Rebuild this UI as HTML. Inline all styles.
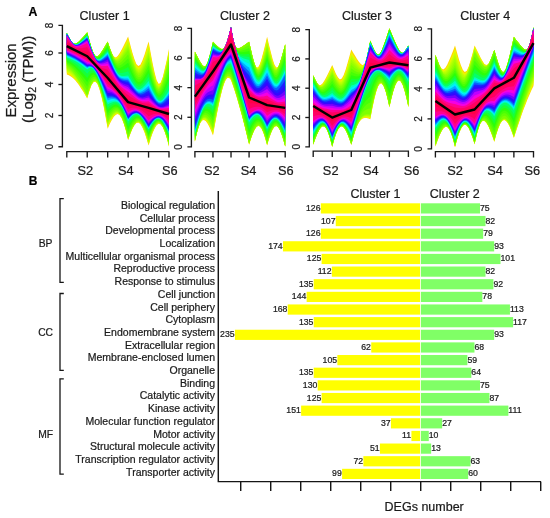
<!DOCTYPE html>
<html><head><meta charset="utf-8"><style>
html,body{margin:0;padding:0;background:#fff;width:550px;height:518px;overflow:hidden}
svg{display:block;will-change:transform}
text{stroke:#1a1a1a;stroke-width:0.22px;paint-order:stroke}
</style></head><body>
<svg width="550" height="518" viewBox="0 0 550 518" font-family="'Liberation Sans', sans-serif">
<rect width="550" height="518" fill="#fff"/>
<path d="M66.8,33.0L68.8,37.1L70.9,40.7L72.9,43.1L75.0,43.8L77.0,43.0L79.1,41.3L81.1,39.2L83.2,36.9L85.2,34.6L87.2,32.2L89.3,39.9L91.3,47.1L93.4,52.8L95.4,56.0L97.5,56.3L99.5,54.6L101.5,51.8L103.6,48.5L105.6,45.0L107.7,41.4L109.7,47.5L111.8,52.9L113.8,56.5L115.9,57.4L117.9,55.8L119.9,52.8L122.0,49.0L124.0,45.0L126.1,40.8L128.1,36.6L130.2,44.4L132.2,52.0L134.3,58.8L136.3,63.9L138.3,66.1L140.4,64.7L142.4,60.5L144.5,54.7L146.5,48.2L148.6,41.4L150.6,52.5L152.6,63.3L154.7,73.1L156.7,80.6L158.8,84.1L160.8,82.5L162.9,76.7L164.9,68.3L167.0,58.9L169.0,49.1L169.0,146.7L167.0,138.9L164.9,132.3L162.9,127.4L160.8,124.5L158.8,123.8L156.7,125.1L154.7,128.3L152.6,133.0L150.6,138.8L148.6,145.5L146.5,138.4L144.5,132.3L142.4,127.4L140.4,124.1L138.3,122.6L136.3,123.1L134.3,125.4L132.2,129.2L130.2,134.2L128.1,140.2L126.1,131.5L124.0,124.3L122.0,118.9L119.9,115.5L117.9,114.1L115.9,114.7L113.8,116.7L111.8,119.9L109.7,124.0L107.7,128.7L105.6,116.9L103.6,106.1L101.5,96.7L99.5,89.2L97.5,84.1L95.4,81.8L93.4,82.3L91.3,85.6L89.3,91.2L87.2,98.5L85.2,95.0L83.2,91.6L81.1,88.4L79.1,85.3L77.0,82.5L75.0,80.1L72.9,78.0L70.9,76.5L68.8,75.3L66.8,74.4Z" fill="#ffd700"/>
<path d="M66.8,33.0L68.8,37.1L70.9,40.7L72.9,43.1L75.0,43.8L77.0,43.0L79.1,41.3L81.1,39.2L83.2,37.0L85.2,34.6L87.2,32.2L89.3,39.9L91.3,47.1L93.4,52.8L95.4,56.0L97.5,56.4L99.5,54.7L101.5,51.9L103.6,48.6L105.6,45.1L107.7,41.5L109.7,47.6L111.8,53.1L113.8,56.9L115.9,58.1L117.9,56.8L119.9,54.1L122.0,50.6L124.0,46.8L126.1,42.8L128.1,38.8L130.2,46.4L132.2,53.7L134.3,60.3L136.3,65.3L138.3,67.6L140.4,66.3L142.4,62.4L144.5,56.8L146.5,50.6L148.6,44.1L150.6,54.9L152.6,65.3L154.7,74.7L156.7,81.8L158.8,85.0L160.8,83.3L162.9,77.6L164.9,69.5L167.0,60.4L169.0,50.9L169.0,146.2L167.0,138.6L164.9,132.1L162.9,127.3L160.8,124.3L158.8,123.5L156.7,124.8L154.7,127.9L152.6,132.4L150.6,138.1L148.6,144.7L146.5,137.7L144.5,131.7L142.4,126.9L140.4,123.7L138.3,122.3L136.3,122.9L134.3,125.1L132.2,128.9L130.2,133.9L128.1,139.8L126.1,131.2L124.0,124.0L122.0,118.5L119.9,115.1L117.9,113.7L115.9,114.1L113.8,116.0L111.8,119.0L109.7,122.9L107.7,127.5L105.6,115.8L103.6,105.2L101.5,96.1L99.5,88.7L97.5,83.7L95.4,81.5L93.4,82.1L91.3,85.3L89.3,90.7L87.2,97.9L85.2,94.4L83.2,90.9L81.1,87.6L79.1,84.5L77.0,81.7L75.0,79.1L72.9,77.0L70.9,75.3L68.8,74.0L66.8,73.0Z" fill="#ecf700"/>
<path d="M66.8,33.0L68.8,37.1L70.9,40.7L72.9,43.1L75.0,43.8L77.0,43.0L79.1,41.4L81.1,39.3L83.2,37.0L85.2,34.7L87.2,32.3L89.3,40.0L91.3,47.1L93.4,52.9L95.4,56.1L97.5,56.4L99.5,54.7L101.5,51.9L103.6,48.6L105.6,45.1L107.7,41.6L109.7,47.7L111.8,53.2L113.8,57.2L115.9,58.8L117.9,57.8L119.9,55.4L122.0,52.1L124.0,48.5L126.1,44.8L128.1,41.1L130.2,48.4L132.2,55.5L134.3,61.9L136.3,66.8L138.3,69.0L140.4,68.0L142.4,64.2L144.5,59.0L146.5,53.0L148.6,46.9L150.6,57.2L152.6,67.2L154.7,76.3L156.7,83.1L158.8,86.0L160.8,84.1L162.9,78.5L164.9,70.7L167.0,61.9L169.0,52.7L169.0,145.8L167.0,138.2L164.9,131.9L162.9,127.1L160.8,124.1L158.8,123.3L156.7,124.4L154.7,127.4L152.6,131.8L150.6,137.4L148.6,143.8L146.5,137.0L144.5,131.1L142.4,126.4L140.4,123.3L138.3,122.0L136.3,122.6L134.3,124.9L132.2,128.7L130.2,133.5L128.1,139.3L126.1,130.8L124.0,123.7L122.0,118.2L119.9,114.7L117.9,113.2L115.9,113.4L113.8,115.2L111.8,118.1L109.7,121.9L107.7,126.3L105.6,114.8L103.6,104.4L101.5,95.4L99.5,88.2L97.5,83.4L95.4,81.2L93.4,81.8L91.3,85.0L89.3,90.3L87.2,97.3L85.2,93.7L83.2,90.3L81.1,86.9L79.1,83.8L77.0,80.8L75.0,78.2L72.9,75.9L70.9,74.1L68.8,72.7L66.8,71.6Z" fill="#cbff00"/>
<path d="M66.8,33.0L68.8,37.1L70.9,40.7L72.9,43.1L75.0,43.8L77.0,43.1L79.1,41.4L81.1,39.3L83.2,37.0L85.2,34.7L87.2,32.4L89.3,40.0L91.3,47.2L93.4,52.9L95.4,56.1L97.5,56.4L99.5,54.8L101.5,52.0L103.6,48.7L105.6,45.2L107.7,41.7L109.7,47.8L111.8,53.4L113.8,57.6L115.9,59.4L117.9,58.8L119.9,56.7L122.0,53.7L124.0,50.3L126.1,46.8L128.1,43.3L130.2,50.4L132.2,57.2L134.3,63.4L136.3,68.2L138.3,70.5L140.4,69.6L142.4,66.1L144.5,61.1L146.5,55.5L148.6,49.6L150.6,59.6L152.6,69.2L154.7,77.8L156.7,84.3L158.8,86.9L160.8,85.0L162.9,79.4L164.9,71.8L167.0,63.3L169.0,54.5L169.0,145.3L167.0,137.9L164.9,131.7L162.9,126.9L160.8,123.9L158.8,123.0L156.7,124.1L154.7,127.0L152.6,131.3L150.6,136.7L148.6,142.9L146.5,136.2L144.5,130.5L142.4,125.9L140.4,123.0L138.3,121.7L136.3,122.4L134.3,124.7L132.2,128.4L130.2,133.2L128.1,138.8L126.1,130.5L124.0,123.4L122.0,117.9L119.9,114.3L117.9,112.7L115.9,112.8L113.8,114.4L111.8,117.2L109.7,120.8L107.7,125.0L105.6,113.8L103.6,103.6L101.5,94.7L99.5,87.7L97.5,83.0L95.4,80.9L93.4,81.6L91.3,84.7L89.3,89.9L87.2,96.7L85.2,93.1L83.2,89.6L81.1,86.2L79.1,83.0L77.0,80.0L75.0,77.2L72.9,74.9L70.9,72.9L68.8,71.4L66.8,70.2Z" fill="#b8ff00"/>
<path d="M66.8,33.0L68.8,37.1L70.9,40.7L72.9,43.1L75.0,43.9L77.0,43.1L79.1,41.4L81.1,39.3L83.2,37.1L85.2,34.7L87.2,32.4L89.3,40.0L91.3,47.2L93.4,52.9L95.4,56.1L97.5,56.5L99.5,54.8L101.5,52.0L103.6,48.8L105.6,45.3L107.7,41.8L109.7,47.9L111.8,53.5L113.8,57.9L115.9,60.0L117.9,59.8L119.9,57.9L122.0,55.2L124.0,52.1L126.1,48.8L128.1,45.5L130.2,52.3L132.2,59.0L134.3,65.0L136.3,69.7L138.3,71.9L140.4,71.2L142.4,68.0L144.5,63.3L146.5,57.9L148.6,52.3L150.6,61.9L152.6,71.2L154.7,79.4L156.7,85.5L158.8,87.8L160.8,85.8L162.9,80.3L164.9,73.0L167.0,64.8L169.0,56.4L169.0,144.9L167.0,137.6L164.9,131.4L162.9,126.7L160.8,123.7L158.8,122.8L156.7,123.7L154.7,126.5L152.6,130.7L150.6,136.0L148.6,142.1L146.5,135.5L144.5,129.9L142.4,125.5L140.4,122.6L138.3,121.5L136.3,122.1L134.3,124.4L132.2,128.1L130.2,132.9L128.1,138.4L126.1,130.1L124.0,123.1L122.0,117.6L119.9,113.9L117.9,112.2L115.9,112.2L113.8,113.7L111.8,116.3L109.7,119.7L107.7,123.8L105.6,112.8L103.6,102.7L101.5,94.1L99.5,87.2L97.5,82.7L95.4,80.7L93.4,81.3L91.3,84.4L89.3,89.5L87.2,96.1L85.2,92.5L83.2,89.0L81.1,85.5L79.1,82.2L77.0,79.1L75.0,76.3L72.9,73.8L70.9,71.7L68.8,70.1L66.8,68.8Z" fill="#a4ff00"/>
<path d="M66.8,33.0L68.8,37.1L70.9,40.7L72.9,43.1L75.0,43.9L77.0,43.1L79.1,41.4L81.1,39.4L83.2,37.1L85.2,34.8L87.2,32.5L89.3,40.1L91.3,47.2L93.4,52.9L95.4,56.1L97.5,56.5L99.5,54.8L101.5,52.1L103.6,48.8L105.6,45.4L107.7,41.9L109.7,48.0L111.8,53.6L113.8,58.2L115.9,60.6L117.9,60.8L119.9,59.2L122.0,56.8L124.0,53.9L126.1,50.9L128.1,47.8L130.2,54.3L132.2,60.7L134.3,66.5L136.3,71.1L138.3,73.4L140.4,72.8L142.4,69.8L144.5,65.4L146.5,60.3L148.6,55.1L150.6,64.3L152.6,73.1L154.7,81.0L156.7,86.7L158.8,88.7L160.8,86.6L162.9,81.2L164.9,74.1L167.0,66.3L169.0,58.2L169.0,144.4L167.0,137.3L164.9,131.2L162.9,126.5L160.8,123.5L158.8,122.5L156.7,123.4L154.7,126.0L152.6,130.1L150.6,135.3L148.6,141.2L146.5,134.8L144.5,129.3L142.4,125.0L140.4,122.2L138.3,121.2L136.3,121.9L134.3,124.2L132.2,127.8L130.2,132.5L128.1,137.9L126.1,129.8L124.0,122.8L122.0,117.3L119.9,113.6L117.9,111.7L115.9,111.6L113.8,112.9L111.8,115.4L109.7,118.7L107.7,122.6L105.6,111.7L103.6,101.9L101.5,93.4L99.5,86.7L97.5,82.3L95.4,80.4L93.4,81.1L91.3,84.1L89.3,89.1L87.2,95.5L85.2,91.9L83.2,88.3L81.1,84.8L79.1,81.5L77.0,78.3L75.0,75.3L72.9,72.8L70.9,70.6L68.8,68.8L66.8,67.4Z" fill="#91ff00"/>
<path d="M66.8,33.0L68.8,37.1L70.9,40.7L72.9,43.1L75.0,43.9L77.0,43.1L79.1,41.5L81.1,39.4L83.2,37.2L85.2,34.8L87.2,32.5L89.3,40.1L91.3,47.2L93.4,52.9L95.4,56.1L97.5,56.5L99.5,54.9L101.5,52.1L103.6,48.9L105.6,45.5L107.7,42.0L109.7,48.1L111.8,53.8L113.8,58.4L115.9,61.2L117.9,61.7L119.9,60.5L122.0,58.3L124.0,55.7L126.1,52.9L128.1,50.0L130.2,56.3L132.2,62.4L134.3,68.1L136.3,72.5L138.3,74.9L140.4,74.4L142.4,71.7L144.5,67.5L146.5,62.8L148.6,57.8L150.6,66.6L152.6,75.1L154.7,82.6L156.7,87.9L158.8,89.6L160.8,87.3L162.9,82.1L164.9,75.3L167.0,67.8L169.0,60.0L169.0,144.0L167.0,137.0L164.9,131.0L162.9,126.3L160.8,123.3L158.8,122.3L156.7,123.1L154.7,125.6L152.6,129.5L150.6,134.6L148.6,140.4L146.5,134.1L144.5,128.7L142.4,124.5L140.4,121.8L138.3,120.9L136.3,121.6L134.3,124.0L132.2,127.6L130.2,132.2L128.1,137.5L126.1,129.4L124.0,122.5L122.0,117.0L119.9,113.2L117.9,111.2L115.9,110.9L113.8,112.1L111.8,114.4L109.7,117.6L107.7,121.4L105.6,110.7L103.6,101.1L101.5,92.8L99.5,86.3L97.5,82.0L95.4,80.1L93.4,80.8L91.3,83.8L89.3,88.6L87.2,94.9L85.2,91.2L83.2,87.6L81.1,84.1L79.1,80.7L77.0,77.4L75.0,74.4L72.9,71.7L70.9,69.4L68.8,67.5L66.8,66.0Z" fill="#7dff00"/>
<path d="M66.8,33.0L68.8,37.1L70.9,40.7L72.9,43.2L75.0,44.0L77.0,43.3L79.1,41.8L81.1,39.8L83.2,37.6L85.2,35.3L87.2,33.0L89.3,40.5L91.3,47.5L93.4,53.1L95.4,56.4L97.5,57.0L99.5,55.6L101.5,53.1L103.6,50.1L105.6,46.9L107.7,43.6L109.7,49.5L111.8,55.1L113.8,59.8L115.9,62.8L117.9,63.8L119.9,63.0L122.0,61.3L124.0,59.1L126.1,56.7L128.1,54.2L130.2,60.1L132.2,65.8L134.3,71.0L136.3,75.1L138.3,77.2L140.4,76.9L142.4,74.4L144.5,70.6L146.5,66.2L148.6,61.7L150.6,69.8L152.6,77.6L154.7,84.6L156.7,89.6L158.8,91.5L160.8,89.6L162.9,85.0L164.9,78.8L167.0,72.0L169.0,65.0L169.0,142.3L167.0,135.7L164.9,130.0L162.9,125.5L160.8,122.7L158.8,121.6L156.7,122.4L154.7,124.7L152.6,128.4L150.6,133.1L148.6,138.6L146.5,132.6L144.5,127.5L142.4,123.5L140.4,120.8L138.3,119.8L136.3,120.3L134.3,122.4L132.2,125.6L130.2,129.9L128.1,134.8L126.1,127.1L124.0,120.5L122.0,115.3L119.9,111.7L117.9,109.8L115.9,109.4L113.8,110.4L111.8,112.4L109.7,115.2L107.7,118.6L105.6,108.6L103.6,99.5L101.5,91.6L99.5,85.2L97.5,80.8L95.4,78.6L93.4,78.7L91.3,81.1L89.3,85.2L87.2,90.7L85.2,87.4L83.2,84.1L81.1,80.9L79.1,77.8L77.0,74.9L75.0,72.2L72.9,69.7L70.9,67.7L68.8,66.0L66.8,64.6Z" fill="#62ff03"/>
<path d="M66.8,33.1L68.8,37.1L70.9,40.7L72.9,43.2L75.0,44.1L77.0,43.6L79.1,42.1L81.1,40.1L83.2,38.0L85.2,35.8L87.2,33.6L89.3,40.8L91.3,47.7L93.4,53.3L95.4,56.7L97.5,57.5L99.5,56.4L101.5,54.1L103.6,51.3L105.6,48.2L107.7,45.2L109.7,50.9L111.8,56.4L113.8,61.1L115.9,64.4L117.9,65.8L119.9,65.5L122.0,64.2L124.0,62.5L126.1,60.5L128.1,58.5L130.2,63.9L132.2,69.1L134.3,73.9L136.3,77.7L138.3,79.6L140.4,79.3L142.4,77.0L144.5,73.6L146.5,69.6L148.6,65.5L150.6,73.0L152.6,80.2L154.7,86.6L156.7,91.4L158.8,93.3L160.8,91.8L162.9,87.8L164.9,82.4L167.0,76.3L169.0,70.0L169.0,140.7L167.0,134.3L164.9,128.9L162.9,124.7L160.8,122.0L158.8,121.0L156.7,121.6L154.7,123.8L152.6,127.2L150.6,131.6L148.6,136.8L146.5,131.2L144.5,126.3L142.4,122.5L140.4,119.9L138.3,118.7L136.3,119.1L134.3,120.8L132.2,123.7L130.2,127.5L128.1,132.1L126.1,124.8L124.0,118.6L122.0,113.6L119.9,110.2L117.9,108.3L115.9,107.9L113.8,108.7L111.8,110.4L109.7,112.8L107.7,115.8L105.6,106.6L103.6,98.0L101.5,90.5L99.5,84.2L97.5,79.7L95.4,77.1L93.4,76.7L91.3,78.3L89.3,81.7L87.2,86.5L85.2,83.5L83.2,80.5L81.1,77.7L79.1,74.9L77.0,72.3L75.0,69.9L72.9,67.8L70.9,65.9L68.8,64.4L66.8,63.2Z" fill="#47ff06"/>
<path d="M66.8,33.1L68.8,37.1L70.9,40.7L72.9,43.2L75.0,44.2L77.0,43.8L79.1,42.4L81.1,40.5L83.2,38.5L85.2,36.3L87.2,34.1L89.3,41.2L91.3,47.9L93.4,53.5L95.4,57.0L97.5,58.0L99.5,57.1L101.5,55.0L103.6,52.4L105.6,49.6L107.7,46.8L109.7,52.3L111.8,57.7L113.8,62.5L115.9,66.0L117.9,67.8L119.9,68.0L122.0,67.1L124.0,65.8L126.1,64.3L128.1,62.8L130.2,67.7L132.2,72.4L134.3,76.8L136.3,80.2L138.3,82.0L140.4,81.7L142.4,79.7L144.5,76.6L146.5,73.1L148.6,69.4L150.6,76.2L152.6,82.7L154.7,88.6L156.7,93.1L158.8,95.1L160.8,94.1L162.9,90.7L164.9,85.9L167.0,80.6L169.0,75.0L169.0,139.0L167.0,133.0L164.9,127.9L162.9,124.0L160.8,121.4L158.8,120.4L156.7,120.9L154.7,122.9L152.6,126.1L150.6,130.2L148.6,134.9L146.5,129.7L144.5,125.1L142.4,121.5L140.4,118.9L138.3,117.7L136.3,117.8L134.3,119.2L132.2,121.8L130.2,125.2L128.1,129.3L126.1,122.5L124.0,116.6L122.0,112.0L119.9,108.7L117.9,106.9L115.9,106.4L113.8,106.9L111.8,108.4L109.7,110.5L107.7,113.0L105.6,104.5L103.6,96.5L101.5,89.4L99.5,83.3L97.5,78.6L95.4,75.6L93.4,74.6L91.3,75.6L89.3,78.2L87.2,82.2L85.2,79.6L83.2,77.0L81.1,74.5L79.1,72.0L77.0,69.7L75.0,67.6L72.9,65.8L70.9,64.2L68.8,62.9L66.8,61.8Z" fill="#2bff0a"/>
<path d="M66.8,33.1L68.8,37.1L70.9,40.7L72.9,43.2L75.0,44.3L77.0,44.0L79.1,42.7L81.1,40.9L83.2,38.9L85.2,36.8L87.2,34.7L89.3,41.6L91.3,48.1L93.4,53.6L95.4,57.3L97.5,58.5L99.5,57.8L101.5,56.0L103.6,53.6L105.6,51.0L107.7,48.3L109.7,53.8L111.8,59.0L113.8,63.8L115.9,67.5L117.9,69.7L119.9,70.4L122.0,70.1L124.0,69.2L126.1,68.2L128.1,67.0L130.2,71.4L132.2,75.8L134.3,79.7L136.3,82.8L138.3,84.4L140.4,84.2L142.4,82.4L144.5,79.6L146.5,76.5L148.6,73.3L150.6,79.4L152.6,85.3L154.7,90.7L156.7,94.9L158.8,96.9L160.8,96.3L162.9,93.5L164.9,89.5L167.0,84.8L169.0,80.0L169.0,137.3L167.0,131.7L164.9,126.9L162.9,123.2L160.8,120.7L158.8,119.7L156.7,120.2L154.7,122.0L152.6,125.0L150.6,128.7L148.6,133.1L146.5,128.3L144.5,124.0L142.4,120.5L140.4,117.9L138.3,116.6L136.3,116.5L134.3,117.7L132.2,119.9L130.2,122.9L128.1,126.6L126.1,120.2L124.0,114.7L122.0,110.3L119.9,107.2L117.9,105.4L115.9,104.8L113.8,105.2L111.8,106.4L109.7,108.1L107.7,110.2L105.6,102.4L103.6,95.0L101.5,88.3L99.5,82.4L97.5,77.6L95.4,74.3L93.4,72.7L91.3,72.9L89.3,74.8L87.2,78.0L85.2,75.7L83.2,73.4L81.1,71.3L79.1,69.2L77.0,67.2L75.0,65.4L72.9,63.8L70.9,62.5L68.8,61.3L66.8,60.3Z" fill="#18ff37"/>
<path d="M66.8,33.2L68.8,37.1L70.9,40.7L72.9,43.2L75.0,44.4L77.0,44.2L79.1,43.0L81.1,41.3L83.2,39.3L85.2,37.3L87.2,35.2L89.3,41.9L91.3,48.3L93.4,53.8L95.4,57.5L97.5,59.0L99.5,58.5L101.5,56.9L103.6,54.8L105.6,52.4L107.7,49.9L109.7,55.2L111.8,60.3L113.8,65.1L115.9,69.0L117.9,71.7L119.9,72.9L122.0,73.0L124.0,72.6L126.1,72.0L128.1,71.2L130.2,75.2L132.2,79.1L134.3,82.6L136.3,85.4L138.3,86.8L140.4,86.6L142.4,85.0L144.5,82.7L146.5,80.0L148.6,77.1L150.6,82.5L152.6,87.8L154.7,92.7L156.7,96.6L158.8,98.7L160.8,98.5L162.9,96.4L164.9,93.0L167.0,89.1L169.0,85.0L169.0,135.7L167.0,130.4L164.9,125.9L162.9,122.4L160.8,120.1L158.8,119.1L156.7,119.5L154.7,121.1L152.6,123.8L150.6,127.3L148.6,131.3L146.5,126.8L144.5,122.8L142.4,119.5L140.4,117.0L138.3,115.6L136.3,115.3L134.3,116.1L132.2,118.0L130.2,120.6L128.1,123.9L126.1,117.9L124.0,112.7L122.0,108.6L119.9,105.7L117.9,104.0L115.9,103.3L113.8,103.5L111.8,104.4L109.7,105.7L107.7,107.4L105.6,100.3L103.6,93.6L101.5,87.3L99.5,81.6L97.5,76.7L95.4,73.0L93.4,70.8L91.3,70.2L89.3,71.3L87.2,73.8L85.2,71.8L83.2,69.9L81.1,68.0L79.1,66.3L77.0,64.6L75.0,63.2L72.9,61.9L70.9,60.7L68.8,59.8L66.8,58.9Z" fill="#05ff6a"/>
<path d="M66.8,33.2L68.8,37.1L70.9,40.7L72.9,43.2L75.0,44.5L77.0,44.4L79.1,43.3L81.1,41.6L83.2,39.8L85.2,37.8L87.2,35.8L89.3,42.3L91.3,48.5L93.4,53.9L95.4,57.8L97.5,59.5L99.5,59.3L101.5,57.9L103.6,55.9L105.6,53.8L107.7,51.5L109.7,56.6L111.8,61.6L113.8,66.4L115.9,70.5L117.9,73.5L119.9,75.3L122.0,75.9L124.0,76.0L126.1,75.8L128.1,75.5L130.2,79.0L132.2,82.4L134.3,85.5L136.3,88.0L138.3,89.2L140.4,89.0L142.4,87.7L144.5,85.7L146.5,83.4L148.6,81.0L150.6,85.7L152.6,90.4L154.7,94.7L156.7,98.3L158.8,100.5L160.8,100.7L162.9,99.2L164.9,96.6L167.0,93.4L169.0,90.0L169.0,134.0L167.0,129.1L164.9,124.9L162.9,121.6L160.8,119.4L158.8,118.5L156.7,118.8L154.7,120.3L152.6,122.7L150.6,125.8L148.6,129.5L146.5,125.4L144.5,121.6L142.4,118.5L140.4,116.1L138.3,114.5L136.3,114.0L134.3,114.6L132.2,116.1L130.2,118.3L128.1,121.2L126.1,115.6L124.0,110.8L122.0,107.0L119.9,104.2L117.9,102.5L115.9,101.8L113.8,101.8L111.8,102.4L109.7,103.3L107.7,104.6L105.6,98.3L103.6,92.1L101.5,86.3L99.5,80.8L97.5,76.0L95.4,71.9L93.4,69.1L91.3,67.7L89.3,67.9L87.2,69.6L85.2,68.0L83.2,66.4L81.1,64.8L79.1,63.4L77.0,62.1L75.0,60.9L72.9,59.9L70.9,59.0L68.8,58.2L66.8,57.5Z" fill="#00ffbc"/>
<path d="M66.8,33.3L68.8,37.1L70.9,40.7L72.9,43.3L75.0,44.7L77.0,44.6L79.1,43.6L81.1,42.0L83.2,40.2L85.2,38.3L87.2,36.4L89.3,42.7L91.3,48.8L93.4,54.1L95.4,58.0L97.5,59.8L99.5,59.8L101.5,58.6L103.6,56.8L105.6,54.8L107.7,52.8L109.7,57.7L111.8,62.6L113.8,67.3L115.9,71.3L117.9,74.4L119.9,76.2L122.0,77.0L124.0,77.2L126.1,77.2L128.1,77.1L130.2,80.4L132.2,83.6L134.3,86.6L136.3,89.0L138.3,90.4L140.4,90.4L142.4,89.3L144.5,87.6L146.5,85.6L148.6,83.4L150.6,87.8L152.6,92.1L154.7,96.1L156.7,99.4L158.8,101.3L160.8,101.5L162.9,100.1L164.9,97.7L167.0,94.8L169.0,91.7L169.0,133.1L167.0,128.4L164.9,124.3L162.9,121.2L160.8,119.1L158.8,118.2L156.7,118.5L154.7,119.9L152.6,122.3L150.6,125.3L148.6,128.8L146.5,124.8L144.5,121.2L142.4,118.1L140.4,115.7L138.3,114.2L136.3,113.7L134.3,114.2L132.2,115.6L130.2,117.8L128.1,120.5L126.1,115.1L124.0,110.3L122.0,106.5L119.9,103.6L117.9,101.7L115.9,100.7L113.8,100.4L111.8,100.7L109.7,101.5L107.7,102.5L105.6,96.5L103.6,90.6L101.5,85.1L99.5,79.9L97.5,75.2L95.4,71.4L93.4,68.7L91.3,67.3L89.3,67.4L87.2,68.8L85.2,67.2L83.2,65.6L81.1,64.1L79.1,62.7L77.0,61.4L75.0,60.2L72.9,59.2L70.9,58.2L68.8,57.4L66.8,56.7Z" fill="#00eeff"/>
<path d="M66.8,33.5L68.8,37.2L70.9,40.7L72.9,43.3L75.0,44.8L77.0,44.8L79.1,43.9L81.1,42.4L83.2,40.7L85.2,38.8L87.2,37.0L89.3,43.1L91.3,49.1L93.4,54.3L95.4,58.2L97.5,60.2L99.5,60.3L101.5,59.3L103.6,57.7L105.6,55.9L107.7,54.0L109.7,58.8L111.8,63.6L113.8,68.2L115.9,72.2L117.9,75.3L119.9,77.2L122.0,78.1L124.0,78.5L126.1,78.6L128.1,78.6L130.2,81.8L132.2,84.9L134.3,87.7L136.3,90.1L138.3,91.6L140.4,91.8L142.4,91.0L144.5,89.5L146.5,87.7L148.6,85.9L150.6,89.9L152.6,93.8L154.7,97.5L156.7,100.5L158.8,102.2L160.8,102.3L162.9,101.0L164.9,98.8L167.0,96.2L169.0,93.5L169.0,132.3L167.0,127.7L164.9,123.8L162.9,120.7L160.8,118.7L158.8,117.9L156.7,118.3L154.7,119.6L152.6,121.9L150.6,124.7L148.6,128.1L146.5,124.2L144.5,120.7L142.4,117.7L140.4,115.4L138.3,113.9L136.3,113.3L134.3,113.8L132.2,115.1L130.2,117.2L128.1,119.8L126.1,114.5L124.0,109.9L122.0,106.0L119.9,102.9L117.9,100.8L115.9,99.6L113.8,99.1L111.8,99.1L109.7,99.6L107.7,100.4L105.6,94.6L103.6,89.1L101.5,83.8L99.5,78.9L97.5,74.5L95.4,70.9L93.4,68.2L91.3,66.9L89.3,66.8L87.2,67.9L85.2,66.4L83.2,64.8L81.1,63.3L79.1,61.9L77.0,60.6L75.0,59.5L72.9,58.4L70.9,57.5L68.8,56.6L66.8,55.8Z" fill="#00afff"/>
<path d="M66.8,33.6L68.8,37.3L70.9,40.7L72.9,43.4L75.0,44.9L77.0,45.0L79.1,44.2L81.1,42.8L83.2,41.1L85.2,39.4L87.2,37.6L89.3,43.6L91.3,49.4L93.4,54.5L95.4,58.5L97.5,60.5L99.5,60.9L101.5,60.0L103.6,58.6L105.6,57.0L107.7,55.3L109.7,60.0L111.8,64.6L113.8,69.1L115.9,73.0L117.9,76.2L119.9,78.2L122.0,79.2L124.0,79.7L126.1,80.0L128.1,80.2L130.2,83.2L132.2,86.1L134.3,88.8L136.3,91.1L138.3,92.7L140.4,93.2L142.4,92.6L144.5,91.4L146.5,89.9L148.6,88.3L150.6,92.0L152.6,95.6L154.7,98.9L156.7,101.6L158.8,103.1L160.8,103.2L162.9,102.0L164.9,100.0L167.0,97.7L169.0,95.3L169.0,131.3L167.0,126.9L164.9,123.2L162.9,120.3L160.8,118.4L158.8,117.6L156.7,118.0L154.7,119.3L152.6,121.4L150.6,124.2L148.6,127.4L146.5,123.6L144.5,120.2L142.4,117.3L140.4,115.0L138.3,113.5L136.3,113.0L134.3,113.4L132.2,114.6L130.2,116.6L128.1,119.1L126.1,114.0L124.0,109.4L122.0,105.5L119.9,102.3L117.9,100.0L115.9,98.6L113.8,97.8L111.8,97.6L109.7,97.8L107.7,98.3L105.6,92.9L103.6,87.6L101.5,82.6L99.5,78.0L97.5,73.8L95.4,70.4L93.4,67.8L91.3,66.4L89.3,66.2L87.2,67.1L85.2,65.6L83.2,64.1L81.1,62.6L79.1,61.2L77.0,59.9L75.0,58.7L72.9,57.7L70.9,56.7L68.8,55.8L66.8,55.0Z" fill="#0a5fff"/>
<path d="M66.8,34.0L68.8,37.6L70.9,40.9L72.9,43.6L75.0,45.1L77.0,45.2L79.1,44.4L81.1,43.1L83.2,41.5L85.2,39.9L87.2,38.2L89.3,44.0L91.3,49.6L93.4,54.7L95.4,58.7L97.5,60.9L99.5,61.5L101.5,60.9L103.6,59.7L105.6,58.3L107.7,56.7L109.7,61.3L111.8,65.8L113.8,70.1L115.9,74.0L117.9,77.1L119.9,79.2L122.0,80.4L124.0,81.1L126.1,81.5L128.1,81.8L130.2,84.6L132.2,87.3L134.3,89.9L136.3,92.2L138.3,93.8L140.4,94.5L142.4,94.2L144.5,93.3L146.5,92.0L148.6,90.7L150.6,93.9L152.6,97.1L154.7,100.1L156.7,102.6L158.8,104.2L160.8,104.4L162.9,103.6L164.9,102.0L167.0,100.1L169.0,98.2L169.0,130.0L167.0,125.9L164.9,122.3L162.9,119.6L160.8,117.9L158.8,117.2L156.7,117.6L154.7,118.8L152.6,120.8L150.6,123.4L148.6,126.3L146.5,122.7L144.5,119.5L142.4,116.7L140.4,114.5L138.3,113.1L136.3,112.5L134.3,112.9L132.2,114.0L130.2,115.9L128.1,118.2L126.1,113.3L124.0,108.8L122.0,104.9L119.9,101.7L117.9,99.3L115.9,97.6L113.8,96.7L111.8,96.2L109.7,96.2L107.7,96.5L105.6,91.3L103.6,86.4L101.5,81.6L99.5,77.2L97.5,73.2L95.4,69.9L93.4,67.5L91.3,66.1L89.3,65.8L87.2,66.4L85.2,64.9L83.2,63.4L81.1,62.0L79.1,60.6L77.0,59.3L75.0,58.1L72.9,57.0L70.9,56.0L68.8,55.1L66.8,54.3Z" fill="#1e1eff"/>
<path d="M66.8,34.4L68.8,37.8L70.9,41.1L72.9,43.7L75.0,45.2L77.0,45.4L79.1,44.7L81.1,43.4L83.2,42.0L85.2,40.4L87.2,38.8L89.3,44.4L91.3,49.9L93.4,54.9L95.4,58.9L97.5,61.3L99.5,62.1L101.5,61.7L103.6,60.8L105.6,59.5L107.7,58.2L109.7,62.6L111.8,67.0L113.8,71.2L115.9,75.0L117.9,78.1L119.9,80.2L122.0,81.5L124.0,82.4L126.1,83.0L128.1,83.5L130.2,86.1L132.2,88.6L134.3,91.1L136.3,93.3L138.3,95.0L140.4,95.8L142.4,95.8L144.5,95.1L146.5,94.1L148.6,93.0L150.6,95.9L152.6,98.7L154.7,101.4L156.7,103.6L158.8,105.2L160.8,105.7L162.9,105.2L164.9,104.0L167.0,102.5L169.0,101.0L169.0,128.7L167.0,124.8L164.9,121.5L162.9,119.0L160.8,117.4L158.8,116.8L156.7,117.2L154.7,118.4L152.6,120.2L150.6,122.6L148.6,125.3L146.5,121.9L144.5,118.8L142.4,116.1L140.4,114.0L138.3,112.6L136.3,112.1L134.3,112.4L132.2,113.4L130.2,115.1L128.1,117.3L126.1,112.5L124.0,108.2L122.0,104.3L119.9,101.1L117.9,98.6L115.9,96.7L113.8,95.6L111.8,94.9L109.7,94.7L107.7,94.7L105.6,89.8L103.6,85.1L101.5,80.6L99.5,76.4L97.5,72.6L95.4,69.5L93.4,67.1L91.3,65.7L89.3,65.3L87.2,65.7L85.2,64.2L83.2,62.7L81.1,61.3L79.1,59.9L77.0,58.7L75.0,57.5L72.9,56.4L70.9,55.4L68.8,54.4L66.8,53.6Z" fill="#3507ff"/>
<path d="M66.8,34.7L68.8,38.1L70.9,41.3L72.9,43.9L75.0,45.4L77.0,45.6L79.1,45.0L81.1,43.8L83.2,42.4L85.2,40.9L87.2,39.4L89.3,44.8L91.3,50.1L93.4,55.0L95.4,59.1L97.5,61.7L99.5,62.7L101.5,62.6L103.6,61.8L105.6,60.8L107.7,59.6L109.7,63.9L111.8,68.1L113.8,72.2L115.9,75.9L117.9,79.0L119.9,81.3L122.0,82.7L124.0,83.7L126.1,84.4L128.1,85.1L130.2,87.5L132.2,89.9L134.3,92.2L136.3,94.3L138.3,96.1L140.4,97.1L142.4,97.4L144.5,97.0L146.5,96.3L148.6,95.4L150.6,97.9L152.6,100.3L154.7,102.6L156.7,104.7L158.8,106.2L160.8,106.9L162.9,106.7L164.9,106.0L167.0,104.9L169.0,103.8L169.0,127.3L167.0,123.7L164.9,120.6L162.9,118.3L160.8,116.9L158.8,116.4L156.7,116.8L154.7,117.9L152.6,119.6L150.6,121.8L148.6,124.2L146.5,121.0L144.5,118.0L142.4,115.5L140.4,113.5L138.3,112.2L136.3,111.6L134.3,111.9L132.2,112.8L130.2,114.4L128.1,116.4L126.1,111.8L124.0,107.6L122.0,103.7L119.9,100.5L117.9,97.8L115.9,95.8L113.8,94.5L111.8,93.6L109.7,93.1L107.7,92.9L105.6,88.3L103.6,83.8L101.5,79.5L99.5,75.6L97.5,72.0L95.4,69.0L93.4,66.8L91.3,65.4L89.3,64.8L87.2,65.0L85.2,63.5L83.2,62.1L81.1,60.7L79.1,59.3L77.0,58.0L75.0,56.8L72.9,55.7L70.9,54.7L68.8,53.8L66.8,52.9Z" fill="#7200ff"/>
<path d="M66.8,35.3L68.8,38.5L70.9,41.6L72.9,44.1L75.0,45.7L77.0,46.0L79.1,45.4L81.1,44.4L83.2,43.1L85.2,41.8L87.2,40.4L89.3,45.6L91.3,50.7L93.4,55.4L95.4,59.4L97.5,62.2L99.5,63.5L101.5,63.6L103.6,63.2L105.6,62.4L107.7,61.6L109.7,65.7L111.8,69.7L113.8,73.6L115.9,77.2L117.9,80.3L119.9,82.6L122.0,84.2L124.0,85.4L126.1,86.3L128.1,87.2L130.2,89.4L132.2,91.5L134.3,93.6L136.3,95.6L138.3,97.2L140.4,98.3L142.4,98.8L144.5,98.6L146.5,98.1L148.6,97.5L150.6,99.6L152.6,101.8L154.7,103.8L156.7,105.6L158.8,107.0L160.8,107.6L162.9,107.6L164.9,107.0L167.0,106.3L169.0,105.4L169.0,125.9L167.0,122.6L164.9,119.8L162.9,117.7L160.8,116.4L158.8,115.9L156.7,116.3L154.7,117.3L152.6,118.8L150.6,120.8L148.6,122.9L146.5,119.9L144.5,117.1L142.4,114.8L140.4,112.9L138.3,111.6L136.3,111.0L134.3,111.1L132.2,111.9L130.2,113.3L128.1,115.1L126.1,110.7L124.0,106.6L122.0,102.9L119.9,99.6L117.9,96.9L115.9,94.8L113.8,93.2L111.8,92.1L109.7,91.4L107.7,90.9L105.6,86.6L103.6,82.4L101.5,78.4L99.5,74.7L97.5,71.4L95.4,68.5L93.4,66.3L91.3,64.8L89.3,64.0L87.2,63.9L85.2,62.4L83.2,61.1L81.1,59.7L79.1,58.4L77.0,57.2L75.0,56.0L72.9,54.9L70.9,53.9L68.8,53.0L66.8,52.1Z" fill="#bd00ff"/>
<path d="M66.8,35.9L68.8,39.0L70.9,42.0L72.9,44.4L75.0,46.0L77.0,46.4L79.1,46.0L81.1,45.1L83.2,44.0L85.2,42.8L87.2,41.6L89.3,46.5L91.3,51.3L93.4,55.8L95.4,59.8L97.5,62.7L99.5,64.3L101.5,64.8L103.6,64.6L105.6,64.2L107.7,63.7L109.7,67.5L111.8,71.4L113.8,75.1L115.9,78.6L117.9,81.6L119.9,84.0L122.0,85.8L124.0,87.2L126.1,88.3L128.1,89.5L130.2,91.4L132.2,93.3L134.3,95.2L136.3,96.9L138.3,98.5L140.4,99.6L142.4,100.1L144.5,100.1L146.5,99.8L148.6,99.4L150.6,101.3L152.6,103.1L154.7,104.9L156.7,106.5L158.8,107.6L160.8,108.2L162.9,108.2L164.9,107.8L167.0,107.3L169.0,106.6L169.0,124.6L167.0,121.5L164.9,118.9L162.9,117.0L160.8,115.8L158.8,115.5L156.7,115.8L154.7,116.7L152.6,118.0L150.6,119.7L148.6,121.6L146.5,118.8L144.5,116.2L142.4,114.0L140.4,112.2L138.3,110.9L136.3,110.3L134.3,110.3L132.2,110.9L130.2,112.1L128.1,113.6L126.1,109.5L124.0,105.6L122.0,102.0L119.9,98.8L117.9,96.0L115.9,93.7L113.8,91.9L111.8,90.6L109.7,89.6L107.7,88.8L105.6,84.9L103.6,81.0L101.5,77.3L99.5,73.9L97.5,70.7L95.4,67.9L93.4,65.7L91.3,64.1L89.3,63.1L87.2,62.6L85.2,61.3L83.2,60.0L81.1,58.7L79.1,57.4L77.0,56.3L75.0,55.1L72.9,54.1L70.9,53.1L68.8,52.1L66.8,51.2Z" fill="#f400e3"/>
<path d="M66.8,36.5L68.8,39.5L70.9,42.3L72.9,44.7L75.0,46.2L77.0,46.8L79.1,46.5L81.1,45.8L83.2,44.9L85.2,43.9L87.2,42.9L89.3,47.4L91.3,51.9L93.4,56.3L95.4,60.1L97.5,63.2L99.5,65.0L101.5,65.9L103.6,66.1L105.6,66.0L107.7,65.8L109.7,69.4L111.8,73.0L113.8,76.6L115.9,79.9L117.9,83.0L119.9,85.4L122.0,87.4L124.0,89.0L126.1,90.4L128.1,91.7L130.2,93.4L132.2,95.1L134.3,96.7L136.3,98.3L138.3,99.7L140.4,100.8L142.4,101.4L144.5,101.5L146.5,101.5L148.6,101.3L150.6,102.9L152.6,104.5L154.7,106.0L156.7,107.4L158.8,108.3L160.8,108.8L162.9,108.8L164.9,108.6L167.0,108.2L169.0,107.9L169.0,123.2L167.0,120.4L164.9,118.1L162.9,116.3L160.8,115.3L158.8,115.0L156.7,115.2L154.7,116.0L152.6,117.1L150.6,118.6L148.6,120.2L146.5,117.6L144.5,115.3L142.4,113.2L140.4,111.5L138.3,110.3L136.3,109.6L134.3,109.5L132.2,109.9L130.2,110.9L128.1,112.2L126.1,108.3L124.0,104.6L122.0,101.1L119.9,97.9L117.9,95.1L115.9,92.7L113.8,90.7L111.8,89.1L109.7,87.8L107.7,86.8L105.6,83.1L103.6,79.6L101.5,76.2L99.5,73.0L97.5,70.0L95.4,67.3L93.4,65.1L91.3,63.4L89.3,62.2L87.2,61.4L85.2,60.1L83.2,58.9L81.1,57.6L79.1,56.5L77.0,55.3L75.0,54.3L72.9,53.2L70.9,52.2L68.8,51.3L66.8,50.4Z" fill="#ff0090"/>
<path d="M66.8,39.5L68.8,41.9L70.9,44.1L72.9,46.1L75.0,47.5L77.0,48.2L79.1,48.3L81.1,48.2L83.2,47.8L85.2,47.5L87.2,47.1L89.3,50.9L91.3,54.6L93.4,58.3L95.4,61.6L97.5,64.4L99.5,66.4L101.5,67.7L103.6,68.5L105.6,69.1L107.7,69.7L109.7,72.9L111.8,76.2L113.8,79.3L115.9,82.4L117.9,85.2L119.9,87.7L122.0,89.8L124.0,91.7L126.1,93.4L128.1,95.1L130.2,96.4L132.2,97.7L134.3,99.0L136.3,100.3L138.3,101.4L140.4,102.3L142.4,102.9L144.5,103.2L146.5,103.4L148.6,103.4L150.6,104.7L152.6,106.0L154.7,107.2L156.7,108.3L158.8,109.2L160.8,109.7L162.9,109.9L164.9,109.9L167.0,109.9L169.0,109.8L169.0,120.2L167.0,118.1L164.9,116.4L162.9,115.0L160.8,114.1L158.8,113.7L156.7,113.7L154.7,114.0L152.6,114.6L150.6,115.4L148.6,116.3L146.5,114.3L144.5,112.6L142.4,111.0L140.4,109.6L138.3,108.6L136.3,107.9L134.3,107.7L132.2,107.8L130.2,108.3L128.1,109.0L126.1,105.6L124.0,102.3L122.0,99.1L119.9,96.2L117.9,93.5L115.9,91.0L113.8,88.9L111.8,87.0L109.7,85.4L107.7,83.9L105.6,80.8L103.6,77.7L101.5,74.7L99.5,71.8L97.5,69.1L95.4,66.6L93.4,64.4L91.3,62.5L89.3,61.0L87.2,59.7L85.2,58.5L83.2,57.4L81.1,56.2L79.1,55.1L77.0,54.0L75.0,52.9L72.9,51.9L70.9,50.9L68.8,50.0L66.8,49.0Z" fill="#ff0060"/>
<path d="M66.8,42.8L68.8,44.5L70.9,46.1L72.9,47.6L75.0,48.8L77.0,49.7L79.1,50.3L81.1,50.7L83.2,51.0L85.2,51.4L87.2,51.7L89.3,54.7L91.3,57.6L93.4,60.6L95.4,63.3L97.5,65.8L99.5,67.9L101.5,69.6L103.6,71.1L105.6,72.5L107.7,73.8L109.7,76.7L111.8,79.5L113.8,82.3L115.9,85.0L117.9,87.6L119.9,90.1L122.0,92.3L124.0,94.5L126.1,96.5L128.1,98.6L130.2,99.5L132.2,100.5L134.3,101.4L136.3,102.3L138.3,103.2L140.4,103.9L142.4,104.5L144.5,104.9L146.5,105.3L148.6,105.6L150.6,106.6L152.6,107.5L154.7,108.4L156.7,109.3L158.8,110.0L160.8,110.6L162.9,111.0L164.9,111.3L167.0,111.6L169.0,111.9L169.0,117.1L167.0,115.8L164.9,114.6L162.9,113.6L160.8,112.8L158.8,112.3L156.7,112.0L154.7,111.8L152.6,111.8L150.6,111.9L148.6,112.0L146.5,110.8L144.5,109.6L142.4,108.5L140.4,107.6L138.3,106.8L136.3,106.2L134.3,105.7L132.2,105.5L130.2,105.5L128.1,105.5L126.1,102.6L124.0,99.8L122.0,97.0L119.9,94.3L117.9,91.8L115.9,89.3L113.8,87.1L111.8,84.9L109.7,82.9L107.7,81.0L105.6,78.3L103.6,75.7L101.5,73.1L99.5,70.6L97.5,68.1L95.4,65.8L93.4,63.6L91.3,61.6L89.3,59.7L87.2,58.0L85.2,56.9L83.2,55.8L81.1,54.7L79.1,53.7L77.0,52.6L75.0,51.6L72.9,50.5L70.9,49.5L68.8,48.5L66.8,47.6Z" fill="#ff0048"/>
<path d="M66.8,46.1L87.2,56.3L107.7,78.0L128.1,102.1L148.6,107.8L169.0,114.0" fill="none" stroke="#000" stroke-width="2.4" stroke-linejoin="round"/>
<path d="M194.9,51.5L196.7,55.1L198.5,58.6L200.3,61.9L202.1,64.7L203.9,66.4L205.7,65.9L207.5,62.6L209.3,56.7L211.2,49.4L213.0,41.6L214.8,43.5L216.6,45.3L218.4,47.0L220.2,48.4L222.0,49.1L223.8,48.4L225.6,45.6L227.4,40.5L229.2,34.0L231.0,26.9L232.8,36.9L234.6,44.4L236.4,47.8L238.2,48.4L240.0,47.8L241.9,46.7L243.7,45.5L245.5,44.2L247.3,42.9L249.1,41.6L250.9,49.6L252.7,57.2L254.5,63.5L256.3,67.3L258.1,67.4L259.9,64.0L261.7,58.3L263.5,51.5L265.3,44.2L267.1,36.7L268.9,44.5L270.8,52.1L272.6,59.1L274.4,64.6L276.2,67.5L278.0,66.9L279.8,63.1L281.6,57.4L283.4,50.9L285.2,44.1L285.2,146.8L283.4,140.1L281.6,134.4L279.8,129.9L278.0,127.0L276.2,126.0L274.4,127.0L272.6,129.6L270.8,133.8L268.9,139.2L267.1,145.4L265.3,138.7L263.5,133.1L261.7,129.0L259.9,126.5L258.1,126.0L256.3,127.2L254.5,130.0L252.7,134.0L250.9,139.0L249.1,144.7L247.3,137.2L245.5,129.8L243.7,122.6L241.9,115.6L240.0,108.8L238.2,102.4L236.4,96.3L234.6,90.6L232.8,85.2L231.0,80.0L229.2,78.1L227.4,78.0L225.6,80.2L223.8,84.5L222.0,90.6L220.2,98.1L218.4,106.6L216.6,115.8L214.8,125.5L213.0,135.5L211.2,130.9L209.3,126.8L207.5,123.4L205.7,121.0L203.9,120.0L202.1,120.6L200.3,123.1L198.5,127.6L196.7,133.9L194.9,141.7Z" fill="#ffd700"/>
<path d="M194.9,51.6L196.7,55.1L198.5,58.6L200.3,61.9L202.1,64.7L203.9,66.4L205.7,66.0L207.5,62.7L209.3,56.8L211.2,49.5L213.0,41.7L214.8,43.5L216.6,45.3L218.4,47.0L220.2,48.4L222.0,49.1L223.8,48.4L225.6,45.6L227.4,40.5L229.2,34.0L231.0,26.9L232.8,36.9L234.6,44.4L236.4,47.8L238.2,48.4L240.0,47.8L241.9,46.8L243.7,45.6L245.5,44.3L247.3,43.0L249.1,41.7L250.9,49.6L252.7,57.2L254.5,63.6L256.3,67.6L258.1,68.1L259.9,65.0L261.7,59.6L263.5,53.0L265.3,45.9L267.1,38.7L268.9,46.2L270.8,53.6L272.6,60.4L274.4,65.6L276.2,68.1L278.0,67.2L279.8,63.2L281.6,57.5L283.4,51.0L285.2,44.2L285.2,146.7L283.4,140.0L281.6,134.3L279.8,129.8L278.0,127.0L276.2,125.9L274.4,126.8L272.6,129.4L270.8,133.6L268.9,138.9L267.1,145.1L265.3,138.4L263.5,132.9L261.7,128.8L259.9,126.4L258.1,125.8L256.3,127.0L254.5,129.8L252.7,133.8L250.9,138.8L249.1,144.4L247.3,136.9L245.5,129.5L243.7,122.3L241.9,115.2L240.0,108.4L238.2,102.0L236.4,95.9L234.6,90.1L232.8,84.7L231.0,79.5L229.2,77.6L227.4,77.6L225.6,79.7L223.8,84.0L222.0,90.0L220.2,97.4L218.4,105.7L216.6,114.8L214.8,124.3L213.0,134.2L211.2,129.7L209.3,125.7L207.5,122.5L205.7,120.3L203.9,119.4L202.1,120.2L200.3,122.8L198.5,127.4L196.7,133.8L194.9,141.5Z" fill="#ecf700"/>
<path d="M194.9,51.7L196.7,55.2L198.5,58.7L200.3,62.0L202.1,64.8L203.9,66.4L205.7,66.0L207.5,62.7L209.3,56.8L211.2,49.5L213.0,41.7L214.8,43.6L216.6,45.4L218.4,47.1L220.2,48.4L222.0,49.1L223.8,48.5L225.6,45.6L227.4,40.5L229.2,34.0L231.0,26.9L232.8,36.9L234.6,44.4L236.4,47.8L238.2,48.4L240.0,47.8L241.9,46.8L243.7,45.6L245.5,44.4L247.3,43.0L249.1,41.7L250.9,49.6L252.7,57.2L254.5,63.7L256.3,67.9L258.1,68.7L259.9,66.0L261.7,60.9L263.5,54.6L265.3,47.7L267.1,40.6L268.9,48.0L270.8,55.2L272.6,61.7L274.4,66.6L276.2,68.7L278.0,67.4L279.8,63.3L281.6,57.5L283.4,51.0L285.2,44.2L285.2,146.5L283.4,139.9L281.6,134.2L279.8,129.7L278.0,126.9L276.2,125.8L274.4,126.6L272.6,129.2L270.8,133.3L268.9,138.6L267.1,144.7L265.3,138.1L263.5,132.6L261.7,128.5L259.9,126.2L258.1,125.6L256.3,126.9L254.5,129.6L252.7,133.6L250.9,138.5L249.1,144.1L247.3,136.6L245.5,129.2L243.7,122.0L241.9,114.9L240.0,108.1L238.2,101.6L236.4,95.4L234.6,89.7L232.8,84.2L231.0,79.0L229.2,77.2L227.4,77.2L225.6,79.3L223.8,83.4L222.0,89.4L220.2,96.6L218.4,104.8L216.6,113.7L214.8,123.1L213.0,132.8L211.2,128.5L209.3,124.7L207.5,121.6L205.7,119.6L203.9,118.8L202.1,119.8L200.3,122.6L198.5,127.2L196.7,133.6L194.9,141.3Z" fill="#cbff00"/>
<path d="M194.9,51.8L196.7,55.3L198.5,58.8L200.3,62.0L202.1,64.8L203.9,66.5L205.7,66.0L207.5,62.7L209.3,56.9L211.2,49.6L213.0,41.8L214.8,43.6L216.6,45.4L218.4,47.1L220.2,48.5L222.0,49.2L223.8,48.5L225.6,45.6L227.4,40.5L229.2,34.0L231.0,26.9L232.8,36.9L234.6,44.4L236.4,47.8L238.2,48.4L240.0,47.9L241.9,46.9L243.7,45.7L245.5,44.4L247.3,43.1L249.1,41.8L250.9,49.7L252.7,57.2L254.5,63.7L256.3,68.2L258.1,69.4L259.9,67.0L261.7,62.2L263.5,56.1L265.3,49.4L267.1,42.5L268.9,49.8L270.8,56.7L272.6,62.9L274.4,67.5L276.2,69.3L278.0,67.7L279.8,63.4L281.6,57.6L283.4,51.0L285.2,44.3L285.2,146.4L283.4,139.8L281.6,134.1L279.8,129.7L278.0,126.8L276.2,125.7L274.4,126.5L272.6,129.0L270.8,133.0L268.9,138.3L267.1,144.4L265.3,137.8L263.5,132.4L261.7,128.3L259.9,126.0L258.1,125.5L256.3,126.7L254.5,129.4L252.7,133.4L250.9,138.3L249.1,143.8L247.3,136.3L245.5,128.9L243.7,121.6L241.9,114.6L240.0,107.7L238.2,101.2L236.4,95.0L234.6,89.2L232.8,83.7L231.0,78.5L229.2,76.7L227.4,76.8L225.6,78.8L223.8,82.9L222.0,88.7L220.2,95.8L218.4,103.9L216.6,112.7L214.8,121.9L213.0,131.5L211.2,127.3L209.3,123.6L207.5,120.7L205.7,118.8L203.9,118.3L202.1,119.4L200.3,122.3L198.5,127.0L196.7,133.4L194.9,141.1Z" fill="#b8ff00"/>
<path d="M194.9,51.8L196.7,55.4L198.5,58.8L200.3,62.1L202.1,64.8L203.9,66.5L205.7,66.1L207.5,62.8L209.3,56.9L211.2,49.6L213.0,41.9L214.8,43.7L216.6,45.5L218.4,47.1L220.2,48.5L222.0,49.2L223.8,48.5L225.6,45.6L227.4,40.5L229.2,34.0L231.0,26.9L232.8,36.9L234.6,44.4L236.4,47.8L238.2,48.5L240.0,47.9L241.9,46.9L243.7,45.7L245.5,44.5L247.3,43.2L249.1,41.9L250.9,49.7L252.7,57.2L254.5,63.8L256.3,68.5L258.1,70.0L259.9,68.0L261.7,63.5L263.5,57.6L265.3,51.2L267.1,44.5L268.9,51.5L270.8,58.3L272.6,64.2L274.4,68.5L276.2,69.9L278.0,68.0L279.8,63.5L281.6,57.6L283.4,51.1L285.2,44.4L285.2,146.3L283.4,139.7L281.6,134.0L279.8,129.6L278.0,126.7L276.2,125.6L274.4,126.3L272.6,128.8L270.8,132.8L268.9,138.0L267.1,144.0L265.3,137.5L263.5,132.1L261.7,128.1L259.9,125.8L258.1,125.3L256.3,126.5L254.5,129.3L252.7,133.2L250.9,138.0L249.1,143.6L247.3,136.0L245.5,128.6L243.7,121.3L241.9,114.2L240.0,107.4L238.2,100.8L236.4,94.6L234.6,88.8L232.8,83.2L231.0,77.9L229.2,76.3L227.4,76.3L225.6,78.4L223.8,82.4L222.0,88.1L220.2,95.1L218.4,103.0L216.6,111.6L214.8,120.7L213.0,130.2L211.2,126.1L209.3,122.6L207.5,119.8L205.7,118.1L203.9,117.7L202.1,119.0L200.3,122.0L198.5,126.8L196.7,133.2L194.9,140.9Z" fill="#a4ff00"/>
<path d="M194.9,51.9L196.7,55.4L198.5,58.9L200.3,62.1L202.1,64.9L203.9,66.5L205.7,66.1L207.5,62.8L209.3,57.0L211.2,49.7L213.0,41.9L214.8,43.8L216.6,45.5L218.4,47.2L220.2,48.5L222.0,49.2L223.8,48.5L225.6,45.6L227.4,40.5L229.2,34.0L231.0,26.9L232.8,36.9L234.6,44.4L236.4,47.8L238.2,48.5L240.0,47.9L241.9,46.9L243.7,45.8L245.5,44.5L247.3,43.2L249.1,41.9L250.9,49.7L252.7,57.2L254.5,63.8L256.3,68.7L258.1,70.6L259.9,69.0L261.7,64.8L263.5,59.2L265.3,52.9L267.1,46.5L268.9,53.3L270.8,59.8L272.6,65.5L274.4,69.4L276.2,70.5L278.0,68.2L279.8,63.6L281.6,57.6L283.4,51.1L285.2,44.4L285.2,146.1L283.4,139.6L281.6,134.0L279.8,129.5L278.0,126.6L276.2,125.4L274.4,126.1L272.6,128.6L270.8,132.5L268.9,137.6L267.1,143.7L265.3,137.2L263.5,131.8L261.7,127.9L259.9,125.6L258.1,125.1L256.3,126.3L254.5,129.1L252.7,133.0L250.9,137.8L249.1,143.3L247.3,135.7L245.5,128.3L243.7,121.0L241.9,113.9L240.0,107.0L238.2,100.4L236.4,94.2L234.6,88.3L232.8,82.7L231.0,77.4L229.2,75.8L227.4,75.9L225.6,77.9L223.8,81.8L222.0,87.4L220.2,94.3L218.4,102.1L216.6,110.6L214.8,119.5L213.0,128.8L211.2,124.9L209.3,121.6L207.5,119.0L205.7,117.4L203.9,117.2L202.1,118.6L200.3,121.7L198.5,126.7L196.7,133.1L194.9,140.7Z" fill="#91ff00"/>
<path d="M194.9,52.0L196.7,55.5L198.5,58.9L200.3,62.2L202.1,64.9L203.9,66.6L205.7,66.1L207.5,62.8L209.3,57.0L211.2,49.8L213.0,42.0L214.8,43.8L216.6,45.6L218.4,47.2L220.2,48.6L222.0,49.2L223.8,48.5L225.6,45.6L227.4,40.5L229.2,34.0L231.0,26.9L232.8,36.9L234.6,44.4L236.4,47.8L238.2,48.5L240.0,48.0L241.9,47.0L243.7,45.8L245.5,44.6L247.3,43.3L249.1,42.0L250.9,49.7L252.7,57.2L254.5,63.9L256.3,68.9L258.1,71.1L259.9,70.0L261.7,66.1L263.5,60.7L265.3,54.7L267.1,48.4L268.9,55.0L270.8,61.3L272.6,66.8L274.4,70.4L276.2,71.0L278.0,68.4L279.8,63.6L281.6,57.7L283.4,51.2L285.2,44.5L285.2,146.0L283.4,139.5L281.6,133.9L279.8,129.4L278.0,126.5L276.2,125.3L274.4,126.0L272.6,128.4L270.8,132.3L268.9,137.3L267.1,143.3L265.3,136.9L263.5,131.6L261.7,127.7L259.9,125.4L258.1,124.9L256.3,126.2L254.5,128.9L252.7,132.8L250.9,137.6L249.1,143.0L247.3,135.5L245.5,128.0L243.7,120.7L241.9,113.5L240.0,106.6L238.2,100.0L236.4,93.8L234.6,87.9L232.8,82.3L231.0,76.9L229.2,75.4L227.4,75.5L225.6,77.4L223.8,81.3L222.0,86.8L220.2,93.5L218.4,101.2L216.6,109.6L214.8,118.4L213.0,127.5L211.2,123.7L209.3,120.5L207.5,118.1L205.7,116.7L203.9,116.6L202.1,118.2L200.3,121.5L198.5,126.5L196.7,132.9L194.9,140.5Z" fill="#7dff00"/>
<path d="M194.9,53.9L196.7,57.2L198.5,60.4L200.3,63.4L202.1,65.9L203.9,67.3L205.7,66.6L207.5,63.2L209.3,57.4L211.2,50.3L213.0,42.7L214.8,44.4L216.6,46.1L218.4,47.7L220.2,48.9L222.0,49.5L223.8,48.6L225.6,45.6L227.4,40.5L229.2,34.0L231.0,26.9L232.8,36.9L234.6,44.5L236.4,48.4L238.2,49.6L240.0,49.4L241.9,48.8L243.7,47.9L245.5,47.0L247.3,46.0L249.1,45.0L250.9,52.3L252.7,59.4L254.5,65.8L256.3,70.6L258.1,72.8L259.9,71.7L261.7,68.1L263.5,63.0L265.3,57.3L267.1,51.4L268.9,57.7L270.8,63.7L272.6,68.9L274.4,72.4L276.2,73.1L278.0,70.9L279.8,66.5L281.6,60.9L283.4,54.9L285.2,48.7L285.2,143.9L283.4,137.8L281.6,132.4L279.8,128.2L278.0,125.4L276.2,124.2L274.4,124.8L272.6,127.0L270.8,130.6L268.9,135.4L267.1,141.0L265.3,134.9L263.5,129.9L261.7,126.1L259.9,123.9L258.1,123.3L256.3,124.3L254.5,126.7L252.7,130.2L250.9,134.6L249.1,139.6L247.3,132.2L245.5,125.0L243.7,117.8L241.9,110.8L240.0,104.1L238.2,97.6L236.4,91.4L234.6,85.6L232.8,80.0L231.0,74.7L229.2,73.4L227.4,73.7L225.6,75.8L223.8,79.6L222.0,85.0L220.2,91.5L218.4,98.9L216.6,106.9L214.8,115.3L213.0,124.0L211.2,120.6L209.3,117.8L207.5,115.7L205.7,114.7L203.9,115.0L202.1,116.9L200.3,120.4L198.5,125.5L196.7,131.9L194.9,139.4Z" fill="#62ff03"/>
<path d="M194.9,55.8L196.7,58.8L198.5,61.8L200.3,64.6L202.1,66.9L203.9,68.0L205.7,67.1L207.5,63.6L209.3,57.8L211.2,50.8L213.0,43.3L214.8,45.0L216.6,46.6L218.4,48.1L220.2,49.3L222.0,49.7L223.8,48.7L225.6,45.6L227.4,40.5L229.2,34.0L231.0,26.9L232.8,36.9L234.6,44.5L236.4,49.0L238.2,50.6L240.0,50.9L241.9,50.5L243.7,50.0L245.5,49.4L247.3,48.7L249.1,48.0L250.9,54.9L252.7,61.7L254.5,67.7L256.3,72.3L258.1,74.4L259.9,73.4L261.7,70.0L263.5,65.3L265.3,60.0L267.1,54.4L268.9,60.4L270.8,66.0L272.6,71.0L274.4,74.4L276.2,75.3L278.0,73.3L279.8,69.3L281.6,64.2L283.4,58.6L285.2,52.8L285.2,141.9L283.4,136.1L281.6,131.0L279.8,127.0L278.0,124.3L276.2,123.2L274.4,123.6L272.6,125.7L270.8,129.0L268.9,133.4L267.1,138.7L265.3,133.0L263.5,128.2L261.7,124.6L259.9,122.3L258.1,121.6L256.3,122.4L254.5,124.5L252.7,127.7L250.9,131.6L249.1,136.2L247.3,129.0L245.5,121.9L243.7,114.9L241.9,108.1L240.0,101.5L238.2,95.1L236.4,89.1L234.6,83.3L232.8,77.8L231.0,72.5L229.2,71.5L227.4,72.0L225.6,74.1L223.8,77.9L222.0,83.1L220.2,89.4L218.4,96.5L216.6,104.1L214.8,112.2L213.0,120.5L211.2,117.5L209.3,115.0L207.5,113.4L205.7,112.8L203.9,113.4L202.1,115.6L200.3,119.4L198.5,124.5L196.7,130.9L194.9,138.2Z" fill="#47ff06"/>
<path d="M194.9,57.6L196.7,60.5L198.5,63.2L200.3,65.8L202.1,67.8L203.9,68.7L205.7,67.6L207.5,63.9L209.3,58.2L211.2,51.3L213.0,44.0L214.8,45.6L216.6,47.2L218.4,48.6L220.2,49.7L222.0,50.0L223.8,48.8L225.6,45.6L227.4,40.5L229.2,34.0L231.0,26.9L232.8,36.9L234.6,44.5L236.4,49.5L238.2,51.6L240.0,52.3L241.9,52.3L243.7,52.1L245.5,51.8L247.3,51.4L249.1,51.0L250.9,57.6L252.7,63.9L254.5,69.7L256.3,74.0L258.1,76.0L259.9,75.1L261.7,72.0L263.5,67.6L265.3,62.6L267.1,57.5L268.9,63.0L270.8,68.4L272.6,73.1L274.4,76.4L276.2,77.4L278.0,75.8L279.8,72.1L281.6,67.4L283.4,62.3L285.2,57.0L285.2,139.8L283.4,134.3L281.6,129.6L279.8,125.8L278.0,123.2L276.2,122.1L274.4,122.5L272.6,124.3L270.8,127.4L268.9,131.5L267.1,136.4L265.3,131.0L263.5,126.5L261.7,123.0L259.9,120.8L258.1,120.0L256.3,120.6L254.5,122.3L252.7,125.1L250.9,128.7L249.1,132.8L247.3,125.8L245.5,118.8L243.7,112.0L241.9,105.4L240.0,98.9L238.2,92.7L236.4,86.7L234.6,81.0L232.8,75.5L231.0,70.2L229.2,69.6L227.4,70.3L225.6,72.5L223.8,76.2L222.0,81.3L220.2,87.4L218.4,94.1L216.6,101.4L214.8,109.1L213.0,117.0L211.2,114.4L209.3,112.3L207.5,111.0L205.7,110.8L203.9,111.9L202.1,114.4L200.3,118.3L198.5,123.6L196.7,129.9L194.9,137.1Z" fill="#2bff0a"/>
<path d="M194.9,59.5L196.7,62.1L198.5,64.7L200.3,67.0L202.1,68.8L203.9,69.4L205.7,68.1L207.5,64.3L209.3,58.5L211.2,51.8L213.0,44.7L214.8,46.2L216.6,47.7L218.4,49.1L220.2,50.0L222.0,50.2L223.8,48.9L225.6,45.6L227.4,40.5L229.2,34.0L231.0,26.9L232.8,36.9L234.6,44.5L236.4,49.9L238.2,52.6L240.0,53.7L241.9,54.1L243.7,54.2L245.5,54.2L247.3,54.1L249.1,54.0L250.9,60.2L252.7,66.2L254.5,71.6L256.3,75.7L258.1,77.6L259.9,76.8L261.7,73.9L263.5,69.8L265.3,65.2L267.1,60.5L268.9,65.7L270.8,70.7L272.6,75.2L274.4,78.4L276.2,79.5L278.0,78.2L279.8,75.0L281.6,70.7L283.4,66.0L285.2,61.1L285.2,137.7L283.4,132.6L281.6,128.2L279.8,124.6L278.0,122.1L276.2,121.0L274.4,121.3L272.6,122.9L270.8,125.8L268.9,129.5L267.1,134.0L265.3,129.1L263.5,124.8L261.7,121.5L259.9,119.3L258.1,118.4L256.3,118.7L254.5,120.2L252.7,122.6L250.9,125.7L249.1,129.3L247.3,122.5L245.5,115.8L243.7,109.2L241.9,102.6L240.0,96.3L238.2,90.2L236.4,84.3L234.6,78.7L232.8,73.3L231.0,68.0L229.2,67.7L227.4,68.5L225.6,70.8L223.8,74.6L222.0,79.5L220.2,85.3L218.4,91.8L216.6,98.7L214.8,106.0L213.0,113.5L211.2,111.2L209.3,109.6L207.5,108.7L205.7,108.9L203.9,110.3L202.1,113.1L200.3,117.3L198.5,122.6L196.7,128.9L194.9,136.0Z" fill="#18ff37"/>
<path d="M194.9,61.4L196.7,63.8L198.5,66.1L200.3,68.2L202.1,69.7L203.9,70.1L205.7,68.5L207.5,64.6L209.3,58.9L211.2,52.3L213.0,45.3L214.8,46.8L216.6,48.2L218.4,49.5L220.2,50.4L222.0,50.5L223.8,49.0L225.6,45.6L227.4,40.5L229.2,34.0L231.0,26.9L232.8,36.9L234.6,44.5L236.4,50.3L238.2,53.5L240.0,55.1L241.9,55.8L243.7,56.3L245.5,56.6L247.3,56.8L249.1,57.0L250.9,62.8L252.7,68.5L254.5,73.6L256.3,77.4L258.1,79.2L259.9,78.5L261.7,75.9L263.5,72.1L265.3,67.9L267.1,63.5L268.9,68.4L270.8,73.1L272.6,77.3L274.4,80.4L276.2,81.7L278.0,80.6L279.8,77.8L281.6,74.0L283.4,69.7L285.2,65.2L285.2,135.7L283.4,130.9L281.6,126.8L279.8,123.4L278.0,121.1L276.2,119.9L274.4,120.1L272.6,121.6L270.8,124.1L268.9,127.6L267.1,131.7L265.3,127.1L263.5,123.1L261.7,120.0L259.9,117.8L258.1,116.7L256.3,116.8L254.5,118.0L252.7,120.0L250.9,122.7L249.1,125.9L247.3,119.3L245.5,112.7L243.7,106.3L241.9,99.9L240.0,93.7L238.2,87.7L236.4,82.0L234.6,76.4L232.8,71.0L231.0,65.8L229.2,65.7L227.4,66.8L225.6,69.2L223.8,72.9L222.0,77.6L220.2,83.2L218.4,89.4L216.6,96.0L214.8,102.9L213.0,110.0L211.2,108.1L209.3,106.8L207.5,106.4L205.7,107.0L203.9,108.8L202.1,111.9L200.3,116.3L198.5,121.7L196.7,128.0L194.9,134.8Z" fill="#05ff6a"/>
<path d="M194.9,63.3L196.7,65.5L198.5,67.5L200.3,69.4L202.1,70.7L203.9,70.8L205.7,69.0L207.5,65.0L209.3,59.3L211.2,52.8L213.0,46.0L214.8,47.4L216.6,48.8L218.4,50.0L220.2,50.8L222.0,50.7L223.8,49.1L225.6,45.6L227.4,40.5L229.2,34.0L231.0,26.9L232.8,36.9L234.6,44.5L236.4,50.6L238.2,54.4L240.0,56.4L241.9,57.6L243.7,58.4L245.5,59.0L247.3,59.5L249.1,60.0L250.9,65.5L252.7,70.7L254.5,75.5L256.3,79.1L258.1,80.8L259.9,80.2L261.7,77.8L263.5,74.4L265.3,70.5L267.1,66.5L268.9,71.0L270.8,75.5L272.6,79.4L274.4,82.4L276.2,83.8L278.0,83.0L279.8,80.6L281.6,77.2L283.4,73.4L285.2,69.4L285.2,133.6L283.4,129.2L281.6,125.3L279.8,122.2L278.0,120.0L276.2,118.8L274.4,118.9L272.6,120.2L270.8,122.5L268.9,125.6L267.1,129.4L265.3,125.2L263.5,121.5L261.7,118.5L259.9,116.3L258.1,115.1L256.3,115.0L254.5,115.8L252.7,117.5L250.9,119.7L249.1,122.5L247.3,116.1L245.5,109.7L243.7,103.4L241.9,97.2L240.0,91.2L238.2,85.3L236.4,79.6L234.6,74.1L232.8,68.8L231.0,63.6L229.2,63.8L227.4,65.1L225.6,67.5L223.8,71.2L222.0,75.8L220.2,81.2L218.4,87.0L216.6,93.3L214.8,99.8L213.0,106.5L211.2,105.0L209.3,104.1L207.5,104.1L205.7,105.1L203.9,107.3L202.1,110.8L200.3,115.3L198.5,120.8L196.7,127.0L194.9,133.7Z" fill="#00ffbc"/>
<path d="M194.9,65.5L196.7,67.4L198.5,69.2L200.3,70.8L202.1,71.8L203.9,71.6L205.7,69.5L207.5,65.4L209.3,59.8L211.2,53.5L213.0,46.9L214.8,48.2L216.6,49.5L218.4,50.5L220.2,51.2L222.0,51.0L223.8,49.1L225.6,45.6L227.4,40.5L229.2,34.0L231.0,26.9L232.8,36.9L234.6,44.5L236.4,51.0L238.2,55.5L240.0,58.1L241.9,59.8L243.7,61.0L245.5,62.0L247.3,62.9L249.1,63.8L250.9,68.8L252.7,73.7L254.5,78.0L256.3,81.2L258.1,82.6L259.9,82.0L261.7,79.7L263.5,76.6L265.3,73.1L267.1,69.5L268.9,73.7L270.8,77.8L272.6,81.4L274.4,84.1L276.2,85.1L278.0,84.2L279.8,81.8L281.6,78.5L283.4,74.9L285.2,71.1L285.2,132.6L283.4,128.4L281.6,124.7L279.8,121.6L278.0,119.5L276.2,118.4L274.4,118.4L272.6,119.6L270.8,121.8L268.9,124.8L267.1,128.4L265.3,124.3L263.5,120.8L261.7,117.8L259.9,115.7L258.1,114.6L256.3,114.4L254.5,115.2L252.7,116.7L250.9,118.9L249.1,121.5L247.3,115.1L245.5,108.7L243.7,102.3L241.9,96.1L240.0,90.0L238.2,84.0L236.4,78.2L234.6,72.7L232.8,67.2L231.0,61.9L229.2,62.3L227.4,63.8L225.6,66.5L223.8,70.3L222.0,75.0L220.2,80.3L218.4,86.2L216.6,92.3L214.8,98.7L213.0,105.2L211.2,103.8L209.3,103.1L207.5,103.2L205.7,104.3L203.9,106.5L202.1,109.9L200.3,114.4L198.5,119.8L196.7,125.8L194.9,132.4Z" fill="#00eeff"/>
<path d="M194.9,67.6L196.7,69.2L198.5,70.8L200.3,72.1L202.1,72.8L203.9,72.4L205.7,70.1L207.5,65.8L209.3,60.3L211.2,54.1L213.0,47.7L214.8,49.0L216.6,50.1L218.4,51.1L220.2,51.7L222.0,51.2L223.8,49.2L225.6,45.6L227.4,40.5L229.2,34.0L231.0,26.9L232.8,36.9L234.6,44.5L236.4,51.1L238.2,56.4L240.0,59.7L241.9,62.0L243.7,63.6L245.5,65.0L247.3,66.4L249.1,67.6L250.9,72.2L252.7,76.6L254.5,80.5L256.3,83.3L258.1,84.4L259.9,83.7L261.7,81.6L263.5,78.8L265.3,75.6L267.1,72.4L268.9,76.3L270.8,80.1L272.6,83.4L274.4,85.8L276.2,86.5L278.0,85.4L279.8,83.0L281.6,79.9L283.4,76.4L285.2,72.8L285.2,131.7L283.4,127.6L281.6,124.0L279.8,121.0L278.0,119.0L276.2,117.9L274.4,117.9L272.6,119.1L270.8,121.1L268.9,124.0L267.1,127.5L265.3,123.5L263.5,120.0L261.7,117.2L259.9,115.2L258.1,114.0L256.3,113.9L254.5,114.6L252.7,116.0L250.9,118.1L249.1,120.6L247.3,114.1L245.5,107.6L243.7,101.3L241.9,95.0L240.0,88.8L238.2,82.7L236.4,76.9L234.6,71.2L232.8,65.7L231.0,60.3L229.2,60.9L227.4,62.6L225.6,65.5L223.8,69.4L222.0,74.2L220.2,79.5L218.4,85.3L216.6,91.3L214.8,97.5L213.0,103.9L211.2,102.7L209.3,102.1L207.5,102.2L205.7,103.4L203.9,105.7L202.1,109.1L200.3,113.5L198.5,118.8L196.7,124.7L194.9,131.1Z" fill="#00afff"/>
<path d="M194.9,69.8L196.7,71.2L198.5,72.5L200.3,73.5L202.1,73.9L203.9,73.1L205.7,70.6L207.5,66.3L209.3,60.9L211.2,54.9L213.0,48.7L214.8,49.8L216.6,50.9L218.4,51.8L220.2,52.1L222.0,51.5L223.8,49.3L225.6,45.6L227.4,40.5L229.2,34.0L231.0,26.9L232.8,36.9L234.6,44.5L236.4,51.1L238.2,57.1L240.0,61.2L241.9,64.1L243.7,66.3L245.5,68.1L247.3,69.8L249.1,71.5L250.9,75.6L252.7,79.5L254.5,82.9L256.3,85.4L258.1,86.2L259.9,85.5L261.7,83.5L263.5,81.0L265.3,78.3L267.1,75.4L268.9,79.0L270.8,82.4L272.6,85.4L274.4,87.5L276.2,88.0L278.0,86.8L279.8,84.5L281.6,81.5L283.4,78.3L285.2,74.9L285.2,130.6L283.4,126.6L281.6,123.2L279.8,120.4L278.0,118.4L276.2,117.4L274.4,117.4L272.6,118.5L270.8,120.5L268.9,123.2L267.1,126.5L265.3,122.6L263.5,119.3L261.7,116.6L259.9,114.6L258.1,113.5L256.3,113.3L254.5,114.0L252.7,115.3L250.9,117.3L249.1,119.6L247.3,113.1L245.5,106.6L243.7,100.2L241.9,93.9L240.0,87.6L238.2,81.5L236.4,75.6L234.6,69.8L232.8,64.2L231.0,58.7L229.2,59.5L227.4,61.4L225.6,64.5L223.8,68.5L222.0,73.3L220.2,78.6L218.4,84.3L216.6,90.2L214.8,96.2L213.0,102.4L211.2,101.4L209.3,100.9L207.5,101.2L205.7,102.4L203.9,104.7L202.1,108.1L200.3,112.4L198.5,117.6L196.7,123.4L194.9,129.6Z" fill="#0a5fff"/>
<path d="M194.9,72.4L196.7,73.4L198.5,74.4L200.3,75.0L202.1,75.1L203.9,74.1L205.7,71.4L207.5,67.1L209.3,61.8L211.2,56.0L213.0,50.1L214.8,51.1L216.6,52.0L218.4,52.7L220.2,52.9L222.0,51.9L223.8,49.3L225.6,45.6L227.4,40.5L229.2,34.0L231.0,26.9L232.8,36.9L234.6,44.5L236.4,51.1L238.2,57.6L240.0,62.6L241.9,66.2L243.7,68.9L245.5,71.2L247.3,73.3L249.1,75.3L250.9,78.9L252.7,82.4L254.5,85.4L256.3,87.5L258.1,88.1L259.9,87.4L261.7,85.7L263.5,83.5L265.3,81.2L267.1,78.8L268.9,82.0L270.8,85.1L272.6,87.8L274.4,89.8L276.2,90.6L278.0,89.9L279.8,88.0L281.6,85.6L283.4,82.9L285.2,80.2L285.2,128.5L283.4,124.9L281.6,121.7L279.8,119.2L278.0,117.4L276.2,116.5L274.4,116.7L272.6,117.8L270.8,119.7L268.9,122.2L267.1,125.2L265.3,121.6L263.5,118.4L261.7,115.8L259.9,113.9L258.1,112.9L256.3,112.8L254.5,113.4L252.7,114.8L250.9,116.6L249.1,118.8L247.3,112.3L245.5,105.8L243.7,99.4L241.9,93.1L240.0,86.8L238.2,80.6L236.4,74.6L234.6,68.8L232.8,63.1L231.0,57.6L229.2,58.6L227.4,60.5L225.6,63.5L223.8,67.5L222.0,72.1L220.2,77.1L218.4,82.5L216.6,88.2L214.8,93.9L213.0,99.8L211.2,99.1L209.3,98.8L207.5,99.3L205.7,100.6L203.9,102.9L202.1,106.2L200.3,110.3L198.5,115.2L196.7,120.7L194.9,126.7Z" fill="#1e1eff"/>
<path d="M194.9,74.9L196.7,75.6L198.5,76.2L200.3,76.6L202.1,76.4L203.9,75.0L205.7,72.1L207.5,67.8L209.3,62.7L211.2,57.2L213.0,51.6L214.8,52.4L216.6,53.2L218.4,53.7L220.2,53.6L222.0,52.3L223.8,49.3L225.6,45.6L227.4,40.5L229.2,34.0L231.0,26.9L232.8,36.9L234.6,44.5L236.4,51.1L238.2,57.8L240.0,63.6L241.9,68.1L243.7,71.4L245.5,74.2L247.3,76.8L249.1,79.2L250.9,82.3L252.7,85.3L254.5,87.9L256.3,89.6L258.1,90.0L259.9,89.3L261.7,87.9L263.5,86.1L265.3,84.1L267.1,82.1L268.9,84.9L270.8,87.7L272.6,90.2L274.4,92.1L276.2,93.1L278.0,92.9L279.8,91.6L281.6,89.7L283.4,87.6L285.2,85.4L285.2,126.4L283.4,123.1L281.6,120.2L279.8,118.0L278.0,116.4L276.2,115.7L274.4,116.0L272.6,117.1L270.8,118.9L268.9,121.2L267.1,124.0L265.3,120.5L263.5,117.5L261.7,115.0L259.9,113.3L258.1,112.4L256.3,112.3L254.5,112.9L252.7,114.2L250.9,115.9L249.1,118.0L247.3,111.5L245.5,105.0L243.7,98.6L241.9,92.2L240.0,85.9L238.2,79.8L236.4,73.7L234.6,67.8L232.8,62.1L231.0,56.5L229.2,57.6L227.4,59.7L225.6,62.6L223.8,66.4L222.0,70.8L220.2,75.6L218.4,80.8L216.6,86.1L214.8,91.6L213.0,97.2L211.2,96.8L209.3,96.8L207.5,97.4L205.7,98.8L203.9,101.1L202.1,104.3L200.3,108.2L198.5,112.9L196.7,118.1L194.9,123.7Z" fill="#3507ff"/>
<path d="M194.9,77.5L196.7,77.9L198.5,78.1L200.3,78.2L202.1,77.6L203.9,75.9L205.7,72.8L207.5,68.6L209.3,63.7L211.2,58.4L213.0,53.0L214.8,53.7L216.6,54.3L218.4,54.6L220.2,54.2L222.0,52.6L223.8,49.3L225.6,45.6L227.4,40.5L229.2,34.0L231.0,26.9L232.8,36.9L234.6,44.5L236.4,51.1L238.2,57.8L240.0,64.3L241.9,69.7L243.7,73.9L245.5,77.3L247.3,80.2L249.1,83.1L250.9,85.7L252.7,88.3L254.5,90.4L256.3,91.6L258.1,91.9L259.9,91.2L261.7,90.0L263.5,88.6L265.3,87.1L267.1,85.5L268.9,87.9L270.8,90.3L272.6,92.5L274.4,94.4L276.2,95.6L278.0,95.8L279.8,95.1L281.6,93.8L283.4,92.3L285.2,90.6L285.2,124.4L283.4,121.4L281.6,118.8L279.8,116.7L278.0,115.4L276.2,114.9L274.4,115.3L272.6,116.4L270.8,118.1L268.9,120.2L267.1,122.8L265.3,119.5L263.5,116.6L261.7,114.3L259.9,112.6L258.1,111.8L256.3,111.8L254.5,112.4L252.7,113.6L250.9,115.2L249.1,117.2L247.3,110.7L245.5,104.2L243.7,97.8L241.9,91.4L240.0,85.1L238.2,78.9L236.4,72.8L234.6,66.9L232.8,61.1L231.0,55.5L229.2,56.7L227.4,58.8L225.6,61.7L223.8,65.3L222.0,69.5L220.2,74.1L218.4,79.0L216.6,84.1L214.8,89.3L213.0,94.6L211.2,94.5L209.3,94.8L207.5,95.6L205.7,97.0L203.9,99.3L202.1,102.4L200.3,106.2L198.5,110.6L196.7,115.5L194.9,120.7Z" fill="#7200ff"/>
<path d="M194.9,78.7L196.7,78.9L198.5,79.0L200.3,78.9L202.1,78.2L203.9,76.5L205.7,73.5L207.5,69.4L209.3,64.6L211.2,59.5L213.0,54.4L214.8,54.9L216.6,55.4L218.4,55.5L220.2,54.8L222.0,52.8L223.8,49.3L225.6,45.6L227.4,40.5L229.2,34.0L231.0,26.9L232.8,36.9L234.6,44.5L236.4,51.1L238.2,57.8L240.0,64.4L241.9,70.4L243.7,75.3L245.5,79.1L247.3,82.4L249.1,85.5L250.9,87.8L252.7,90.0L254.5,91.9L256.3,93.1L258.1,93.5L259.9,93.0L261.7,92.2L263.5,91.2L265.3,90.0L267.1,88.9L268.9,90.9L270.8,92.9L272.6,94.8L274.4,96.5L276.2,97.7L278.0,98.1L279.8,97.7L281.6,96.8L283.4,95.7L285.2,94.5L285.2,122.1L283.4,119.4L281.6,117.1L279.8,115.4L278.0,114.3L276.2,113.9L274.4,114.2L272.6,115.1L270.8,116.6L268.9,118.5L267.1,120.7L265.3,117.6L263.5,115.0L261.7,112.9L259.9,111.6L258.1,111.0L256.3,111.1L254.5,111.8L252.7,112.9L250.9,114.4L249.1,116.2L247.3,109.7L245.5,103.3L243.7,96.8L241.9,90.5L240.0,84.1L238.2,77.9L236.4,71.8L234.6,65.8L232.8,59.9L231.0,54.3L229.2,55.7L227.4,57.7L225.6,60.4L223.8,63.7L222.0,67.5L220.2,71.7L218.4,76.1L216.6,80.7L214.8,85.5L213.0,90.3L211.2,90.7L209.3,91.4L207.5,92.6L205.7,94.3L203.9,96.8L202.1,99.8L200.3,103.5L198.5,107.7L196.7,112.3L194.9,117.1Z" fill="#bd00ff"/>
<path d="M194.9,79.6L196.7,79.6L198.5,79.5L200.3,79.3L202.1,78.5L203.9,76.9L205.7,74.0L207.5,70.1L209.3,65.5L211.2,60.6L213.0,55.7L214.8,56.1L216.6,56.4L218.4,56.3L220.2,55.3L222.0,52.9L223.8,49.3L225.6,45.6L227.4,40.5L229.2,34.0L231.0,27.0L232.8,36.9L234.6,44.5L236.4,51.1L238.2,57.8L240.0,64.4L241.9,70.8L243.7,76.2L245.5,80.5L247.3,84.1L249.1,87.4L250.9,89.4L252.7,91.4L254.5,93.2L256.3,94.4L258.1,95.0L259.9,94.9L261.7,94.4L263.5,93.8L265.3,93.0L267.1,92.2L268.9,93.9L270.8,95.6L272.6,97.1L274.4,98.6L276.2,99.6L278.0,100.1L279.8,100.0L281.6,99.5L283.4,98.7L285.2,97.8L285.2,119.7L283.4,117.4L281.6,115.5L279.8,114.0L278.0,113.0L276.2,112.7L274.4,112.9L272.6,113.7L270.8,114.9L268.9,116.4L267.1,118.2L265.3,115.5L263.5,113.2L261.7,111.5L259.9,110.5L258.1,110.1L256.3,110.4L254.5,111.1L252.7,112.2L250.9,113.6L249.1,115.2L247.3,108.7L245.5,102.3L243.7,95.8L241.9,89.4L240.0,83.1L238.2,76.8L236.4,70.7L234.6,64.6L232.8,58.7L231.0,53.0L229.2,54.6L227.4,56.6L225.6,59.0L223.8,61.9L222.0,65.2L220.2,68.9L218.4,72.8L216.6,76.9L214.8,81.1L213.0,85.4L211.2,86.3L209.3,87.6L207.5,89.2L205.7,91.3L203.9,94.0L202.1,97.1L200.3,100.7L198.5,104.7L196.7,108.9L194.9,113.3Z" fill="#f400e3"/>
<path d="M194.9,80.4L196.7,80.3L198.5,80.1L200.3,79.7L202.1,78.9L203.9,77.3L205.7,74.6L207.5,70.9L209.3,66.5L211.2,61.8L213.0,56.9L214.8,57.2L216.6,57.4L218.4,57.0L220.2,55.7L222.0,53.0L223.8,49.3L225.6,45.6L227.4,40.5L229.2,34.0L231.0,27.0L232.8,36.9L234.6,44.5L236.4,51.1L238.2,57.8L240.0,64.4L241.9,71.0L243.7,77.0L245.5,81.9L247.3,85.8L249.1,89.3L250.9,91.1L252.7,92.8L254.5,94.5L256.3,95.7L258.1,96.5L259.9,96.7L261.7,96.6L263.5,96.4L265.3,96.0L267.1,95.6L268.9,96.9L270.8,98.2L272.6,99.4L274.4,100.6L276.2,101.6L278.0,102.2L279.8,102.3L281.6,102.1L283.4,101.7L285.2,101.2L285.2,117.3L283.4,115.4L281.6,113.8L279.8,112.6L278.0,111.8L276.2,111.5L274.4,111.7L272.6,112.3L270.8,113.2L268.9,114.4L267.1,115.8L265.3,113.3L263.5,111.4L261.7,110.1L259.9,109.4L258.1,109.3L256.3,109.7L254.5,110.5L252.7,111.5L250.9,112.7L249.1,114.1L247.3,107.7L245.5,101.2L243.7,94.8L241.9,88.4L240.0,82.1L238.2,75.8L236.4,69.6L234.6,63.5L232.8,57.6L231.0,51.8L229.2,53.5L227.4,55.5L225.6,57.7L223.8,60.3L222.0,63.1L220.2,66.2L218.4,69.6L216.6,73.1L214.8,76.8L213.0,80.6L211.2,82.0L209.3,83.8L207.5,85.9L205.7,88.4L203.9,91.3L202.1,94.5L200.3,98.0L198.5,101.7L196.7,105.5L194.9,109.5Z" fill="#ff0090"/>
<path d="M194.9,85.4L196.7,84.6L198.5,83.6L200.3,82.6L202.1,81.3L203.9,79.4L205.7,76.8L207.5,73.4L209.3,69.6L211.2,65.6L213.0,61.5L214.8,60.9L216.6,60.1L218.4,59.0L220.2,57.3L222.0,54.5L223.8,50.8L225.6,46.5L227.4,41.9L229.2,37.1L231.0,32.3L232.8,39.2L234.6,46.0L236.4,52.8L238.2,59.6L240.0,66.3L241.9,72.7L243.7,78.5L245.5,83.5L247.3,87.9L249.1,91.9L250.9,93.4L252.7,94.8L254.5,96.2L256.3,97.3L258.1,98.1L259.9,98.5L261.7,98.7L263.5,98.8L265.3,98.8L267.1,98.8L268.9,99.7L270.8,100.7L272.6,101.6L274.4,102.5L276.2,103.2L278.0,103.7L279.8,104.0L281.6,103.9L283.4,103.7L285.2,103.5L285.2,114.2L283.4,112.9L281.6,111.7L279.8,110.8L278.0,110.1L276.2,109.9L274.4,109.9L272.6,110.2L270.8,110.8L268.9,111.5L267.1,112.3L265.3,110.4L263.5,108.9L261.7,107.7L259.9,107.1L258.1,106.8L256.3,106.8L254.5,107.1L252.7,107.6L250.9,108.2L249.1,109.0L247.3,102.9L245.5,96.8L243.7,90.7L241.9,84.6L240.0,78.6L238.2,72.6L236.4,66.7L234.6,60.8L232.8,55.1L231.0,49.4L229.2,51.5L227.4,53.7L225.6,56.1L223.8,58.6L222.0,61.4L220.2,64.3L218.4,67.4L216.6,70.7L214.8,74.0L213.0,77.4L211.2,79.2L209.3,81.2L207.5,83.5L205.7,86.1L203.9,88.8L202.1,91.9L200.3,95.0L198.5,98.3L196.7,101.7L194.9,105.2Z" fill="#ff0060"/>
<path d="M194.9,91.0L196.7,89.3L198.5,87.6L200.3,85.8L202.1,83.9L203.9,81.7L205.7,79.2L207.5,76.2L209.3,73.1L211.2,69.8L213.0,66.5L214.8,64.8L216.6,63.1L218.4,61.2L220.2,59.0L222.0,56.3L223.8,53.1L225.6,49.6L227.4,45.9L229.2,42.2L231.0,38.4L232.8,44.5L234.6,50.6L236.4,56.6L238.2,62.7L240.0,68.6L241.9,74.5L243.7,80.0L245.5,85.2L247.3,90.0L249.1,94.7L250.9,95.8L252.7,96.9L254.5,98.0L256.3,98.9L258.1,99.7L259.9,100.3L261.7,100.8L263.5,101.2L265.3,101.6L267.1,101.9L268.9,102.6L270.8,103.2L272.6,103.8L274.4,104.4L276.2,104.9L278.0,105.3L279.8,105.5L281.6,105.6L283.4,105.7L285.2,105.7L285.2,111.1L283.4,110.2L281.6,109.5L279.8,108.9L278.0,108.5L276.2,108.2L274.4,108.1L272.6,108.1L270.8,108.2L268.9,108.4L267.1,108.7L265.3,107.4L263.5,106.2L261.7,105.3L259.9,104.6L258.1,104.0L256.3,103.7L254.5,103.5L252.7,103.3L250.9,103.3L249.1,103.2L247.3,97.5L245.5,91.8L243.7,86.1L241.9,80.5L240.0,74.8L238.2,69.2L236.4,63.5L234.6,58.0L232.8,52.4L231.0,47.0L229.2,49.4L227.4,51.8L225.6,54.3L223.8,57.0L222.0,59.7L220.2,62.5L218.4,65.4L216.6,68.4L214.8,71.4L213.0,74.5L211.2,76.6L209.3,78.9L207.5,81.3L205.7,83.8L203.9,86.4L202.1,89.2L200.3,92.1L198.5,95.0L196.7,97.9L194.9,100.9Z" fill="#ff0048"/>
<path d="M194.9,96.6L213.0,71.5L231.0,44.5L249.1,97.5L267.1,105.1L285.2,107.9" fill="none" stroke="#000" stroke-width="2.4" stroke-linejoin="round"/>
<path d="M313.2,75.2L315.1,79.2L317.0,82.7L318.9,84.9L320.8,85.1L322.7,83.3L324.6,80.3L326.5,76.7L328.4,72.9L330.3,69.0L332.2,65.0L334.1,69.6L336.0,74.0L338.0,77.6L339.9,79.4L341.8,78.6L343.7,75.1L345.6,69.7L347.5,63.3L349.4,56.5L351.3,49.5L353.2,52.7L355.1,55.8L357.0,58.9L358.9,61.7L360.8,64.1L362.7,65.2L364.6,63.8L366.5,58.7L368.4,50.3L370.3,40.5L372.2,45.2L374.1,49.6L376.0,53.1L377.9,54.7L379.8,53.7L381.7,50.4L383.6,45.5L385.6,40.0L387.5,34.2L389.4,28.2L391.3,32.8L393.2,37.4L395.1,41.8L397.0,46.1L398.9,49.7L400.8,52.2L402.7,52.9L404.6,51.4L406.5,48.7L408.4,45.5L408.4,107.6L406.5,98.6L404.6,90.9L402.7,85.0L400.8,81.4L398.9,80.3L397.0,81.9L395.1,85.8L393.2,91.6L391.3,99.0L389.4,107.6L387.5,98.6L385.6,91.2L383.6,86.0L381.7,83.4L379.8,83.7L377.9,86.8L376.0,92.4L374.1,100.0L372.2,109.1L370.3,119.3L368.4,118.5L366.5,118.0L364.6,118.0L362.7,118.6L360.8,120.0L358.9,122.5L357.0,126.3L355.1,131.4L353.2,137.7L351.3,145.0L349.4,139.3L347.5,134.3L345.6,130.2L343.7,127.5L341.8,126.3L339.9,127.0L338.0,129.6L336.0,134.1L334.1,140.0L332.2,147.1L330.3,139.6L328.4,133.5L326.5,129.1L324.6,126.7L322.7,126.3L320.8,127.7L318.9,130.6L317.0,134.6L315.1,139.5L313.2,145.0Z" fill="#ffd700"/>
<path d="M313.2,75.2L315.1,79.2L317.0,82.8L318.9,85.1L320.8,85.5L322.7,84.0L324.6,81.2L326.5,77.9L328.4,74.2L330.3,70.4L332.2,66.6L334.1,71.1L336.0,75.3L338.0,78.8L339.9,80.6L341.8,80.0L343.7,76.6L345.6,71.5L347.5,65.3L349.4,58.8L351.3,52.1L353.2,55.0L355.1,57.9L357.0,60.7L358.9,63.2L360.8,65.2L362.7,66.0L364.6,64.1L366.5,58.7L368.4,50.3L370.3,40.5L372.2,45.2L374.1,49.6L376.0,53.1L377.9,54.7L379.8,53.7L381.7,50.4L383.6,45.6L385.6,40.0L387.5,34.2L389.4,28.2L391.3,32.8L393.2,37.4L395.1,41.9L397.0,46.1L398.9,49.8L400.8,52.3L402.7,52.9L404.6,51.5L406.5,48.7L408.4,45.5L408.4,107.3L406.5,98.3L404.6,90.7L402.7,84.9L400.8,81.3L398.9,80.2L397.0,81.7L395.1,85.6L393.2,91.4L391.3,98.8L389.4,107.3L387.5,98.4L385.6,91.1L383.6,85.9L381.7,83.3L379.8,83.5L377.9,86.5L376.0,92.0L374.1,99.4L372.2,108.4L370.3,118.5L368.4,117.8L366.5,117.4L364.6,117.4L362.7,118.1L360.8,119.6L358.9,122.2L357.0,126.1L355.1,131.2L353.2,137.5L351.3,144.8L349.4,139.1L347.5,134.2L345.6,130.1L343.7,127.4L341.8,126.2L339.9,126.9L338.0,129.5L336.0,133.9L334.1,139.9L332.2,146.9L330.3,139.5L328.4,133.4L326.5,129.0L324.6,126.6L322.7,126.2L320.8,127.6L318.9,130.5L317.0,134.5L315.1,139.4L313.2,144.8Z" fill="#ecf700"/>
<path d="M313.2,75.3L315.1,79.3L317.0,82.9L318.9,85.4L320.8,86.0L322.7,84.7L324.6,82.2L326.5,79.0L328.4,75.5L330.3,71.9L332.2,68.2L334.1,72.5L336.0,76.6L338.0,80.0L339.9,81.8L341.8,81.3L343.7,78.2L345.6,73.3L347.5,67.4L349.4,61.1L351.3,54.7L353.2,57.3L355.1,59.9L357.0,62.5L358.9,64.7L360.8,66.4L362.7,66.7L364.6,64.4L366.5,58.7L368.4,50.3L370.3,40.6L372.2,45.3L374.1,49.7L376.0,53.1L377.9,54.7L379.8,53.7L381.7,50.4L383.6,45.6L385.6,40.1L387.5,34.2L389.4,28.3L391.3,32.9L393.2,37.4L395.1,41.9L397.0,46.1L398.9,49.8L400.8,52.3L402.7,52.9L404.6,51.5L406.5,48.7L408.4,45.5L408.4,107.0L406.5,98.1L404.6,90.5L402.7,84.7L400.8,81.2L398.9,80.1L397.0,81.6L395.1,85.4L393.2,91.2L391.3,98.5L389.4,107.0L387.5,98.1L385.6,90.9L383.6,85.8L381.7,83.1L379.8,83.3L377.9,86.2L376.0,91.5L374.1,98.8L372.2,107.7L370.3,117.7L368.4,117.0L366.5,116.7L364.6,116.9L362.7,117.7L360.8,119.3L358.9,121.9L357.0,125.8L355.1,131.0L353.2,137.4L351.3,144.7L349.4,139.0L347.5,134.1L345.6,130.1L343.7,127.3L341.8,126.2L339.9,126.9L338.0,129.5L336.0,133.8L334.1,139.7L332.2,146.8L330.3,139.3L328.4,133.2L326.5,128.9L324.6,126.5L322.7,126.1L320.8,127.5L318.9,130.4L317.0,134.4L315.1,139.2L313.2,144.7Z" fill="#cbff00"/>
<path d="M313.2,75.3L315.1,79.3L317.0,83.0L318.9,85.6L320.8,86.4L322.7,85.4L324.6,83.1L326.5,80.1L328.4,76.7L330.3,73.3L332.2,69.8L334.1,74.0L336.0,77.9L338.0,81.2L339.9,83.0L341.8,82.6L343.7,79.7L345.6,75.1L347.5,69.4L349.4,63.4L351.3,57.2L353.2,59.6L355.1,62.0L357.0,64.2L358.9,66.2L360.8,67.5L362.7,67.4L364.6,64.7L366.5,58.7L368.4,50.3L370.3,40.6L372.2,45.3L374.1,49.7L376.0,53.1L377.9,54.7L379.8,53.8L381.7,50.4L383.6,45.6L385.6,40.1L387.5,34.3L389.4,28.4L391.3,32.9L393.2,37.5L395.1,41.9L397.0,46.2L398.9,49.8L400.8,52.3L402.7,52.9L404.6,51.5L406.5,48.8L408.4,45.5L408.4,106.7L406.5,97.8L404.6,90.3L402.7,84.6L400.8,81.0L398.9,80.0L397.0,81.5L395.1,85.3L393.2,91.0L391.3,98.3L389.4,106.7L387.5,97.9L385.6,90.8L383.6,85.6L381.7,83.0L379.8,83.0L377.9,85.8L376.0,91.0L374.1,98.2L372.2,107.0L370.3,116.8L368.4,116.3L366.5,116.1L364.6,116.3L362.7,117.2L360.8,118.9L358.9,121.6L357.0,125.6L355.1,130.8L353.2,137.2L351.3,144.5L349.4,138.9L347.5,134.0L345.6,130.0L343.7,127.3L341.8,126.1L339.9,126.8L338.0,129.4L336.0,133.7L334.1,139.6L332.2,146.6L330.3,139.2L328.4,133.1L326.5,128.8L324.6,126.4L322.7,126.1L320.8,127.5L318.9,130.3L317.0,134.3L315.1,139.1L313.2,144.5Z" fill="#b8ff00"/>
<path d="M313.2,75.4L315.1,79.4L317.0,83.1L318.9,85.8L320.8,86.9L322.7,86.1L324.6,84.0L326.5,81.2L328.4,78.0L330.3,74.7L332.2,71.4L334.1,75.4L336.0,79.2L338.0,82.3L339.9,84.2L341.8,83.9L343.7,81.3L345.6,76.9L347.5,71.5L349.4,65.7L351.3,59.8L353.2,62.0L355.1,64.1L357.0,66.0L358.9,67.7L360.8,68.7L362.7,68.1L364.6,64.9L366.5,58.7L368.4,50.3L370.3,40.7L372.2,45.4L374.1,49.7L376.0,53.2L377.9,54.8L379.8,53.8L381.7,50.4L383.6,45.6L385.6,40.1L387.5,34.3L389.4,28.4L391.3,33.0L393.2,37.5L395.1,42.0L397.0,46.2L398.9,49.8L400.8,52.3L402.7,52.9L404.6,51.5L406.5,48.8L408.4,45.6L408.4,106.3L406.5,97.5L404.6,90.1L402.7,84.4L400.8,80.9L398.9,79.9L397.0,81.3L395.1,85.1L393.2,90.8L391.3,98.0L389.4,106.3L387.5,97.7L385.6,90.6L383.6,85.5L381.7,82.8L379.8,82.8L377.9,85.5L376.0,90.6L374.1,97.7L372.2,106.3L370.3,116.0L368.4,115.6L366.5,115.4L364.6,115.8L362.7,116.7L360.8,118.5L358.9,121.3L357.0,125.4L355.1,130.7L353.2,137.0L351.3,144.3L349.4,138.7L347.5,133.8L345.6,129.9L343.7,127.2L341.8,126.0L339.9,126.7L338.0,129.3L336.0,133.6L334.1,139.5L332.2,146.4L330.3,139.0L328.4,133.0L326.5,128.7L324.6,126.4L322.7,126.0L320.8,127.4L318.9,130.2L317.0,134.2L315.1,139.0L313.2,144.3Z" fill="#a4ff00"/>
<path d="M313.2,75.5L315.1,79.4L317.0,83.1L318.9,86.0L320.8,87.3L322.7,86.8L324.6,84.9L326.5,82.3L328.4,79.3L330.3,76.2L332.2,73.0L334.1,76.8L336.0,80.5L338.0,83.5L339.9,85.4L341.8,85.2L343.7,82.8L345.6,78.6L347.5,73.6L349.4,68.1L351.3,62.4L353.2,64.3L355.1,66.1L357.0,67.8L358.9,69.2L360.8,69.8L362.7,68.7L364.6,65.1L366.5,58.7L368.4,50.3L370.3,40.8L372.2,45.4L374.1,49.7L376.0,53.2L377.9,54.8L379.8,53.8L381.7,50.5L383.6,45.7L385.6,40.2L387.5,34.4L389.4,28.4L391.3,33.0L393.2,37.6L395.1,42.0L397.0,46.2L398.9,49.8L400.8,52.3L402.7,52.9L404.6,51.5L406.5,48.8L408.4,45.6L408.4,106.0L406.5,97.3L404.6,89.9L402.7,84.3L400.8,80.8L398.9,79.7L397.0,81.2L395.1,85.0L393.2,90.6L391.3,97.8L389.4,106.0L387.5,97.5L385.6,90.5L383.6,85.4L381.7,82.6L379.8,82.6L377.9,85.1L376.0,90.1L374.1,97.1L372.2,105.6L370.3,115.2L368.4,114.8L366.5,114.8L364.6,115.2L362.7,116.2L360.8,118.1L358.9,121.0L357.0,125.2L355.1,130.5L353.2,136.9L351.3,144.2L349.4,138.6L347.5,133.7L345.6,129.8L343.7,127.1L341.8,126.0L339.9,126.7L338.0,129.2L336.0,133.5L334.1,139.3L332.2,146.3L330.3,138.9L328.4,132.9L326.5,128.6L324.6,126.3L322.7,125.9L320.8,127.3L318.9,130.2L317.0,134.1L315.1,138.8L313.2,144.2Z" fill="#91ff00"/>
<path d="M313.2,75.5L315.1,79.5L317.0,83.2L318.9,86.2L320.8,87.7L322.7,87.5L324.6,85.8L326.5,83.4L328.4,80.6L330.3,77.6L332.2,74.6L334.1,78.3L336.0,81.7L338.0,84.7L339.9,86.6L341.8,86.6L343.7,84.3L345.6,80.4L347.5,75.6L349.4,70.4L351.3,65.0L353.2,66.6L355.1,68.2L357.0,69.6L358.9,70.6L360.8,70.8L362.7,69.3L364.6,65.2L366.5,58.7L368.4,50.3L370.3,40.8L372.2,45.4L374.1,49.8L376.0,53.2L377.9,54.8L379.8,53.8L381.7,50.5L383.6,45.7L385.6,40.2L387.5,34.4L389.4,28.5L391.3,33.1L393.2,37.6L395.1,42.0L397.0,46.2L398.9,49.9L400.8,52.3L402.7,52.9L404.6,51.5L406.5,48.8L408.4,45.6L408.4,105.7L406.5,97.0L404.6,89.7L402.7,84.1L400.8,80.6L398.9,79.6L397.0,81.1L395.1,84.8L393.2,90.4L391.3,97.5L389.4,105.7L387.5,97.3L385.6,90.3L383.6,85.3L381.7,82.5L379.8,82.3L377.9,84.8L376.0,89.7L374.1,96.5L372.2,104.9L370.3,114.4L368.4,114.1L366.5,114.1L364.6,114.6L362.7,115.8L360.8,117.7L358.9,120.7L357.0,124.9L355.1,130.3L353.2,136.7L351.3,144.0L349.4,138.5L347.5,133.6L345.6,129.7L343.7,127.1L341.8,125.9L339.9,126.6L338.0,129.1L336.0,133.4L334.1,139.2L332.2,146.1L330.3,138.8L328.4,132.8L326.5,128.6L324.6,126.2L322.7,125.9L320.8,127.2L318.9,130.1L317.0,134.0L315.1,138.7L313.2,144.0Z" fill="#7dff00"/>
<path d="M313.2,76.8L315.1,80.7L317.0,84.3L318.9,87.3L320.8,89.0L322.7,89.0L324.6,87.7L326.5,85.6L328.4,83.1L330.3,80.4L332.2,77.7L334.1,81.0L336.0,84.2L338.0,86.9L339.9,88.6L341.8,88.6L343.7,86.5L345.6,82.9L347.5,78.3L349.4,73.4L351.3,68.4L353.2,69.7L355.1,70.9L357.0,71.9L358.9,72.5L360.8,72.2L362.7,70.1L364.6,65.4L366.5,58.7L368.4,50.3L370.3,41.1L372.2,45.7L374.1,49.9L376.0,53.3L377.9,54.9L379.8,54.0L381.7,50.7L383.6,46.0L385.6,40.6L387.5,34.9L389.4,29.1L391.3,33.6L393.2,38.1L395.1,42.4L397.0,46.6L398.9,50.1L400.8,52.5L402.7,53.0L404.6,51.5L406.5,48.8L408.4,45.6L408.4,101.8L406.5,93.9L404.6,87.3L402.7,82.2L400.8,79.1L398.9,78.1L397.0,79.4L395.1,82.8L393.2,87.8L391.3,94.2L389.4,101.6L387.5,94.2L385.6,88.0L383.6,83.4L381.7,80.7L379.8,80.4L377.9,82.3L376.0,86.5L374.1,92.5L372.2,99.9L370.3,108.4L368.4,108.7L366.5,109.4L364.6,110.5L362.7,112.3L360.8,114.9L358.9,118.5L357.0,123.2L355.1,128.9L353.2,135.4L351.3,142.6L349.4,137.3L347.5,132.7L345.6,129.0L343.7,126.5L341.8,125.4L339.9,126.1L338.0,128.6L336.0,132.8L334.1,138.4L332.2,145.0L330.3,138.0L328.4,132.2L326.5,128.0L324.6,125.7L322.7,125.3L320.8,126.6L318.9,129.2L317.0,132.9L315.1,137.4L313.2,142.4Z" fill="#62ff03"/>
<path d="M313.2,78.1L315.1,81.8L317.0,85.4L318.9,88.4L320.8,90.3L322.7,90.6L324.6,89.5L326.5,87.7L328.4,85.5L330.3,83.2L332.2,80.8L334.1,83.8L336.0,86.7L338.0,89.1L339.9,90.7L341.8,90.6L343.7,88.7L345.6,85.3L347.5,81.1L349.4,76.5L351.3,71.8L353.2,72.7L355.1,73.6L357.0,74.2L358.9,74.4L360.8,73.5L362.7,70.8L364.6,65.6L366.5,58.7L368.4,50.3L370.3,41.4L372.2,45.9L374.1,50.1L376.0,53.4L377.9,55.0L379.8,54.2L381.7,51.0L383.6,46.4L385.6,41.0L387.5,35.4L389.4,29.7L391.3,34.1L393.2,38.5L395.1,42.8L397.0,46.9L398.9,50.3L400.8,52.6L402.7,53.0L404.6,51.5L406.5,48.8L408.4,45.7L408.4,97.9L406.5,90.8L404.6,84.8L402.7,80.3L400.8,77.5L398.9,76.6L397.0,77.8L395.1,80.7L393.2,85.2L391.3,90.9L389.4,97.5L387.5,91.0L385.6,85.6L383.6,81.5L381.7,79.0L379.8,78.4L377.9,79.9L376.0,83.4L374.1,88.5L372.2,95.0L370.3,102.4L368.4,103.3L366.5,104.6L364.6,106.4L362.7,108.9L360.8,112.2L358.9,116.4L357.0,121.5L355.1,127.5L353.2,134.1L351.3,141.2L349.4,136.2L347.5,131.8L345.6,128.3L343.7,125.9L341.8,125.0L339.9,125.7L338.0,128.1L336.0,132.2L334.1,137.6L332.2,144.0L330.3,137.2L328.4,131.6L326.5,127.5L324.6,125.2L322.7,124.7L320.8,125.9L318.9,128.3L317.0,131.8L315.1,136.1L313.2,140.9Z" fill="#47ff06"/>
<path d="M313.2,79.3L315.1,83.0L317.0,86.5L318.9,89.5L320.8,91.5L322.7,92.1L324.6,91.4L326.5,89.9L328.4,88.0L330.3,86.0L332.2,83.8L334.1,86.6L336.0,89.1L338.0,91.3L339.9,92.7L341.8,92.6L343.7,90.8L345.6,87.7L347.5,83.8L349.4,79.6L351.3,75.2L353.2,75.8L355.1,76.3L357.0,76.5L358.9,76.2L360.8,74.7L362.7,71.4L364.6,65.8L366.5,58.7L368.4,50.3L370.3,41.6L372.2,46.1L374.1,50.2L376.0,53.6L377.9,55.2L379.8,54.4L381.7,51.3L383.6,46.7L385.6,41.5L387.5,35.9L389.4,30.2L391.3,34.6L393.2,39.0L395.1,43.2L397.0,47.2L398.9,50.6L400.8,52.8L402.7,53.1L404.6,51.5L406.5,48.8L408.4,45.7L408.4,94.0L406.5,87.7L404.6,82.4L402.7,78.4L400.8,75.9L398.9,75.1L397.0,76.1L395.1,78.7L393.2,82.6L391.3,87.6L389.4,93.3L387.5,87.9L385.6,83.2L383.6,79.6L381.7,77.2L379.8,76.5L377.9,77.5L376.0,80.3L374.1,84.5L372.2,90.0L370.3,96.5L368.4,98.0L366.5,99.9L364.6,102.4L362.7,105.6L360.8,109.6L358.9,114.4L357.0,119.9L355.1,126.1L353.2,132.8L351.3,139.8L349.4,135.1L347.5,130.9L345.6,127.6L343.7,125.3L341.8,124.5L339.9,125.2L338.0,127.6L336.0,131.5L334.1,136.8L332.2,142.9L330.3,136.3L328.4,130.9L326.5,127.0L324.6,124.7L322.7,124.2L320.8,125.2L318.9,127.5L317.0,130.8L315.1,134.8L313.2,139.3Z" fill="#2bff0a"/>
<path d="M313.2,80.6L315.1,84.2L317.0,87.6L318.9,90.6L320.8,92.7L322.7,93.6L324.6,93.2L326.5,92.0L328.4,90.5L330.3,88.7L332.2,86.9L334.1,89.3L336.0,91.6L338.0,93.5L339.9,94.7L341.8,94.6L343.7,93.0L345.6,90.1L347.5,86.5L349.4,82.6L351.3,78.7L353.2,78.8L355.1,78.9L357.0,78.8L358.9,78.0L360.8,75.9L362.7,71.9L364.6,65.8L366.5,58.7L368.4,50.3L370.3,41.9L372.2,46.3L374.1,50.4L376.0,53.7L377.9,55.3L379.8,54.5L381.7,51.5L383.6,47.1L385.6,41.9L387.5,36.4L389.4,30.8L391.3,35.2L393.2,39.5L395.1,43.6L397.0,47.5L398.9,50.8L400.8,52.9L402.7,53.1L404.6,51.5L406.5,48.8L408.4,45.7L408.4,90.0L406.5,84.6L404.6,80.0L402.7,76.5L400.8,74.3L398.9,73.6L397.0,74.4L395.1,76.6L393.2,80.0L391.3,84.3L389.4,89.2L387.5,84.8L385.6,80.9L383.6,77.7L381.7,75.6L379.8,74.7L377.9,75.2L376.0,77.2L374.1,80.6L372.2,85.1L370.3,90.5L368.4,92.6L366.5,95.2L364.6,98.5L362.7,102.4L360.8,107.1L358.9,112.4L357.0,118.4L355.1,124.8L353.2,131.5L351.3,138.5L349.4,133.9L347.5,130.0L345.6,126.8L343.7,124.8L341.8,124.0L339.9,124.8L338.0,127.1L336.0,130.9L334.1,135.9L332.2,141.9L330.3,135.5L328.4,130.3L326.5,126.4L324.6,124.2L322.7,123.6L320.8,124.5L318.9,126.6L317.0,129.7L315.1,133.4L313.2,137.7Z" fill="#18ff37"/>
<path d="M313.2,81.9L315.1,85.4L317.0,88.7L318.9,91.7L320.8,93.9L322.7,95.1L324.6,95.0L326.5,94.2L328.4,92.9L330.3,91.5L332.2,90.0L334.1,92.1L336.0,94.1L338.0,95.7L339.9,96.8L341.8,96.6L343.7,95.1L345.6,92.5L347.5,89.2L349.4,85.7L351.3,82.1L353.2,81.9L355.1,81.6L357.0,81.0L358.9,79.7L360.8,76.9L362.7,72.3L364.6,65.8L366.5,58.7L368.4,50.4L370.3,42.2L372.2,46.5L374.1,50.5L376.0,53.8L377.9,55.4L379.8,54.7L381.7,51.8L383.6,47.4L385.6,42.3L387.5,36.9L389.4,31.4L391.3,35.7L393.2,39.9L395.1,44.0L397.0,47.9L398.9,51.1L400.8,53.0L402.7,53.1L404.6,51.5L406.5,48.8L408.4,45.8L408.4,86.1L406.5,81.5L404.6,77.6L402.7,74.6L400.8,72.7L398.9,72.1L397.0,72.7L395.1,74.6L393.2,77.4L391.3,81.0L389.4,85.1L387.5,81.7L385.6,78.6L383.6,76.0L381.7,74.0L379.8,72.9L377.9,73.0L376.0,74.2L374.1,76.6L372.2,80.1L370.3,84.5L368.4,87.3L366.5,90.6L364.6,94.7L362.7,99.4L360.8,104.8L358.9,110.7L357.0,116.9L355.1,123.5L353.2,130.2L351.3,137.1L349.4,132.8L347.5,129.1L345.6,126.1L343.7,124.2L341.8,123.5L339.9,124.3L338.0,126.6L336.0,130.3L334.1,135.1L332.2,140.9L330.3,134.7L328.4,129.7L326.5,125.9L324.6,123.7L322.7,123.0L320.8,123.8L318.9,125.7L317.0,128.6L315.1,132.1L313.2,136.2Z" fill="#05ff6a"/>
<path d="M313.2,83.2L315.1,86.5L317.0,89.8L318.9,92.7L320.8,95.1L322.7,96.5L324.6,96.9L326.5,96.4L328.4,95.4L330.3,94.3L332.2,93.1L334.1,94.9L336.0,96.5L338.0,97.9L339.9,98.8L341.8,98.6L343.7,97.3L345.6,94.9L347.5,92.0L349.4,88.8L351.3,85.5L353.2,85.0L355.1,84.3L357.0,83.2L358.9,81.3L360.8,77.8L362.7,72.5L364.6,65.8L366.5,58.7L368.4,50.5L370.3,42.5L372.2,46.7L374.1,50.7L376.0,53.9L377.9,55.6L379.8,54.9L381.7,52.1L383.6,47.8L385.6,42.7L387.5,37.4L389.4,32.0L391.3,36.2L393.2,40.4L395.1,44.4L397.0,48.2L398.9,51.3L400.8,53.1L402.7,53.2L404.6,51.5L406.5,48.8L408.4,45.8L408.4,82.2L406.5,78.4L404.6,75.1L402.7,72.6L400.8,71.1L398.9,70.6L397.0,71.1L395.1,72.6L393.2,74.8L391.3,77.7L389.4,81.0L387.5,78.5L385.6,76.3L383.6,74.3L381.7,72.6L379.8,71.4L377.9,71.0L376.0,71.4L374.1,72.8L372.2,75.2L370.3,78.5L368.4,82.0L366.5,86.2L364.6,91.2L362.7,96.8L360.8,102.8L358.9,109.1L357.0,115.6L355.1,122.2L353.2,128.9L351.3,135.7L349.4,131.7L347.5,128.2L345.6,125.4L343.7,123.6L341.8,123.0L339.9,123.9L338.0,126.1L336.0,129.7L334.1,134.3L332.2,139.8L330.3,133.9L328.4,129.0L326.5,125.4L324.6,123.2L322.7,122.5L320.8,123.1L318.9,124.9L317.0,127.5L315.1,130.8L313.2,134.6Z" fill="#00ffbc"/>
<path d="M313.2,84.9L315.1,88.1L317.0,91.2L318.9,94.0L320.8,96.3L322.7,97.6L324.6,98.0L326.5,97.6L328.4,96.8L330.3,95.8L332.2,94.8L334.1,96.4L336.0,97.9L338.0,99.2L339.9,100.0L341.8,99.9L343.7,98.6L345.6,96.5L347.5,93.8L349.4,90.8L351.3,87.8L353.2,87.0L355.1,86.0L357.0,84.6L358.9,82.3L360.8,78.4L362.7,72.8L364.6,66.0L366.5,58.7L368.4,50.9L370.3,43.1L372.2,47.2L374.1,51.0L376.0,54.1L377.9,55.8L379.8,55.3L381.7,52.6L383.6,48.5L385.6,43.7L387.5,38.5L389.4,33.2L391.3,37.3L393.2,41.3L395.1,45.3L397.0,48.9L398.9,51.8L400.8,53.5L402.7,53.4L404.6,51.7L406.5,49.1L408.4,46.1L408.4,80.9L406.5,77.4L404.6,74.3L402.7,72.0L400.8,70.6L398.9,70.1L397.0,70.6L395.1,71.9L393.2,74.0L391.3,76.7L389.4,79.7L387.5,77.5L385.6,75.4L383.6,73.6L381.7,72.1L379.8,71.0L377.9,70.6L376.0,71.0L374.1,72.3L372.2,74.6L370.3,77.6L368.4,81.2L366.5,85.5L364.6,90.5L362.7,96.0L360.8,101.9L358.9,108.2L357.0,114.5L355.1,121.0L353.2,127.6L351.3,134.2L349.4,130.4L347.5,127.1L345.6,124.6L343.7,123.0L341.8,122.6L339.9,123.5L338.0,125.8L336.0,129.3L334.1,133.8L332.2,139.1L330.3,133.4L328.4,128.6L326.5,125.0L324.6,122.8L322.7,122.0L320.8,122.5L318.9,124.1L317.0,126.5L315.1,129.6L313.2,133.1Z" fill="#00eeff"/>
<path d="M313.2,86.7L315.1,89.7L317.0,92.6L318.9,95.3L320.8,97.4L322.7,98.7L324.6,99.1L326.5,98.8L328.4,98.2L330.3,97.4L332.2,96.5L334.1,97.9L336.0,99.2L338.0,100.4L339.9,101.1L341.8,101.1L343.7,100.0L345.6,98.0L347.5,95.6L349.4,92.8L351.3,90.0L353.2,89.0L355.1,87.7L357.0,86.0L358.9,83.2L360.8,78.9L362.7,73.0L364.6,66.2L366.5,58.9L368.4,51.3L370.3,43.7L372.2,47.6L374.1,51.3L376.0,54.4L377.9,56.1L379.8,55.7L381.7,53.2L383.6,49.2L385.6,44.6L387.5,39.6L389.4,34.5L391.3,38.4L393.2,42.3L395.1,46.1L397.0,49.5L398.9,52.3L400.8,53.8L402.7,53.6L404.6,51.8L406.5,49.3L408.4,46.4L408.4,79.6L406.5,76.3L404.6,73.5L402.7,71.4L400.8,70.0L398.9,69.6L397.0,70.0L395.1,71.3L393.2,73.2L391.3,75.6L389.4,78.4L387.5,76.4L385.6,74.5L383.6,72.9L381.7,71.5L379.8,70.6L377.9,70.2L376.0,70.6L374.1,71.8L372.2,73.9L370.3,76.8L368.4,80.4L366.5,84.7L364.6,89.7L362.7,95.2L360.8,101.1L358.9,107.2L357.0,113.5L355.1,119.9L353.2,126.3L351.3,132.8L349.4,129.2L347.5,126.1L345.6,123.8L343.7,122.4L341.8,122.1L339.9,123.2L338.0,125.5L336.0,128.9L334.1,133.3L332.2,138.3L330.3,132.8L328.4,128.2L326.5,124.7L324.6,122.4L322.7,121.5L320.8,121.8L318.9,123.2L317.0,125.5L315.1,128.3L313.2,131.7Z" fill="#00afff"/>
<path d="M313.2,88.4L315.1,91.3L317.0,94.0L318.9,96.5L320.8,98.6L322.7,99.9L324.6,100.3L326.5,100.1L328.4,99.6L330.3,98.9L332.2,98.2L334.1,99.4L336.0,100.6L338.0,101.6L339.9,102.3L341.8,102.3L343.7,101.3L345.6,99.6L347.5,97.3L349.4,94.8L351.3,92.2L353.2,90.9L355.1,89.4L357.0,87.3L358.9,84.1L360.8,79.3L362.7,73.3L364.6,66.4L366.5,59.2L368.4,51.8L370.3,44.4L372.2,48.1L374.1,51.7L376.0,54.6L377.9,56.3L379.8,56.1L381.7,53.7L383.6,50.0L385.6,45.5L387.5,40.7L389.4,35.8L391.3,39.6L393.2,43.3L395.1,46.9L397.0,50.2L398.9,52.8L400.8,54.1L402.7,53.8L404.6,52.1L406.5,49.6L408.4,46.8L408.4,78.3L406.5,75.3L404.6,72.7L402.7,70.7L400.8,69.5L398.9,69.1L397.0,69.5L395.1,70.7L393.2,72.4L391.3,74.6L389.4,77.1L387.5,75.3L385.6,73.7L383.6,72.2L381.7,71.0L379.8,70.1L377.9,69.8L376.0,70.1L374.1,71.3L372.2,73.3L370.3,75.9L368.4,79.6L366.5,84.0L364.6,89.0L362.7,94.5L360.8,100.3L358.9,106.3L357.0,112.5L355.1,118.7L353.2,125.0L351.3,131.3L349.4,128.0L347.5,125.1L345.6,123.0L343.7,121.8L341.8,121.7L339.9,122.8L338.0,125.1L336.0,128.5L334.1,132.7L332.2,137.6L330.3,132.3L328.4,127.8L326.5,124.3L324.6,122.0L322.7,121.0L320.8,121.2L318.9,122.4L317.0,124.4L315.1,127.1L313.2,130.2Z" fill="#0a5fff"/>
<path d="M313.2,90.3L315.1,92.9L317.0,95.5L318.9,97.9L320.8,99.8L322.7,101.0L324.6,101.5L326.5,101.4L328.4,101.1L330.3,100.6L332.2,100.1L334.1,101.1L336.0,102.1L338.0,102.9L339.9,103.4L341.8,103.3L343.7,102.3L345.6,100.6L347.5,98.5L349.4,96.1L351.3,93.7L353.2,92.1L355.1,90.4L357.0,88.1L358.9,84.7L360.8,79.9L362.7,73.9L364.6,67.2L366.5,60.1L368.4,52.9L370.3,45.7L372.2,49.2L374.1,52.5L376.0,55.3L377.9,56.9L379.8,56.7L381.7,54.5L383.6,51.0L385.6,46.8L387.5,42.3L389.4,37.7L391.3,41.2L393.2,44.7L395.1,48.1L397.0,51.2L398.9,53.6L400.8,54.8L402.7,54.4L404.6,52.8L406.5,50.5L408.4,47.9L408.4,76.9L406.5,74.1L404.6,71.8L402.7,70.0L400.8,68.9L398.9,68.6L397.0,68.9L395.1,69.9L393.2,71.5L391.3,73.4L389.4,75.7L387.5,74.1L385.6,72.6L383.6,71.4L381.7,70.3L379.8,69.6L377.9,69.4L376.0,69.8L374.1,70.9L372.2,72.7L370.3,75.2L368.4,79.0L366.5,83.4L364.6,88.4L362.7,93.8L360.8,99.6L358.9,105.5L357.0,111.6L355.1,117.7L353.2,123.9L351.3,130.1L349.4,127.0L347.5,124.4L345.6,122.4L343.7,121.3L341.8,121.2L339.9,122.3L338.0,124.5L336.0,127.7L334.1,131.7L332.2,136.3L330.3,131.3L328.4,127.0L326.5,123.6L324.6,121.4L322.7,120.4L320.8,120.5L318.9,121.6L317.0,123.4L315.1,125.8L313.2,128.7Z" fill="#1e1eff"/>
<path d="M313.2,92.1L315.1,94.6L317.0,97.0L318.9,99.2L320.8,101.0L322.7,102.2L324.6,102.7L326.5,102.8L328.4,102.6L330.3,102.3L332.2,101.9L334.1,102.8L336.0,103.6L338.0,104.2L339.9,104.6L341.8,104.3L343.7,103.4L345.6,101.7L347.5,99.7L349.4,97.4L351.3,95.2L353.2,93.4L355.1,91.5L357.0,89.0L358.9,85.4L360.8,80.5L362.7,74.5L364.6,67.9L366.5,61.0L368.4,54.0L370.3,47.0L372.2,50.2L374.1,53.3L376.0,55.9L377.9,57.4L379.8,57.3L381.7,55.3L383.6,52.0L385.6,48.1L387.5,43.9L389.4,39.5L391.3,42.8L393.2,46.1L395.1,49.2L397.0,52.1L398.9,54.3L400.8,55.4L402.7,55.1L404.6,53.6L406.5,51.4L408.4,49.0L408.4,75.4L406.5,73.0L404.6,70.9L402.7,69.3L400.8,68.3L398.9,68.0L397.0,68.3L395.1,69.2L393.2,70.6L391.3,72.3L389.4,74.2L387.5,72.9L385.6,71.6L383.6,70.5L381.7,69.7L379.8,69.1L377.9,69.0L376.0,69.4L374.1,70.5L372.2,72.2L370.3,74.5L368.4,78.3L366.5,82.8L364.6,87.8L362.7,93.2L360.8,98.9L358.9,104.7L357.0,110.7L355.1,116.7L353.2,122.7L351.3,128.8L349.4,126.0L347.5,123.6L345.6,121.8L343.7,120.8L341.8,120.8L339.9,121.8L338.0,123.9L336.0,127.0L334.1,130.7L332.2,135.1L330.3,130.3L328.4,126.2L326.5,123.0L324.6,120.9L322.7,119.8L320.8,119.8L318.9,120.7L317.0,122.4L315.1,124.5L313.2,127.1Z" fill="#3507ff"/>
<path d="M313.2,94.0L315.1,96.3L317.0,98.5L318.9,100.6L320.8,102.3L322.7,103.4L324.6,104.0L326.5,104.1L328.4,104.1L330.3,103.9L332.2,103.8L334.1,104.4L336.0,105.0L338.0,105.5L339.9,105.7L341.8,105.4L343.7,104.4L345.6,102.8L347.5,100.9L349.4,98.8L351.3,96.6L353.2,94.7L355.1,92.5L357.0,89.8L358.9,86.1L360.8,81.0L362.7,75.1L364.6,68.6L366.5,61.9L368.4,55.1L370.3,48.3L372.2,51.3L374.1,54.1L376.0,56.5L377.9,57.9L379.8,57.8L381.7,56.1L383.6,53.1L385.6,49.4L387.5,45.4L389.4,41.4L391.3,44.4L393.2,47.5L395.1,50.4L397.0,53.0L398.9,55.1L400.8,56.1L402.7,55.7L404.6,54.3L406.5,52.3L408.4,50.1L408.4,73.9L406.5,71.8L404.6,70.0L402.7,68.6L400.8,67.7L398.9,67.5L397.0,67.7L395.1,68.5L393.2,69.7L391.3,71.1L389.4,72.8L387.5,71.6L385.6,70.6L383.6,69.7L381.7,69.0L379.8,68.6L377.9,68.6L376.0,69.1L374.1,70.1L372.2,71.7L370.3,73.8L368.4,77.7L366.5,82.2L364.6,87.2L362.7,92.5L360.8,98.2L358.9,103.9L357.0,109.8L355.1,115.7L353.2,121.6L351.3,127.6L349.4,125.0L347.5,122.8L345.6,121.1L343.7,120.3L341.8,120.3L339.9,121.3L338.0,123.3L336.0,126.2L334.1,129.8L332.2,133.9L330.3,129.4L328.4,125.5L326.5,122.4L324.6,120.3L322.7,119.2L320.8,119.1L318.9,119.9L317.0,121.3L315.1,123.3L313.2,125.6Z" fill="#7200ff"/>
<path d="M313.2,96.7L315.1,98.7L317.0,100.7L318.9,102.5L320.8,104.0L322.7,104.9L324.6,105.4L326.5,105.7L328.4,105.8L330.3,105.8L332.2,105.8L334.1,106.3L336.0,106.7L338.0,107.0L339.9,107.1L341.8,106.8L343.7,106.0L345.6,104.6L347.5,102.9L349.4,101.1L351.3,99.3L353.2,97.0L355.1,94.4L357.0,91.2L358.9,87.0L360.8,81.7L362.7,75.7L364.6,69.3L366.5,62.8L368.4,56.3L370.3,49.7L372.2,52.4L374.1,54.9L376.0,57.1L377.9,58.5L379.8,58.6L381.7,57.2L383.6,54.6L385.6,51.3L387.5,47.7L389.4,44.1L391.3,46.8L393.2,49.5L395.1,52.1L397.0,54.4L398.9,56.2L400.8,57.0L402.7,56.6L404.6,55.4L406.5,53.6L408.4,51.7L408.4,72.6L406.5,70.7L404.6,69.1L402.7,67.9L400.8,67.2L398.9,67.0L397.0,67.2L395.1,67.8L393.2,68.8L391.3,70.0L389.4,71.4L387.5,70.5L385.6,69.7L383.6,69.0L381.7,68.4L379.8,68.1L377.9,68.2L376.0,68.7L374.1,69.6L372.2,71.1L370.3,72.9L368.4,76.9L366.5,81.4L364.6,86.4L362.7,91.7L360.8,97.2L358.9,102.8L357.0,108.6L355.1,114.3L353.2,120.1L351.3,125.9L349.4,123.6L347.5,121.7L345.6,120.3L343.7,119.6L341.8,119.7L339.9,120.7L338.0,122.6L336.0,125.3L334.1,128.7L332.2,132.5L330.3,128.2L328.4,124.6L326.5,121.7L324.6,119.7L322.7,118.6L320.8,118.5L318.9,119.1L317.0,120.4L315.1,122.1L313.2,124.1Z" fill="#bd00ff"/>
<path d="M313.2,99.7L315.1,101.4L317.0,103.1L318.9,104.6L320.8,105.7L322.7,106.5L324.6,106.9L326.5,107.3L328.4,107.5L330.3,107.8L332.2,108.0L334.1,108.2L336.0,108.4L338.0,108.6L339.9,108.6L341.8,108.4L343.7,107.7L345.6,106.7L347.5,105.3L349.4,103.8L351.3,102.3L353.2,99.6L355.1,96.5L357.0,92.7L358.9,87.8L360.8,82.1L362.7,76.1L364.6,70.0L366.5,63.7L368.4,57.5L370.3,51.2L372.2,53.5L374.1,55.7L376.0,57.6L377.9,59.0L379.8,59.4L381.7,58.5L383.6,56.3L385.6,53.5L387.5,50.3L389.4,47.1L391.3,49.4L393.2,51.7L395.1,53.9L397.0,55.9L398.9,57.4L400.8,58.0L402.7,57.6L404.6,56.5L406.5,55.1L408.4,53.5L408.4,71.3L406.5,69.7L404.6,68.3L402.7,67.3L400.8,66.7L398.9,66.5L397.0,66.7L395.1,67.2L393.2,68.0L391.3,69.0L389.4,70.1L387.5,69.4L385.6,68.8L383.6,68.2L381.7,67.9L379.8,67.7L377.9,67.8L376.0,68.3L374.1,69.1L372.2,70.4L370.3,72.1L368.4,76.1L366.5,80.6L364.6,85.6L362.7,90.8L360.8,96.2L358.9,101.7L357.0,107.2L355.1,112.8L353.2,118.4L351.3,124.1L349.4,122.1L347.5,120.5L345.6,119.3L343.7,118.8L341.8,119.1L339.9,120.1L338.0,121.9L336.0,124.5L334.1,127.5L332.2,131.0L330.3,127.1L328.4,123.6L326.5,120.9L324.6,119.1L322.7,118.1L320.8,117.9L318.9,118.4L317.0,119.4L315.1,120.9L313.2,122.6Z" fill="#f400e3"/>
<path d="M313.2,102.6L315.1,104.1L317.0,105.4L318.9,106.5L320.8,107.3L322.7,107.9L324.6,108.4L326.5,108.8L328.4,109.3L330.3,109.7L332.2,110.1L334.1,110.1L336.0,110.1L338.0,110.1L339.9,110.0L341.8,109.8L343.7,109.4L345.6,108.7L347.5,107.7L349.4,106.5L351.3,105.2L353.2,102.1L355.1,98.4L357.0,93.7L358.9,88.2L360.8,82.4L362.7,76.5L364.6,70.6L366.5,64.6L368.4,58.7L370.3,52.7L372.2,54.6L374.1,56.5L376.0,58.1L377.9,59.5L379.8,60.1L381.7,59.6L383.6,58.0L385.6,55.6L387.5,52.9L389.4,50.0L391.3,52.0L393.2,54.0L395.1,55.8L397.0,57.4L398.9,58.6L400.8,59.0L402.7,58.6L404.6,57.7L406.5,56.5L408.4,55.2L408.4,70.1L406.5,68.7L404.6,67.5L402.7,66.7L400.8,66.2L398.9,66.0L397.0,66.1L395.1,66.5L393.2,67.1L391.3,67.9L389.4,68.8L387.5,68.3L385.6,67.9L383.6,67.5L381.7,67.3L379.8,67.2L377.9,67.4L376.0,67.9L374.1,68.6L372.2,69.8L370.3,71.2L368.4,75.3L366.5,79.9L364.6,84.8L362.7,89.9L360.8,95.2L358.9,100.5L357.0,105.9L355.1,111.3L353.2,116.8L351.3,122.2L349.4,120.6L347.5,119.2L345.6,118.4L343.7,118.1L341.8,118.4L339.9,119.5L338.0,121.3L336.0,123.6L334.1,126.4L332.2,129.6L330.3,125.9L328.4,122.7L326.5,120.2L324.6,118.4L322.7,117.5L320.8,117.2L318.9,117.6L317.0,118.5L315.1,119.7L313.2,121.2Z" fill="#ff0090"/>
<path d="M313.2,103.9L315.1,105.3L317.0,106.5L318.9,107.6L320.8,108.4L322.7,109.2L324.6,109.9L326.5,110.6L328.4,111.3L330.3,111.9L332.2,112.6L334.1,112.3L336.0,112.1L338.0,111.8L339.9,111.5L341.8,111.2L343.7,110.7L345.6,110.0L347.5,109.0L349.4,108.0L351.3,106.9L353.2,103.5L355.1,99.5L357.0,94.8L358.9,89.7L360.8,84.4L362.7,79.0L364.6,73.6L366.5,68.2L368.4,62.8L370.3,57.4L372.2,58.5L374.1,59.6L376.0,60.6L377.9,61.4L379.8,61.7L381.7,61.2L383.6,60.0L385.6,58.2L387.5,56.2L389.4,54.1L391.3,55.5L393.2,56.9L395.1,58.2L397.0,59.4L398.9,60.3L400.8,60.6L402.7,60.5L404.6,59.9L406.5,59.2L408.4,58.4L408.4,68.5L406.5,67.5L404.6,66.6L402.7,65.9L400.8,65.5L398.9,65.3L397.0,65.3L395.1,65.5L393.2,65.8L391.3,66.2L389.4,66.7L387.5,66.6L385.6,66.5L383.6,66.4L381.7,66.4L379.8,66.6L377.9,66.8L376.0,67.3L374.1,68.0L372.2,68.9L370.3,70.1L368.4,74.2L366.5,78.7L364.6,83.4L362.7,88.2L360.8,93.2L358.9,98.2L357.0,103.2L355.1,108.2L353.2,113.3L351.3,118.3L349.4,117.4L347.5,116.8L345.6,116.4L343.7,116.5L341.8,117.0L339.9,117.9L338.0,119.4L336.0,121.2L334.1,123.4L332.2,125.8L330.3,122.9L328.4,120.4L326.5,118.3L324.6,116.7L322.7,115.7L320.8,115.2L318.9,115.1L317.0,115.3L315.1,115.8L313.2,116.4Z" fill="#ff0060"/>
<path d="M313.2,105.0L315.1,106.2L317.0,107.4L318.9,108.5L320.8,109.5L322.7,110.5L324.6,111.4L326.5,112.4L328.4,113.3L330.3,114.2L332.2,115.1L334.1,114.6L336.0,114.1L338.0,113.6L339.9,113.0L341.8,112.5L343.7,111.9L345.6,111.1L347.5,110.3L349.4,109.4L351.3,108.5L353.2,104.6L355.1,100.5L357.0,96.1L358.9,91.4L360.8,86.6L362.7,81.8L364.6,77.0L366.5,72.2L368.4,67.4L370.3,62.6L372.2,62.9L374.1,63.2L376.0,63.4L377.9,63.5L379.8,63.4L381.7,62.9L383.6,62.0L385.6,60.9L387.5,59.6L389.4,58.3L391.3,59.1L393.2,60.0L395.1,60.8L397.0,61.5L398.9,62.1L400.8,62.4L402.7,62.4L404.6,62.3L406.5,62.1L408.4,61.8L408.4,66.8L406.5,66.2L404.6,65.6L402.7,65.2L400.8,64.8L398.9,64.6L397.0,64.4L395.1,64.4L393.2,64.4L391.3,64.5L389.4,64.6L387.5,64.8L385.6,65.0L383.6,65.2L381.7,65.5L379.8,65.8L377.9,66.2L376.0,66.7L374.1,67.3L372.2,68.1L370.3,68.9L368.4,73.1L366.5,77.4L364.6,81.9L362.7,86.4L360.8,91.0L358.9,95.6L357.0,100.2L355.1,104.9L353.2,109.5L351.3,114.2L349.4,114.1L347.5,114.2L345.6,114.4L343.7,114.8L341.8,115.4L339.9,116.2L338.0,117.4L336.0,118.7L334.1,120.1L332.2,121.7L330.3,119.7L328.4,117.8L326.5,116.2L324.6,114.8L322.7,113.7L320.8,112.9L318.9,112.3L317.0,111.8L315.1,111.5L313.2,111.2Z" fill="#ff0048"/>
<path d="M313.2,106.0L332.2,117.6L351.3,110.0L370.3,67.7L389.4,62.5L408.4,65.2" fill="none" stroke="#000" stroke-width="2.4" stroke-linejoin="round"/>
<path d="M435.4,54.8L437.4,60.0L439.3,64.8L441.3,68.3L443.2,69.5L445.2,68.1L447.2,64.8L449.1,60.5L451.1,55.7L453.1,50.7L455.0,45.6L457.0,52.5L458.9,59.2L460.9,65.2L462.9,69.9L464.8,72.0L466.8,70.7L468.8,66.3L470.7,60.0L472.7,52.9L474.6,45.5L476.6,49.6L478.6,53.6L480.5,57.5L482.5,61.1L484.4,63.9L486.4,65.1L488.4,64.0L490.3,60.4L492.3,55.4L494.3,49.8L496.2,56.5L498.2,62.8L500.1,68.3L502.1,71.8L504.1,72.0L506.0,68.4L508.0,62.1L510.0,54.2L511.9,45.6L513.9,36.8L515.8,39.4L517.8,41.9L519.8,44.4L521.7,46.7L523.7,48.7L525.7,49.8L527.6,49.0L529.6,44.6L531.5,36.6L533.5,26.9L533.5,86.0L531.5,90.1L529.6,94.4L527.6,99.0L525.7,103.9L523.7,109.1L521.7,114.5L519.8,120.2L517.8,126.0L515.8,132.0L513.9,138.0L511.9,132.3L510.0,127.3L508.0,123.5L506.0,120.9L504.1,120.1L502.1,121.1L500.1,124.0L498.2,128.7L496.2,134.7L494.3,141.9L492.3,136.1L490.3,130.8L488.4,126.3L486.4,122.9L484.4,121.0L482.5,121.0L480.5,123.3L478.6,128.1L476.6,135.3L474.6,144.4L472.7,138.0L470.7,132.6L468.8,128.3L466.8,125.6L464.8,124.7L462.9,125.8L460.9,128.9L458.9,133.7L457.0,140.0L455.0,147.3L453.1,139.6L451.1,133.5L449.1,129.2L447.2,127.1L445.2,127.0L443.2,128.7L441.3,131.8L439.3,136.1L437.4,141.1L435.4,146.7Z" fill="#ffd700"/>
<path d="M435.4,54.8L437.4,60.1L439.3,65.0L441.3,68.7L443.2,70.4L445.2,69.5L447.2,66.6L449.1,62.7L451.1,58.2L453.1,53.5L455.0,48.8L457.0,55.3L458.9,61.7L460.9,67.4L462.9,71.7L464.8,73.4L466.8,71.7L468.8,67.2L470.7,60.9L472.7,53.9L474.6,46.6L476.6,50.6L478.6,54.5L480.5,58.3L482.5,61.8L484.4,64.4L486.4,65.5L488.4,64.2L490.3,60.5L492.3,55.4L494.3,49.8L496.2,56.5L498.2,62.8L500.1,68.3L502.1,71.8L504.1,72.0L506.0,68.5L508.0,62.1L510.0,54.2L511.9,45.6L513.9,36.8L515.8,39.4L517.8,41.9L519.8,44.4L521.7,46.7L523.7,48.7L525.7,49.8L527.6,49.0L529.6,44.6L531.5,36.7L533.5,26.9L533.5,84.2L531.5,88.4L529.6,92.9L527.6,97.6L525.7,102.7L523.7,108.0L521.7,113.6L519.8,119.4L517.8,125.3L515.8,131.4L513.9,137.5L511.9,131.8L510.0,126.9L508.0,123.1L506.0,120.6L504.1,119.8L502.1,120.8L500.1,123.7L498.2,128.4L496.2,134.4L494.3,141.5L492.3,135.7L490.3,130.5L488.4,126.1L486.4,122.7L484.4,120.8L482.5,120.8L480.5,123.2L478.6,128.0L476.6,135.1L474.6,144.2L472.7,137.9L470.7,132.5L468.8,128.2L466.8,125.5L464.8,124.6L462.9,125.7L460.9,128.7L458.9,133.5L457.0,139.7L455.0,147.0L453.1,139.4L451.1,133.3L449.1,129.1L447.2,126.9L445.2,126.8L443.2,128.5L441.3,131.6L439.3,135.8L437.4,140.8L435.4,146.3Z" fill="#ecf700"/>
<path d="M435.4,54.9L437.4,60.2L439.3,65.1L441.3,69.1L443.2,71.2L445.2,70.8L447.2,68.4L449.1,64.9L451.1,60.8L453.1,56.4L455.0,52.0L457.0,58.2L458.9,64.2L460.9,69.5L462.9,73.4L464.8,74.7L466.8,72.7L468.8,68.0L470.7,61.8L472.7,54.9L474.6,47.8L476.6,51.6L478.6,55.4L480.5,59.1L482.5,62.4L484.4,64.9L486.4,65.8L488.4,64.3L490.3,60.6L492.3,55.5L494.3,49.9L496.2,56.5L498.2,62.9L500.1,68.3L502.1,71.8L504.1,72.0L506.0,68.5L508.0,62.1L510.0,54.2L511.9,45.7L513.9,36.9L515.8,39.4L517.8,41.9L519.8,44.4L521.7,46.7L523.7,48.7L525.7,49.8L527.6,49.0L529.6,44.7L531.5,36.7L533.5,27.0L533.5,82.3L531.5,86.7L529.6,91.3L527.6,96.2L525.7,101.4L523.7,106.9L521.7,112.6L519.8,118.6L517.8,124.6L515.8,130.7L513.9,137.0L511.9,131.4L510.0,126.5L508.0,122.7L506.0,120.3L504.1,119.5L502.1,120.5L500.1,123.4L498.2,128.1L496.2,134.1L494.3,141.1L492.3,135.4L490.3,130.2L488.4,125.8L486.4,122.5L484.4,120.7L482.5,120.7L480.5,123.0L478.6,127.9L476.6,135.0L474.6,144.0L472.7,137.7L470.7,132.3L468.8,128.1L466.8,125.4L464.8,124.5L462.9,125.6L460.9,128.6L458.9,133.4L457.0,139.5L455.0,146.7L453.1,139.2L451.1,133.1L449.1,128.9L447.2,126.8L445.2,126.7L443.2,128.3L441.3,131.4L439.3,135.5L437.4,140.4L435.4,145.9Z" fill="#cbff00"/>
<path d="M435.4,54.9L437.4,60.2L439.3,65.3L441.3,69.5L443.2,71.9L445.2,72.1L447.2,70.2L449.1,67.1L451.1,63.3L453.1,59.3L455.0,55.2L457.0,61.0L458.9,66.7L460.9,71.7L462.9,75.1L464.8,76.0L466.8,73.7L468.8,68.9L470.7,62.7L472.7,55.9L474.6,48.9L476.6,52.7L478.6,56.4L480.5,59.9L482.5,63.1L484.4,65.4L486.4,66.1L488.4,64.5L490.3,60.6L492.3,55.5L494.3,49.9L496.2,56.5L498.2,62.9L500.1,68.3L502.1,71.8L504.1,72.0L506.0,68.5L508.0,62.1L510.0,54.2L511.9,45.7L513.9,36.9L515.8,39.4L517.8,41.9L519.8,44.4L521.7,46.7L523.7,48.7L525.7,49.8L527.6,49.0L529.6,44.7L531.5,36.8L533.5,27.0L533.5,80.5L531.5,85.0L529.6,89.8L527.6,94.8L525.7,100.2L523.7,105.8L521.7,111.7L519.8,117.7L517.8,123.9L515.8,130.1L513.9,136.4L511.9,130.9L510.0,126.1L508.0,122.4L506.0,120.0L504.1,119.2L502.1,120.2L500.1,123.2L498.2,127.7L496.2,133.7L494.3,140.8L492.3,135.1L490.3,130.0L488.4,125.6L486.4,122.3L484.4,120.5L482.5,120.6L480.5,122.9L478.6,127.7L476.6,134.8L474.6,143.8L472.7,137.6L470.7,132.2L468.8,128.0L466.8,125.3L464.8,124.4L462.9,125.5L460.9,128.5L458.9,133.2L457.0,139.3L455.0,146.4L453.1,139.0L451.1,132.9L449.1,128.8L447.2,126.6L445.2,126.5L443.2,128.1L441.3,131.2L439.3,135.3L437.4,140.1L435.4,145.6Z" fill="#b8ff00"/>
<path d="M435.4,54.9L437.4,60.3L439.3,65.4L441.3,69.8L443.2,72.7L445.2,73.4L447.2,72.0L449.1,69.2L451.1,65.8L453.1,62.1L455.0,58.3L457.0,63.9L458.9,69.2L460.9,73.8L462.9,76.9L464.8,77.3L466.8,74.6L468.8,69.7L470.7,63.6L472.7,56.9L474.6,50.0L476.6,53.7L478.6,57.3L480.5,60.7L482.5,63.7L484.4,65.9L486.4,66.4L488.4,64.6L490.3,60.7L492.3,55.5L494.3,49.9L496.2,56.6L498.2,62.9L500.1,68.3L502.1,71.8L504.1,72.0L506.0,68.5L508.0,62.1L510.0,54.3L511.9,45.7L513.9,36.9L515.8,39.5L517.8,42.0L519.8,44.4L521.7,46.7L523.7,48.7L525.7,49.8L527.6,49.0L529.6,44.7L531.5,36.8L533.5,27.1L533.5,78.7L531.5,83.3L529.6,88.3L527.6,93.5L525.7,99.0L523.7,104.7L521.7,110.7L519.8,116.9L517.8,123.2L515.8,129.5L513.9,135.9L511.9,130.4L510.0,125.7L508.0,122.0L506.0,119.6L504.1,118.9L502.1,119.9L500.1,122.9L498.2,127.4L496.2,133.4L494.3,140.4L492.3,134.7L490.3,129.7L488.4,125.4L486.4,122.1L484.4,120.3L482.5,120.4L480.5,122.8L478.6,127.6L476.6,134.7L474.6,143.6L472.7,137.4L470.7,132.1L468.8,127.9L466.8,125.2L464.8,124.3L462.9,125.3L460.9,128.3L458.9,133.0L457.0,139.0L455.0,146.2L453.1,138.7L451.1,132.8L449.1,128.6L447.2,126.5L445.2,126.3L443.2,127.9L441.3,130.9L439.3,135.0L437.4,139.8L435.4,145.2Z" fill="#a4ff00"/>
<path d="M435.4,55.0L437.4,60.4L439.3,65.6L441.3,70.1L443.2,73.4L445.2,74.6L447.2,73.7L449.1,71.4L451.1,68.4L453.1,65.0L455.0,61.5L457.0,66.8L458.9,71.7L460.9,76.0L462.9,78.5L464.8,78.5L466.8,75.6L468.8,70.6L470.7,64.5L472.7,57.9L474.6,51.2L476.6,54.7L478.6,58.2L480.5,61.5L482.5,64.4L484.4,66.4L486.4,66.8L488.4,64.8L490.3,60.8L492.3,55.6L494.3,50.0L496.2,56.6L498.2,62.9L500.1,68.4L502.1,71.8L504.1,72.0L506.0,68.5L508.0,62.2L510.0,54.3L511.9,45.7L513.9,37.0L515.8,39.5L517.8,42.0L519.8,44.4L521.7,46.7L523.7,48.7L525.7,49.8L527.6,49.0L529.6,44.7L531.5,36.8L533.5,27.1L533.5,76.8L531.5,81.6L529.6,86.7L527.6,92.1L525.7,97.7L523.7,103.7L521.7,109.8L519.8,116.1L517.8,122.4L515.8,128.9L513.9,135.4L511.9,130.0L510.0,125.3L508.0,121.7L506.0,119.3L504.1,118.6L502.1,119.7L500.1,122.6L498.2,127.1L496.2,133.0L494.3,140.0L492.3,134.4L490.3,129.4L488.4,125.1L486.4,121.9L484.4,120.2L482.5,120.3L480.5,122.7L478.6,127.5L476.6,134.5L474.6,143.4L472.7,137.3L470.7,132.0L468.8,127.8L466.8,125.2L464.8,124.2L462.9,125.2L460.9,128.2L458.9,132.8L457.0,138.8L455.0,145.9L453.1,138.5L451.1,132.6L449.1,128.4L447.2,126.3L445.2,126.2L443.2,127.7L441.3,130.7L439.3,134.7L437.4,139.5L435.4,144.8Z" fill="#91ff00"/>
<path d="M435.4,55.0L437.4,60.4L439.3,65.7L441.3,70.4L443.2,74.0L445.2,75.8L447.2,75.4L449.1,73.6L451.1,70.9L453.1,67.9L455.0,64.7L457.0,69.6L458.9,74.2L460.9,78.1L462.9,80.2L464.8,79.7L466.8,76.5L468.8,71.4L470.7,65.4L472.7,58.9L474.6,52.3L476.6,55.7L478.6,59.1L480.5,62.3L482.5,65.0L484.4,66.9L486.4,67.1L488.4,64.9L490.3,60.8L492.3,55.6L494.3,50.0L496.2,56.6L498.2,62.9L500.1,68.4L502.1,71.8L504.1,72.0L506.0,68.5L508.0,62.2L510.0,54.3L511.9,45.8L513.9,37.0L515.8,39.5L517.8,42.0L519.8,44.4L521.7,46.7L523.7,48.7L525.7,49.8L527.6,49.0L529.6,44.8L531.5,36.9L533.5,27.2L533.5,75.0L531.5,80.0L529.6,85.2L527.6,90.7L525.7,96.5L523.7,102.6L521.7,108.8L519.8,115.2L517.8,121.7L515.8,128.3L513.9,134.9L511.9,129.5L510.0,124.9L508.0,121.3L506.0,119.0L504.1,118.3L502.1,119.4L500.1,122.3L498.2,126.8L496.2,132.7L494.3,139.6L492.3,134.1L490.3,129.1L488.4,124.9L486.4,121.8L484.4,120.0L482.5,120.2L480.5,122.6L478.6,127.3L476.6,134.3L474.6,143.2L472.7,137.1L470.7,131.9L468.8,127.8L466.8,125.1L464.8,124.1L462.9,125.1L460.9,128.0L458.9,132.6L457.0,138.6L455.0,145.6L453.1,138.3L451.1,132.4L449.1,128.3L447.2,126.2L445.2,126.0L443.2,127.6L441.3,130.5L439.3,134.4L437.4,139.1L435.4,144.4Z" fill="#7dff00"/>
<path d="M435.4,57.7L437.4,62.8L439.3,67.9L441.3,72.4L443.2,75.8L445.2,77.5L447.2,77.3L449.1,75.6L451.1,73.1L453.1,70.3L455.0,67.4L457.0,72.0L458.9,76.3L460.9,80.0L462.9,82.1L464.8,81.8L466.8,78.9L468.8,74.2L470.7,68.6L472.7,62.6L474.6,56.4L476.6,59.4L478.6,62.4L480.5,65.2L482.5,67.6L484.4,69.1L486.4,69.0L488.4,66.7L490.3,62.6L492.3,57.6L494.3,52.1L496.2,58.4L498.2,64.3L500.1,69.4L502.1,72.6L504.1,72.5L506.0,69.0L508.0,62.8L510.0,55.2L511.9,47.0L513.9,38.6L515.8,40.9L517.8,43.3L519.8,45.5L521.7,47.6L523.7,49.4L525.7,50.2L527.6,49.2L529.6,44.8L531.5,36.9L533.5,27.3L533.5,71.9L531.5,76.9L529.6,82.0L527.6,87.5L525.7,93.2L523.7,99.2L521.7,105.3L519.8,111.6L517.8,117.9L515.8,124.3L513.9,130.8L511.9,125.9L510.0,121.7L508.0,118.4L506.0,116.3L504.1,115.7L502.1,116.8L500.1,119.5L498.2,123.8L496.2,129.3L494.3,135.7L492.3,130.7L490.3,126.2L488.4,122.5L486.4,119.8L484.4,118.6L482.5,119.1L480.5,121.8L478.6,126.7L476.6,133.5L474.6,142.0L472.7,136.2L470.7,131.1L468.8,127.2L466.8,124.6L464.8,123.7L462.9,124.7L460.9,127.6L458.9,132.0L457.0,137.8L455.0,144.6L453.1,137.6L451.1,131.8L449.1,127.7L447.2,125.4L445.2,125.0L443.2,126.2L441.3,128.8L439.3,132.4L437.4,136.8L435.4,141.7Z" fill="#62ff03"/>
<path d="M435.4,60.3L437.4,65.3L439.3,70.1L441.3,74.4L443.2,77.7L445.2,79.3L447.2,79.1L449.1,77.5L451.1,75.3L453.1,72.7L455.0,70.0L457.0,74.3L458.9,78.4L460.9,81.9L462.9,84.0L464.8,83.9L466.8,81.4L468.8,77.1L470.7,71.9L472.7,66.3L474.6,60.5L476.6,63.1L478.6,65.7L480.5,68.1L482.5,70.1L484.4,71.2L486.4,70.8L488.4,68.5L490.3,64.4L492.3,59.5L494.3,54.3L496.2,60.2L498.2,65.7L500.1,70.5L502.1,73.3L504.1,73.0L506.0,69.4L508.0,63.4L510.0,56.1L511.9,48.3L513.9,40.2L515.8,42.4L517.8,44.5L519.8,46.6L521.7,48.5L523.7,50.1L525.7,50.7L527.6,49.3L529.6,44.8L531.5,36.9L533.5,27.3L533.5,68.9L531.5,73.8L529.6,78.9L527.6,84.3L525.7,90.0L523.7,95.8L521.7,101.8L519.8,108.0L517.8,114.1L515.8,120.4L513.9,126.7L511.9,122.2L510.0,118.4L508.0,115.5L506.0,113.6L504.1,113.1L502.1,114.1L500.1,116.7L498.2,120.7L496.2,125.8L494.3,131.9L492.3,127.3L490.3,123.3L488.4,120.1L486.4,117.9L484.4,117.2L482.5,118.1L480.5,121.1L478.6,126.0L476.6,132.7L474.6,140.9L472.7,135.3L470.7,130.4L468.8,126.6L466.8,124.1L464.8,123.3L462.9,124.3L460.9,127.1L458.9,131.5L457.0,137.1L455.0,143.7L453.1,136.9L451.1,131.2L449.1,127.1L447.2,124.7L445.2,124.0L443.2,124.9L441.3,127.2L439.3,130.4L437.4,134.4L435.4,139.0Z" fill="#47ff06"/>
<path d="M435.4,63.0L437.4,67.7L439.3,72.2L441.3,76.4L443.2,79.5L445.2,81.1L447.2,80.9L449.1,79.5L451.1,77.5L453.1,75.1L455.0,72.7L457.0,76.7L458.9,80.5L460.9,83.8L462.9,85.9L464.8,86.0L466.8,83.8L468.8,79.9L470.7,75.1L472.7,70.0L474.6,64.7L476.6,66.9L478.6,69.0L480.5,71.0L482.5,72.6L484.4,73.4L486.4,72.7L488.4,70.2L490.3,66.2L492.3,61.5L494.3,56.4L496.2,61.9L498.2,67.1L500.1,71.5L502.1,74.0L504.1,73.5L506.0,69.9L508.0,64.0L510.0,57.0L511.9,49.5L513.9,41.9L515.8,43.8L517.8,45.8L519.8,47.7L521.7,49.4L523.7,50.8L525.7,51.1L527.6,49.4L529.6,44.8L531.5,36.9L533.5,27.4L533.5,65.8L531.5,70.7L529.6,75.8L527.6,81.1L525.7,86.7L523.7,92.4L521.7,98.3L519.8,104.3L517.8,110.3L515.8,116.4L513.9,122.6L511.9,118.6L510.0,115.2L508.0,112.5L506.0,110.9L504.1,110.5L502.1,111.5L500.1,114.0L498.2,117.7L496.2,122.4L494.3,128.0L492.3,123.9L490.3,120.4L488.4,117.7L486.4,116.1L484.4,115.8L482.5,117.1L480.5,120.3L478.6,125.4L476.6,131.9L474.6,139.8L472.7,134.3L470.7,129.7L468.8,126.0L466.8,123.7L464.8,122.9L462.9,123.9L460.9,126.6L458.9,130.9L457.0,136.3L455.0,142.7L453.1,136.1L451.1,130.7L449.1,126.5L447.2,123.9L445.2,123.0L443.2,123.6L441.3,125.5L439.3,128.4L437.4,132.1L435.4,136.3Z" fill="#2bff0a"/>
<path d="M435.4,65.6L437.4,70.1L439.3,74.4L441.3,78.3L443.2,81.3L445.2,82.8L447.2,82.8L449.1,81.5L451.1,79.7L453.1,77.6L455.0,75.4L457.0,79.1L458.9,82.6L460.9,85.7L462.9,87.8L464.8,88.0L466.8,86.2L468.8,82.7L470.7,78.4L472.7,73.6L474.6,68.8L476.6,70.6L478.6,72.3L480.5,73.9L482.5,75.2L484.4,75.6L486.4,74.6L488.4,72.0L490.3,68.0L492.3,63.4L494.3,58.5L496.2,63.7L498.2,68.5L500.1,72.5L502.1,74.7L504.1,74.0L506.0,70.3L508.0,64.7L510.0,57.9L511.9,50.8L513.9,43.5L515.8,45.3L517.8,47.1L519.8,48.8L521.7,50.3L523.7,51.4L525.7,51.5L527.6,49.5L529.6,44.8L531.5,36.9L533.5,27.5L533.5,62.7L531.5,67.6L529.6,72.6L527.6,77.9L525.7,83.4L523.7,89.1L521.7,94.8L519.8,100.7L517.8,106.6L515.8,112.5L513.9,118.4L511.9,114.9L510.0,111.9L508.0,109.6L506.0,108.2L504.1,107.9L502.1,108.9L500.1,111.2L498.2,114.6L496.2,119.0L494.3,124.1L492.3,120.6L490.3,117.6L488.4,115.4L486.4,114.2L484.4,114.4L482.5,116.2L480.5,119.7L478.6,124.7L476.6,131.1L474.6,138.6L472.7,133.4L470.7,128.9L468.8,125.4L466.8,123.2L464.8,122.5L462.9,123.5L460.9,126.2L458.9,130.3L457.0,135.6L455.0,141.7L453.1,135.4L451.1,130.1L449.1,125.9L447.2,123.2L445.2,122.0L443.2,122.3L441.3,123.9L439.3,126.4L437.4,129.7L435.4,133.6Z" fill="#18ff37"/>
<path d="M435.4,68.2L437.4,72.5L439.3,76.6L441.3,80.3L443.2,83.1L445.2,84.6L447.2,84.6L449.1,83.5L451.1,81.9L453.1,80.0L455.0,78.0L457.0,81.5L458.9,84.7L460.9,87.6L462.9,89.6L464.8,90.1L466.8,88.6L468.8,85.5L470.7,81.6L472.7,77.3L474.6,72.9L476.6,74.3L478.6,75.6L480.5,76.8L482.5,77.7L484.4,77.7L486.4,76.5L488.4,73.7L490.3,69.8L492.3,65.3L494.3,60.7L496.2,65.5L498.2,69.9L500.1,73.6L502.1,75.4L504.1,74.4L506.0,70.8L508.0,65.3L510.0,58.9L511.9,52.0L513.9,45.1L515.8,46.7L517.8,48.4L519.8,49.9L521.7,51.2L523.7,52.1L525.7,51.9L527.6,49.5L529.6,44.8L531.5,36.9L533.5,27.5L533.5,59.7L531.5,64.5L529.6,69.5L527.6,74.7L525.7,80.2L523.7,85.7L521.7,91.3L519.8,97.0L517.8,102.8L515.8,108.5L513.9,114.3L511.9,111.3L510.0,108.7L508.0,106.7L506.0,105.5L504.1,105.3L502.1,106.3L500.1,108.4L498.2,111.5L496.2,115.6L494.3,120.3L492.3,117.2L490.3,114.7L488.4,113.0L486.4,112.4L484.4,113.1L482.5,115.3L480.5,119.0L478.6,124.1L476.6,130.3L474.6,137.5L472.7,132.5L470.7,128.2L468.8,124.9L466.8,122.8L464.8,122.1L462.9,123.1L460.9,125.7L458.9,129.7L457.0,134.8L455.0,140.8L453.1,134.7L451.1,129.5L449.1,125.4L447.2,122.5L445.2,121.1L443.2,121.1L441.3,122.3L439.3,124.4L437.4,127.4L435.4,130.9Z" fill="#05ff6a"/>
<path d="M435.4,70.9L437.4,74.9L439.3,78.8L441.3,82.3L443.2,85.0L445.2,86.4L447.2,86.4L449.1,85.5L451.1,84.1L453.1,82.4L455.0,80.7L457.0,83.8L458.9,86.8L460.9,89.5L462.9,91.5L464.8,92.1L466.8,91.0L468.8,88.4L470.7,84.9L472.7,81.0L474.6,77.0L476.6,78.0L478.6,79.0L480.5,79.8L482.5,80.2L484.4,79.9L486.4,78.3L488.4,75.5L490.3,71.6L492.3,67.3L494.3,62.8L496.2,67.2L498.2,71.3L500.1,74.6L502.1,76.0L504.1,74.9L506.0,71.2L508.0,65.9L510.0,59.8L511.9,53.3L513.9,46.7L515.8,48.2L517.8,49.6L519.8,51.0L521.7,52.1L523.7,52.8L525.7,52.2L527.6,49.5L529.6,44.8L531.5,36.9L533.5,27.6L533.5,56.6L531.5,61.4L529.6,66.4L527.6,71.6L525.7,76.9L523.7,82.3L521.7,87.8L519.8,93.4L517.8,99.0L515.8,104.6L513.9,110.2L511.9,107.6L510.0,105.4L508.0,103.8L506.0,102.8L504.1,102.8L502.1,103.7L500.1,105.6L498.2,108.5L496.2,112.1L494.3,116.4L492.3,113.8L490.3,111.8L488.4,110.7L486.4,110.6L484.4,111.8L482.5,114.4L480.5,118.4L478.6,123.5L476.6,129.5L474.6,136.3L472.7,131.5L470.7,127.4L468.8,124.3L466.8,122.3L464.8,121.7L462.9,122.7L460.9,125.3L458.9,129.1L457.0,134.1L455.0,139.8L453.1,134.0L451.1,129.0L449.1,124.9L447.2,121.9L445.2,120.2L443.2,119.8L441.3,120.6L439.3,122.5L437.4,125.0L435.4,128.2Z" fill="#00ffbc"/>
<path d="M435.4,73.0L437.4,76.8L439.3,80.5L441.3,83.9L443.2,86.5L445.2,88.0L447.2,88.1L449.1,87.4L451.1,86.2L453.1,84.8L455.0,83.3L457.0,86.1L458.9,88.9L460.9,91.3L462.9,93.0L464.8,93.4L466.8,92.2L468.8,89.6L470.7,86.2L472.7,82.5L474.6,78.7L476.6,79.6L478.6,80.4L480.5,81.0L482.5,81.3L484.4,81.0L486.4,79.5L488.4,76.7L490.3,73.0L492.3,68.8L494.3,64.5L496.2,68.6L498.2,72.4L500.1,75.3L502.1,76.6L504.1,75.3L506.0,71.8L508.0,66.7L510.0,60.8L511.9,54.7L513.9,48.4L515.8,49.7L517.8,51.0L519.8,52.2L521.7,53.1L523.7,53.4L525.7,52.6L527.6,49.5L529.6,44.8L531.5,36.9L533.5,27.7L533.5,54.9L531.5,59.7L529.6,64.8L527.6,70.0L525.7,75.3L523.7,80.8L521.7,86.3L519.8,91.8L517.8,97.4L515.8,103.0L513.9,108.6L511.9,106.2L510.0,104.2L508.0,102.7L506.0,101.8L504.1,101.8L502.1,102.7L500.1,104.6L498.2,107.4L496.2,110.9L494.3,115.0L492.3,112.7L490.3,110.9L488.4,109.9L486.4,110.0L484.4,111.2L482.5,113.8L480.5,117.7L478.6,122.7L476.6,128.5L474.6,135.1L472.7,130.5L470.7,126.7L468.8,123.7L466.8,121.8L464.8,121.3L462.9,122.3L460.9,124.7L458.9,128.4L457.0,133.1L455.0,138.6L453.1,133.0L451.1,128.1L449.1,124.2L447.2,121.3L445.2,119.6L443.2,119.2L441.3,119.9L439.3,121.6L437.4,124.0L435.4,127.0Z" fill="#00eeff"/>
<path d="M435.4,75.1L437.4,78.8L439.3,82.3L441.3,85.5L443.2,88.1L445.2,89.5L447.2,89.8L449.1,89.3L451.1,88.3L453.1,87.1L455.0,85.8L457.0,88.4L458.9,90.9L460.9,93.1L462.9,94.5L464.8,94.7L466.8,93.4L468.8,90.8L470.7,87.6L472.7,84.1L474.6,80.5L476.6,81.1L478.6,81.8L480.5,82.3L482.5,82.5L484.4,82.1L486.4,80.6L488.4,77.9L490.3,74.4L492.3,70.4L494.3,66.2L496.2,70.0L498.2,73.4L500.1,76.1L502.1,77.1L504.1,75.8L506.0,72.3L508.0,67.5L510.0,61.9L511.9,56.1L513.9,50.2L515.8,51.3L517.8,52.3L519.8,53.3L521.7,54.0L523.7,54.1L525.7,52.9L527.6,49.5L529.6,44.8L531.5,36.9L533.5,27.9L533.5,53.2L531.5,58.1L529.6,63.2L527.6,68.4L525.7,73.8L523.7,79.3L521.7,84.8L519.8,90.3L517.8,95.9L515.8,101.4L513.9,107.0L511.9,104.8L510.0,102.9L508.0,101.5L506.0,100.8L504.1,100.8L502.1,101.8L500.1,103.6L498.2,106.3L496.2,109.7L494.3,113.7L492.3,111.5L490.3,110.0L488.4,109.1L486.4,109.3L484.4,110.6L482.5,113.2L480.5,117.0L478.6,121.8L476.6,127.5L474.6,133.9L472.7,129.6L470.7,125.9L468.8,123.1L466.8,121.3L464.8,120.8L462.9,121.8L460.9,124.1L458.9,127.6L457.0,132.1L455.0,137.4L453.1,132.0L451.1,127.3L449.1,123.5L447.2,120.7L445.2,119.0L443.2,118.6L441.3,119.3L439.3,120.8L437.4,123.0L435.4,125.8Z" fill="#00afff"/>
<path d="M435.4,77.2L437.4,80.7L439.3,84.0L441.3,87.1L443.2,89.6L445.2,91.1L447.2,91.5L449.1,91.1L451.1,90.3L453.1,89.4L455.0,88.4L457.0,90.7L458.9,92.9L460.9,94.8L462.9,96.0L464.8,96.0L466.8,94.6L468.8,92.1L470.7,89.0L472.7,85.7L474.6,82.3L476.6,82.8L478.6,83.2L480.5,83.6L482.5,83.7L484.4,83.2L486.4,81.8L488.4,79.2L490.3,75.8L492.3,71.9L494.3,67.9L496.2,71.3L498.2,74.5L500.1,76.9L502.1,77.7L504.1,76.3L506.0,72.9L508.0,68.2L510.0,63.0L511.9,57.5L513.9,51.9L515.8,52.8L517.8,53.7L519.8,54.4L521.7,54.9L523.7,54.7L525.7,53.2L527.6,49.5L529.6,44.8L531.5,36.9L533.5,28.0L533.5,51.5L531.5,56.4L529.6,61.6L527.6,66.9L525.7,72.3L523.7,77.7L521.7,83.2L519.8,88.7L517.8,94.3L515.8,99.8L513.9,105.4L511.9,103.3L510.0,101.6L508.0,100.4L506.0,99.8L504.1,99.9L502.1,100.8L500.1,102.6L498.2,105.2L496.2,108.5L494.3,112.3L492.3,110.4L490.3,109.0L488.4,108.3L486.4,108.6L484.4,110.0L482.5,112.6L480.5,116.3L478.6,121.0L476.6,126.5L474.6,132.6L472.7,128.6L470.7,125.1L468.8,122.5L466.8,120.8L464.8,120.4L462.9,121.3L460.9,123.5L458.9,126.9L457.0,131.2L455.0,136.2L453.1,131.0L451.1,126.5L449.1,122.8L447.2,120.1L445.2,118.5L443.2,118.0L441.3,118.5L439.3,119.9L437.4,122.0L435.4,124.5Z" fill="#0a5fff"/>
<path d="M435.4,79.1L437.4,82.4L439.3,85.6L441.3,88.5L443.2,90.9L445.2,92.4L447.2,93.0L449.1,92.8L451.1,92.2L453.1,91.4L455.0,90.6L457.0,92.7L458.9,94.7L460.9,96.3L462.9,97.4L464.8,97.3L466.8,96.0L468.8,93.6L470.7,90.8L472.7,87.7L474.6,84.5L476.6,84.8L478.6,85.0L480.5,85.2L482.5,85.1L484.4,84.5L486.4,83.1L488.4,80.6L490.3,77.3L492.3,73.6L494.3,69.8L496.2,72.9L498.2,75.7L500.1,77.7L502.1,78.2L504.1,76.6L506.0,73.2L508.0,68.8L510.0,63.8L511.9,58.6L513.9,53.3L515.8,54.1L517.8,54.8L519.8,55.4L521.7,55.6L523.7,55.2L525.7,53.4L527.6,49.5L529.6,44.8L531.5,36.9L533.5,28.2L533.5,49.8L531.5,54.8L529.6,59.9L527.6,65.2L525.7,70.6L523.7,76.1L521.7,81.6L519.8,87.0L517.8,92.5L515.8,98.0L513.9,103.5L511.9,101.7L510.0,100.2L508.0,99.1L506.0,98.6L504.1,98.7L502.1,99.7L500.1,101.5L498.2,104.0L496.2,107.1L494.3,110.7L492.3,109.0L490.3,107.9L488.4,107.4L486.4,107.8L484.4,109.3L482.5,111.9L480.5,115.5L478.6,120.1L476.6,125.4L474.6,131.3L472.7,127.5L470.7,124.2L468.8,121.8L466.8,120.3L464.8,119.9L462.9,120.9L460.9,123.0L458.9,126.3L457.0,130.4L455.0,135.1L453.1,130.2L451.1,125.8L449.1,122.2L447.2,119.5L445.2,117.9L443.2,117.3L441.3,117.7L439.3,119.0L437.4,120.8L435.4,123.1Z" fill="#1e1eff"/>
<path d="M435.4,80.9L437.4,84.0L439.3,87.1L441.3,89.9L443.2,92.3L445.2,93.8L447.2,94.4L449.1,94.4L451.1,94.0L453.1,93.4L455.0,92.8L457.0,94.7L458.9,96.4L460.9,97.9L462.9,98.8L464.8,98.6L466.8,97.3L468.8,95.2L470.7,92.5L472.7,89.6L474.6,86.7L476.6,86.8L478.6,86.8L480.5,86.8L482.5,86.5L484.4,85.8L486.4,84.4L488.4,81.9L490.3,78.8L492.3,75.3L494.3,71.6L496.2,74.4L498.2,76.9L500.1,78.6L502.1,78.7L504.1,77.0L506.0,73.6L508.0,69.3L510.0,64.6L511.9,59.7L513.9,54.8L515.8,55.4L517.8,55.9L519.8,56.3L521.7,56.4L523.7,55.7L525.7,53.5L527.6,49.5L529.6,44.8L531.5,36.9L533.5,28.3L533.5,48.1L531.5,53.1L529.6,58.3L527.6,63.6L525.7,69.0L523.7,74.4L521.7,79.9L519.8,85.3L517.8,90.8L515.8,96.2L513.9,101.7L511.9,100.1L510.0,98.7L508.0,97.8L506.0,97.4L504.1,97.6L502.1,98.6L500.1,100.3L498.2,102.7L496.2,105.7L494.3,109.1L492.3,107.7L490.3,106.8L488.4,106.5L486.4,107.1L484.4,108.6L482.5,111.2L480.5,114.8L478.6,119.2L476.6,124.3L474.6,129.9L472.7,126.3L470.7,123.3L468.8,121.1L466.8,119.7L464.8,119.5L462.9,120.4L460.9,122.5L458.9,125.6L457.0,129.6L455.0,134.1L453.1,129.3L451.1,125.1L449.1,121.6L447.2,119.0L445.2,117.3L443.2,116.6L441.3,116.9L439.3,118.0L437.4,119.6L435.4,121.7Z" fill="#3507ff"/>
<path d="M435.4,82.8L437.4,85.7L439.3,88.6L441.3,91.3L443.2,93.6L445.2,95.2L447.2,95.9L449.1,96.0L451.1,95.8L453.1,95.5L455.0,95.1L457.0,96.7L458.9,98.2L460.9,99.4L462.9,100.2L464.8,100.0L466.8,98.7L468.8,96.7L470.7,94.2L472.7,91.6L474.6,88.9L476.6,88.7L478.6,88.6L480.5,88.4L482.5,88.0L484.4,87.2L486.4,85.7L488.4,83.3L490.3,80.3L492.3,76.9L494.3,73.5L496.2,75.9L498.2,78.1L500.1,79.4L502.1,79.3L504.1,77.3L506.0,74.0L508.0,69.9L510.0,65.5L511.9,60.9L513.9,56.2L515.8,56.7L517.8,57.0L519.8,57.3L521.7,57.1L523.7,56.1L525.7,53.7L527.6,49.5L529.6,44.8L531.5,36.9L533.5,28.5L533.5,46.4L531.5,51.5L529.6,56.7L527.6,62.1L525.7,67.4L523.7,72.8L521.7,78.2L519.8,83.6L517.8,89.0L515.8,94.4L513.9,99.8L511.9,98.4L510.0,97.3L508.0,96.5L506.0,96.2L504.1,96.5L502.1,97.4L500.1,99.1L498.2,101.4L496.2,104.2L494.3,107.5L492.3,106.3L490.3,105.7L488.4,105.6L486.4,106.3L484.4,107.9L482.5,110.5L480.5,114.0L478.6,118.3L476.6,123.2L474.6,128.5L472.7,125.2L470.7,122.4L468.8,120.4L466.8,119.2L464.8,119.0L462.9,120.0L460.9,122.0L458.9,125.0L457.0,128.8L455.0,133.1L453.1,128.5L451.1,124.4L449.1,121.0L447.2,118.4L445.2,116.7L443.2,116.0L441.3,116.1L439.3,117.0L437.4,118.4L435.4,120.3Z" fill="#7200ff"/>
<path d="M435.4,85.5L437.4,88.2L439.3,90.9L441.3,93.4L443.2,95.5L445.2,97.1L447.2,97.9L449.1,98.2L451.1,98.2L453.1,98.1L455.0,97.9L457.0,99.2L458.9,100.5L460.9,101.5L462.9,102.0L464.8,101.8L466.8,100.7L468.8,98.9L470.7,96.7L472.7,94.4L474.6,92.0L476.6,91.6L478.6,91.1L480.5,90.6L482.5,89.9L484.4,88.9L486.4,87.3L488.4,84.9L490.3,82.0L492.3,78.8L494.3,75.5L496.2,77.6L498.2,79.3L500.1,80.3L502.1,79.9L504.1,77.9L506.0,74.7L508.0,71.0L510.0,66.9L511.9,62.8L513.9,58.6L515.8,58.7L517.8,58.8L519.8,58.7L521.7,58.2L523.7,56.8L525.7,53.8L527.6,49.5L529.6,44.8L531.5,36.9L533.5,28.7L533.5,45.6L531.5,50.5L529.6,55.6L527.6,60.7L525.7,65.9L523.7,71.0L521.7,76.2L519.8,81.4L517.8,86.6L515.8,91.8L513.9,96.9L511.9,95.9L510.0,95.0L508.0,94.5L506.0,94.4L504.1,94.9L502.1,95.9L500.1,97.6L498.2,99.8L496.2,102.5L494.3,105.5L492.3,104.6L490.3,104.2L488.4,104.4L486.4,105.3L484.4,107.1L482.5,109.7L480.5,113.1L478.6,117.2L476.6,121.9L474.6,127.0L472.7,124.0L470.7,121.5L468.8,119.6L466.8,118.5L464.8,118.5L462.9,119.4L460.9,121.3L458.9,124.1L457.0,127.6L455.0,131.6L453.1,127.3L451.1,123.4L449.1,120.2L447.2,117.7L445.2,116.1L443.2,115.3L441.3,115.4L439.3,116.2L437.4,117.4L435.4,119.1Z" fill="#bd00ff"/>
<path d="M435.4,88.5L437.4,91.0L439.3,93.4L441.3,95.7L443.2,97.6L445.2,99.1L447.2,100.0L449.1,100.5L451.1,100.7L453.1,100.9L455.0,101.0L457.0,102.0L458.9,102.9L460.9,103.6L462.9,104.0L464.8,103.7L466.8,102.8L468.8,101.2L470.7,99.4L472.7,97.5L474.6,95.5L476.6,94.7L478.6,93.9L480.5,93.1L482.5,92.1L484.4,90.8L486.4,89.0L488.4,86.6L490.3,83.8L492.3,80.8L494.3,77.7L496.2,79.3L498.2,80.6L500.1,81.2L502.1,80.5L504.1,78.5L506.0,75.6L508.0,72.2L510.0,68.6L511.9,64.9L513.9,61.1L515.8,61.0L517.8,60.8L519.8,60.3L521.7,59.4L523.7,57.4L525.7,53.8L527.6,49.5L529.6,44.8L531.5,36.9L533.5,29.1L533.5,45.1L531.5,49.7L529.6,54.6L527.6,59.4L525.7,64.3L523.7,69.2L521.7,74.1L519.8,79.0L517.8,83.9L515.8,88.8L513.9,93.7L511.9,93.0L510.0,92.5L508.0,92.3L506.0,92.4L504.1,93.1L502.1,94.3L500.1,96.0L498.2,98.1L496.2,100.6L494.3,103.3L492.3,102.8L490.3,102.7L488.4,103.2L486.4,104.3L484.4,106.2L482.5,108.9L480.5,112.2L478.6,116.2L476.6,120.6L474.6,125.4L472.7,122.7L470.7,120.5L468.8,118.8L466.8,117.9L464.8,117.9L462.9,118.8L460.9,120.6L458.9,123.1L457.0,126.3L455.0,130.0L453.1,125.9L451.1,122.3L449.1,119.3L447.2,116.9L445.2,115.4L443.2,114.7L441.3,114.8L439.3,115.4L437.4,116.5L435.4,117.9Z" fill="#f400e3"/>
<path d="M435.4,91.5L437.4,93.7L439.3,95.9L441.3,97.9L443.2,99.7L445.2,101.1L447.2,102.1L449.1,102.8L451.1,103.3L453.1,103.7L455.0,104.1L457.0,104.7L458.9,105.3L460.9,105.8L462.9,106.0L464.8,105.7L466.8,104.9L468.8,103.6L470.7,102.1L472.7,100.5L474.6,98.9L476.6,97.8L478.6,96.7L480.5,95.5L482.5,94.2L484.4,92.7L486.4,90.7L488.4,88.3L490.3,85.6L492.3,82.7L494.3,79.8L496.2,80.9L498.2,81.8L500.1,82.0L502.1,81.1L504.1,79.2L506.0,76.5L508.0,73.4L510.0,70.2L511.9,67.0L513.9,63.7L515.8,63.3L517.8,62.7L519.8,61.9L521.7,60.4L523.7,57.8L525.7,53.8L527.6,49.5L529.6,44.8L531.5,36.9L533.5,29.4L533.5,44.6L531.5,49.0L529.6,53.6L527.6,58.2L525.7,62.8L523.7,67.4L521.7,72.0L519.8,76.6L517.8,81.2L515.8,85.9L513.9,90.5L511.9,90.1L510.0,89.9L508.0,90.0L506.0,90.5L504.1,91.4L502.1,92.6L500.1,94.3L498.2,96.4L496.2,98.7L494.3,101.2L492.3,101.0L490.3,101.2L488.4,102.0L486.4,103.3L484.4,105.3L482.5,108.0L480.5,111.4L478.6,115.2L476.6,119.3L474.6,123.8L472.7,121.4L470.7,119.5L468.8,118.0L466.8,117.3L464.8,117.3L462.9,118.1L460.9,119.8L458.9,122.1L457.0,125.0L455.0,128.4L453.1,124.6L451.1,121.2L449.1,118.4L447.2,116.2L445.2,114.8L443.2,114.1L441.3,114.1L439.3,114.6L437.4,115.5L435.4,116.7Z" fill="#ff0090"/>
<path d="M435.4,94.7L437.4,96.6L439.3,98.5L441.3,100.3L443.2,101.9L445.2,103.3L447.2,104.4L449.1,105.3L451.1,106.1L453.1,106.8L455.0,107.6L457.0,107.8L458.9,108.0L460.9,108.2L462.9,108.1L464.8,107.8L466.8,107.1L468.8,106.1L470.7,104.9L472.7,103.7L474.6,102.4L476.6,101.0L478.6,99.5L480.5,98.1L482.5,96.5L484.4,94.7L486.4,92.7L488.4,90.4L490.3,87.9L492.3,85.3L494.3,82.6L496.2,83.0L498.2,83.3L500.1,83.1L502.1,82.1L504.1,80.4L506.0,78.2L508.0,75.8L510.0,73.3L511.9,70.8L513.9,68.2L515.8,66.8L517.8,65.4L519.8,63.7L521.7,61.6L523.7,58.6L525.7,54.7L527.6,49.9L529.6,44.8L531.5,39.1L533.5,33.6L533.5,44.1L531.5,48.2L529.6,52.4L527.6,56.6L525.7,60.9L523.7,65.1L521.7,69.4L519.8,73.6L517.8,77.8L515.8,82.1L513.9,86.3L511.9,86.4L510.0,86.7L508.0,87.1L506.0,87.7L504.1,88.7L502.1,89.9L500.1,91.4L498.2,93.1L496.2,95.0L494.3,97.1L492.3,97.6L490.3,98.5L488.4,99.6L486.4,101.2L484.4,103.3L482.5,105.8L480.5,108.8L478.6,112.1L476.6,115.6L474.6,119.3L472.7,117.8L470.7,116.7L468.8,115.8L466.8,115.4L464.8,115.6L462.9,116.3L460.9,117.6L458.9,119.4L457.0,121.6L455.0,124.0L453.1,121.0L451.1,118.2L449.1,115.9L447.2,114.0L445.2,112.6L443.2,111.7L441.3,111.3L439.3,111.2L437.4,111.4L435.4,111.8Z" fill="#ff0060"/>
<path d="M435.4,97.8L437.4,99.5L439.3,101.1L441.3,102.7L443.2,104.2L445.2,105.5L447.2,106.8L449.1,107.9L451.1,108.9L453.1,110.0L455.0,111.0L457.0,110.9L458.9,110.8L460.9,110.6L462.9,110.3L464.8,109.9L466.8,109.3L468.8,108.5L470.7,107.7L472.7,106.8L474.6,106.0L476.6,104.2L478.6,102.4L480.5,100.6L482.5,98.8L484.4,96.8L486.4,94.8L488.4,92.6L490.3,90.3L492.3,87.9L494.3,85.5L496.2,85.2L498.2,84.8L500.1,84.1L502.1,83.1L504.1,81.8L506.0,80.1L508.0,78.4L510.0,76.6L511.9,74.8L513.9,73.0L515.8,70.6L517.8,68.1L519.8,65.6L521.7,62.8L523.7,59.5L525.7,55.8L527.6,51.7L529.6,47.3L531.5,42.9L533.5,38.3L533.5,43.6L531.5,47.4L529.6,51.2L527.6,55.1L525.7,58.9L523.7,62.8L521.7,66.6L519.8,70.5L517.8,74.4L515.8,78.2L513.9,82.1L511.9,82.6L510.0,83.3L508.0,84.0L506.0,84.9L504.1,85.9L502.1,87.0L500.1,88.3L498.2,89.7L496.2,91.2L494.3,92.7L492.3,94.1L490.3,95.5L488.4,97.2L486.4,99.0L484.4,101.1L482.5,103.5L480.5,106.0L478.6,108.7L476.6,111.5L474.6,114.4L472.7,113.9L470.7,113.6L468.8,113.4L466.8,113.5L464.8,113.8L462.9,114.4L460.9,115.3L458.9,116.5L457.0,117.8L455.0,119.3L453.1,117.1L451.1,115.0L449.1,113.2L447.2,111.5L445.2,110.2L443.2,109.1L441.3,108.2L439.3,107.5L437.4,106.9L435.4,106.4Z" fill="#ff0048"/>
<path d="M435.4,101.0L455.0,114.5L474.6,109.5L494.3,88.4L513.9,77.8L533.5,43.1" fill="none" stroke="#000" stroke-width="2.4" stroke-linejoin="round"/>
<text x="104.6" y="19.6" text-anchor="middle" font-size="12.5" fill="#1a1a1a">Cluster 1</text>
<path d="M58.4,25.4H62.4V146.7H58.4" fill="none" stroke="#1a1a1a" stroke-width="1.35"/>
<text transform="translate(52.90,146.70) rotate(-90)" text-anchor="middle" font-size="10" fill="#1a1a1a">0</text>
<path d="M58.4,115.50H62.4" stroke="#1a1a1a" stroke-width="1.35"/>
<text transform="translate(52.90,115.50) rotate(-90)" text-anchor="middle" font-size="10" fill="#1a1a1a">2</text>
<path d="M58.4,84.50H62.4" stroke="#1a1a1a" stroke-width="1.35"/>
<text transform="translate(52.90,84.50) rotate(-90)" text-anchor="middle" font-size="10" fill="#1a1a1a">4</text>
<path d="M58.4,53.00H62.4" stroke="#1a1a1a" stroke-width="1.35"/>
<text transform="translate(52.90,53.00) rotate(-90)" text-anchor="middle" font-size="10" fill="#1a1a1a">6</text>
<text transform="translate(52.90,25.40) rotate(-90)" text-anchor="middle" font-size="10" fill="#1a1a1a">8</text>
<path d="M66.8,157.6V151.6H169.0V157.6" fill="none" stroke="#1a1a1a" stroke-width="1.35"/>
<path d="M87.24,151.6V157.6" stroke="#1a1a1a" stroke-width="1.35"/>
<path d="M107.68,151.6V157.6" stroke="#1a1a1a" stroke-width="1.35"/>
<path d="M128.12,151.6V157.6" stroke="#1a1a1a" stroke-width="1.35"/>
<path d="M148.56,151.6V157.6" stroke="#1a1a1a" stroke-width="1.35"/>
<text x="85.30" y="174.6" text-anchor="middle" font-size="12.8" fill="#1a1a1a">S2</text>
<text x="125.80" y="174.6" text-anchor="middle" font-size="12.8" fill="#1a1a1a">S4</text>
<text x="169.90" y="174.6" text-anchor="middle" font-size="12.8" fill="#1a1a1a">S6</text>
<text x="244.9" y="19.6" text-anchor="middle" font-size="12.5" fill="#1a1a1a">Cluster 2</text>
<path d="M187.4,28.4H191.4V146.9H187.4" fill="none" stroke="#1a1a1a" stroke-width="1.35"/>
<text transform="translate(181.90,146.90) rotate(-90)" text-anchor="middle" font-size="10" fill="#1a1a1a">0</text>
<path d="M187.4,117.28H191.4" stroke="#1a1a1a" stroke-width="1.35"/>
<text transform="translate(181.90,117.28) rotate(-90)" text-anchor="middle" font-size="10" fill="#1a1a1a">2</text>
<path d="M187.4,87.65H191.4" stroke="#1a1a1a" stroke-width="1.35"/>
<text transform="translate(181.90,87.65) rotate(-90)" text-anchor="middle" font-size="10" fill="#1a1a1a">4</text>
<path d="M187.4,58.03H191.4" stroke="#1a1a1a" stroke-width="1.35"/>
<text transform="translate(181.90,58.03) rotate(-90)" text-anchor="middle" font-size="10" fill="#1a1a1a">6</text>
<text transform="translate(181.90,28.40) rotate(-90)" text-anchor="middle" font-size="10" fill="#1a1a1a">8</text>
<path d="M194.9,157.6V151.6H285.2V157.6" fill="none" stroke="#1a1a1a" stroke-width="1.35"/>
<path d="M212.96,151.6V157.6" stroke="#1a1a1a" stroke-width="1.35"/>
<path d="M231.02,151.6V157.6" stroke="#1a1a1a" stroke-width="1.35"/>
<path d="M249.08,151.6V157.6" stroke="#1a1a1a" stroke-width="1.35"/>
<path d="M267.14,151.6V157.6" stroke="#1a1a1a" stroke-width="1.35"/>
<text x="211.80" y="174.6" text-anchor="middle" font-size="12.8" fill="#1a1a1a">S2</text>
<text x="248.50" y="174.6" text-anchor="middle" font-size="12.8" fill="#1a1a1a">S4</text>
<text x="285.80" y="174.6" text-anchor="middle" font-size="12.8" fill="#1a1a1a">S6</text>
<text x="366.9" y="19.6" text-anchor="middle" font-size="12.5" fill="#1a1a1a">Cluster 3</text>
<path d="M305.3,29.6H309.3V146.8H305.3" fill="none" stroke="#1a1a1a" stroke-width="1.35"/>
<text transform="translate(299.80,146.80) rotate(-90)" text-anchor="middle" font-size="10" fill="#1a1a1a">0</text>
<path d="M305.3,117.50H309.3" stroke="#1a1a1a" stroke-width="1.35"/>
<text transform="translate(299.80,117.50) rotate(-90)" text-anchor="middle" font-size="10" fill="#1a1a1a">2</text>
<path d="M305.3,88.20H309.3" stroke="#1a1a1a" stroke-width="1.35"/>
<text transform="translate(299.80,88.20) rotate(-90)" text-anchor="middle" font-size="10" fill="#1a1a1a">4</text>
<path d="M305.3,58.90H309.3" stroke="#1a1a1a" stroke-width="1.35"/>
<text transform="translate(299.80,58.90) rotate(-90)" text-anchor="middle" font-size="10" fill="#1a1a1a">6</text>
<text transform="translate(299.80,29.60) rotate(-90)" text-anchor="middle" font-size="10" fill="#1a1a1a">8</text>
<path d="M313.2,157.1V151.1H408.4V157.1" fill="none" stroke="#1a1a1a" stroke-width="1.35"/>
<path d="M332.24,151.1V157.1" stroke="#1a1a1a" stroke-width="1.35"/>
<path d="M351.28,151.1V157.1" stroke="#1a1a1a" stroke-width="1.35"/>
<path d="M370.32,151.1V157.1" stroke="#1a1a1a" stroke-width="1.35"/>
<path d="M389.36,151.1V157.1" stroke="#1a1a1a" stroke-width="1.35"/>
<text x="330.70" y="174.6" text-anchor="middle" font-size="12.8" fill="#1a1a1a">S2</text>
<text x="370.90" y="174.6" text-anchor="middle" font-size="12.8" fill="#1a1a1a">S4</text>
<text x="411.50" y="174.6" text-anchor="middle" font-size="12.8" fill="#1a1a1a">S6</text>
<text x="485.2" y="19.6" text-anchor="middle" font-size="12.5" fill="#1a1a1a">Cluster 4</text>
<path d="M427.5,28.8H431.5V148.9H427.5" fill="none" stroke="#1a1a1a" stroke-width="1.35"/>
<text transform="translate(422.00,148.90) rotate(-90)" text-anchor="middle" font-size="10" fill="#1a1a1a">0</text>
<path d="M427.5,118.88H431.5" stroke="#1a1a1a" stroke-width="1.35"/>
<text transform="translate(422.00,118.88) rotate(-90)" text-anchor="middle" font-size="10" fill="#1a1a1a">2</text>
<path d="M427.5,88.85H431.5" stroke="#1a1a1a" stroke-width="1.35"/>
<text transform="translate(422.00,88.85) rotate(-90)" text-anchor="middle" font-size="10" fill="#1a1a1a">4</text>
<path d="M427.5,58.83H431.5" stroke="#1a1a1a" stroke-width="1.35"/>
<text transform="translate(422.00,58.83) rotate(-90)" text-anchor="middle" font-size="10" fill="#1a1a1a">6</text>
<text transform="translate(422.00,28.80) rotate(-90)" text-anchor="middle" font-size="10" fill="#1a1a1a">8</text>
<path d="M435.4,157.6V151.6H533.5V157.6" fill="none" stroke="#1a1a1a" stroke-width="1.35"/>
<path d="M455.02,151.6V157.6" stroke="#1a1a1a" stroke-width="1.35"/>
<path d="M474.64,151.6V157.6" stroke="#1a1a1a" stroke-width="1.35"/>
<path d="M494.26,151.6V157.6" stroke="#1a1a1a" stroke-width="1.35"/>
<path d="M513.88,151.6V157.6" stroke="#1a1a1a" stroke-width="1.35"/>
<text x="455.00" y="174.6" text-anchor="middle" font-size="12.8" fill="#1a1a1a">S2</text>
<text x="495.00" y="174.6" text-anchor="middle" font-size="12.8" fill="#1a1a1a">S4</text>
<text x="532.30" y="174.6" text-anchor="middle" font-size="12.8" fill="#1a1a1a">S6</text>
<text x="28.4" y="15.7" font-size="12.3" font-weight="bold" fill="#000">A</text>
<text x="28.8" y="185.4" font-size="12" font-weight="bold" fill="#000">B</text>
<text transform="translate(15.6,80.4) rotate(-90)" text-anchor="middle" font-size="15" fill="#1a1a1a">Expression</text>
<text transform="translate(33.4,79.4) rotate(-90)" text-anchor="middle" font-size="15.1" fill="#1a1a1a">(Log<tspan font-size="10.5" dy="3">2</tspan><tspan dy="-3"> (TPM))</tspan></text>
<rect x="320.81" y="203.30" width="99.29" height="10.2" fill="#FFFF00"/>
<rect x="420.9" y="203.30" width="59.10" height="10.2" fill="#80FF66"/>
<text x="215" y="208.90" text-anchor="end" font-size="10.5" fill="#1a1a1a">Biological regulation</text>
<text x="320.51" y="210.90" text-anchor="end" font-size="8.7" fill="#1a1a1a">126</text>
<text x="480.00" y="210.90" font-size="8.7" fill="#1a1a1a">75</text>
<rect x="335.78" y="215.94" width="84.32" height="10.2" fill="#FFFF00"/>
<rect x="420.9" y="215.94" width="64.62" height="10.2" fill="#80FF66"/>
<text x="215" y="221.60" text-anchor="end" font-size="10.5" fill="#1a1a1a">Cellular process</text>
<text x="335.48" y="223.54" text-anchor="end" font-size="8.7" fill="#1a1a1a">107</text>
<text x="485.52" y="223.54" font-size="8.7" fill="#1a1a1a">82</text>
<rect x="320.81" y="228.59" width="99.29" height="10.2" fill="#FFFF00"/>
<rect x="420.9" y="228.59" width="62.25" height="10.2" fill="#80FF66"/>
<text x="215" y="234.30" text-anchor="end" font-size="10.5" fill="#1a1a1a">Developmental process</text>
<text x="320.51" y="236.19" text-anchor="end" font-size="8.7" fill="#1a1a1a">126</text>
<text x="483.15" y="236.19" font-size="8.7" fill="#1a1a1a">79</text>
<rect x="282.99" y="241.23" width="137.11" height="10.2" fill="#FFFF00"/>
<rect x="420.9" y="241.23" width="73.28" height="10.2" fill="#80FF66"/>
<text x="215" y="247.00" text-anchor="end" font-size="10.5" fill="#1a1a1a">Localization</text>
<text x="282.69" y="248.83" text-anchor="end" font-size="8.7" fill="#1a1a1a">174</text>
<text x="494.18" y="248.83" font-size="8.7" fill="#1a1a1a">93</text>
<rect x="321.60" y="253.87" width="98.50" height="10.2" fill="#FFFF00"/>
<rect x="420.9" y="253.87" width="79.59" height="10.2" fill="#80FF66"/>
<text x="215" y="259.70" text-anchor="end" font-size="10.5" fill="#1a1a1a">Multicellular organismal process</text>
<text x="321.30" y="261.47" text-anchor="end" font-size="8.7" fill="#1a1a1a">125</text>
<text x="500.49" y="261.47" font-size="8.7" fill="#1a1a1a">101</text>
<rect x="331.84" y="266.51" width="88.26" height="10.2" fill="#FFFF00"/>
<rect x="420.9" y="266.51" width="64.62" height="10.2" fill="#80FF66"/>
<text x="215" y="272.40" text-anchor="end" font-size="10.5" fill="#1a1a1a">Reproductive process</text>
<text x="331.54" y="274.12" text-anchor="end" font-size="8.7" fill="#1a1a1a">112</text>
<text x="485.52" y="274.12" font-size="8.7" fill="#1a1a1a">82</text>
<rect x="313.72" y="279.16" width="106.38" height="10.2" fill="#FFFF00"/>
<rect x="420.9" y="279.16" width="72.50" height="10.2" fill="#80FF66"/>
<text x="215" y="285.10" text-anchor="end" font-size="10.5" fill="#1a1a1a">Response to stimulus</text>
<text x="313.42" y="286.76" text-anchor="end" font-size="8.7" fill="#1a1a1a">135</text>
<text x="493.40" y="286.76" font-size="8.7" fill="#1a1a1a">92</text>
<rect x="306.63" y="291.80" width="113.47" height="10.2" fill="#FFFF00"/>
<rect x="420.9" y="291.80" width="61.46" height="10.2" fill="#80FF66"/>
<text x="215" y="297.80" text-anchor="end" font-size="10.5" fill="#1a1a1a">Cell junction</text>
<text x="306.33" y="299.40" text-anchor="end" font-size="8.7" fill="#1a1a1a">144</text>
<text x="482.36" y="299.40" font-size="8.7" fill="#1a1a1a">78</text>
<rect x="287.72" y="304.44" width="132.38" height="10.2" fill="#FFFF00"/>
<rect x="420.9" y="304.44" width="89.04" height="10.2" fill="#80FF66"/>
<text x="215" y="310.50" text-anchor="end" font-size="10.5" fill="#1a1a1a">Cell periphery</text>
<text x="287.42" y="312.04" text-anchor="end" font-size="8.7" fill="#1a1a1a">168</text>
<text x="509.94" y="312.04" font-size="8.7" fill="#1a1a1a">113</text>
<rect x="313.72" y="317.09" width="106.38" height="10.2" fill="#FFFF00"/>
<rect x="420.9" y="317.09" width="92.20" height="10.2" fill="#80FF66"/>
<text x="215" y="323.20" text-anchor="end" font-size="10.5" fill="#1a1a1a">Cytoplasm</text>
<text x="313.42" y="324.69" text-anchor="end" font-size="8.7" fill="#1a1a1a">135</text>
<text x="513.10" y="324.69" font-size="8.7" fill="#1a1a1a">117</text>
<rect x="234.92" y="329.73" width="185.18" height="10.2" fill="#FFFF00"/>
<rect x="420.9" y="329.73" width="73.28" height="10.2" fill="#80FF66"/>
<text x="215" y="335.90" text-anchor="end" font-size="10.5" fill="#1a1a1a">Endomembrane system</text>
<text x="234.62" y="337.33" text-anchor="end" font-size="8.7" fill="#1a1a1a">235</text>
<text x="494.18" y="337.33" font-size="8.7" fill="#1a1a1a">93</text>
<rect x="371.24" y="342.37" width="48.86" height="10.2" fill="#FFFF00"/>
<rect x="420.9" y="342.37" width="53.58" height="10.2" fill="#80FF66"/>
<text x="215" y="348.60" text-anchor="end" font-size="10.5" fill="#1a1a1a">Extracellular region</text>
<text x="370.94" y="349.97" text-anchor="end" font-size="8.7" fill="#1a1a1a">62</text>
<text x="474.48" y="349.97" font-size="8.7" fill="#1a1a1a">68</text>
<rect x="337.36" y="355.02" width="82.74" height="10.2" fill="#FFFF00"/>
<rect x="420.9" y="355.02" width="46.49" height="10.2" fill="#80FF66"/>
<text x="215" y="361.30" text-anchor="end" font-size="10.5" fill="#1a1a1a">Membrane-enclosed lumen</text>
<text x="337.06" y="362.62" text-anchor="end" font-size="8.7" fill="#1a1a1a">105</text>
<text x="467.39" y="362.62" font-size="8.7" fill="#1a1a1a">59</text>
<rect x="313.72" y="367.66" width="106.38" height="10.2" fill="#FFFF00"/>
<rect x="420.9" y="367.66" width="50.43" height="10.2" fill="#80FF66"/>
<text x="215" y="374.00" text-anchor="end" font-size="10.5" fill="#1a1a1a">Organelle</text>
<text x="313.42" y="375.26" text-anchor="end" font-size="8.7" fill="#1a1a1a">135</text>
<text x="471.33" y="375.26" font-size="8.7" fill="#1a1a1a">64</text>
<rect x="317.66" y="380.30" width="102.44" height="10.2" fill="#FFFF00"/>
<rect x="420.9" y="380.30" width="59.10" height="10.2" fill="#80FF66"/>
<text x="215" y="386.70" text-anchor="end" font-size="10.5" fill="#1a1a1a">Binding</text>
<text x="317.36" y="387.90" text-anchor="end" font-size="8.7" fill="#1a1a1a">130</text>
<text x="480.00" y="387.90" font-size="8.7" fill="#1a1a1a">75</text>
<rect x="321.60" y="392.95" width="98.50" height="10.2" fill="#FFFF00"/>
<rect x="420.9" y="392.95" width="68.56" height="10.2" fill="#80FF66"/>
<text x="215" y="399.40" text-anchor="end" font-size="10.5" fill="#1a1a1a">Catalytic activity</text>
<text x="321.30" y="400.55" text-anchor="end" font-size="8.7" fill="#1a1a1a">125</text>
<text x="489.46" y="400.55" font-size="8.7" fill="#1a1a1a">87</text>
<rect x="301.11" y="405.59" width="118.99" height="10.2" fill="#FFFF00"/>
<rect x="420.9" y="405.59" width="87.47" height="10.2" fill="#80FF66"/>
<text x="215" y="412.10" text-anchor="end" font-size="10.5" fill="#1a1a1a">Kinase activity</text>
<text x="300.81" y="413.19" text-anchor="end" font-size="8.7" fill="#1a1a1a">151</text>
<text x="508.37" y="413.19" font-size="8.7" fill="#1a1a1a">111</text>
<rect x="390.94" y="418.23" width="29.16" height="10.2" fill="#FFFF00"/>
<rect x="420.9" y="418.23" width="21.28" height="10.2" fill="#80FF66"/>
<text x="215" y="424.80" text-anchor="end" font-size="10.5" fill="#1a1a1a">Molecular function regulator</text>
<text x="390.64" y="425.83" text-anchor="end" font-size="8.7" fill="#1a1a1a">37</text>
<text x="442.18" y="425.83" font-size="8.7" fill="#1a1a1a">27</text>
<rect x="411.43" y="430.87" width="8.67" height="10.2" fill="#FFFF00"/>
<rect x="420.9" y="430.87" width="7.88" height="10.2" fill="#80FF66"/>
<text x="215" y="437.50" text-anchor="end" font-size="10.5" fill="#1a1a1a">Motor activity</text>
<text x="411.13" y="438.47" text-anchor="end" font-size="8.7" fill="#1a1a1a">11</text>
<text x="428.78" y="438.47" font-size="8.7" fill="#1a1a1a">10</text>
<rect x="379.91" y="443.52" width="40.19" height="10.2" fill="#FFFF00"/>
<rect x="420.9" y="443.52" width="10.24" height="10.2" fill="#80FF66"/>
<text x="215" y="450.20" text-anchor="end" font-size="10.5" fill="#1a1a1a">Structural molecule activity</text>
<text x="379.61" y="451.12" text-anchor="end" font-size="8.7" fill="#1a1a1a">51</text>
<text x="431.14" y="451.12" font-size="8.7" fill="#1a1a1a">13</text>
<rect x="363.36" y="456.16" width="56.74" height="10.2" fill="#FFFF00"/>
<rect x="420.9" y="456.16" width="49.64" height="10.2" fill="#80FF66"/>
<text x="215" y="462.90" text-anchor="end" font-size="10.5" fill="#1a1a1a">Transcription regulator activity</text>
<text x="363.06" y="463.76" text-anchor="end" font-size="8.7" fill="#1a1a1a">72</text>
<text x="470.54" y="463.76" font-size="8.7" fill="#1a1a1a">63</text>
<rect x="342.09" y="468.80" width="78.01" height="10.2" fill="#FFFF00"/>
<rect x="420.9" y="468.80" width="47.28" height="10.2" fill="#80FF66"/>
<text x="215" y="475.60" text-anchor="end" font-size="10.5" fill="#1a1a1a">Transporter activity</text>
<text x="341.79" y="476.40" text-anchor="end" font-size="8.7" fill="#1a1a1a">99</text>
<text x="468.18" y="476.40" font-size="8.7" fill="#1a1a1a">60</text>
<path d="M218.3,190.9V481.6H541" fill="none" stroke="#151515" stroke-width="1.45"/>
<path d="M240.7,481.6V491" stroke="#151515" stroke-width="1.45"/>
<path d="M270.7,481.6V491" stroke="#151515" stroke-width="1.45"/>
<path d="M300.7,481.6V491" stroke="#151515" stroke-width="1.45"/>
<path d="M330.7,481.6V491" stroke="#151515" stroke-width="1.45"/>
<path d="M360.7,481.6V491" stroke="#151515" stroke-width="1.45"/>
<path d="M390.7,481.6V491" stroke="#151515" stroke-width="1.45"/>
<path d="M420.7,481.6V491" stroke="#151515" stroke-width="1.45"/>
<path d="M450.7,481.6V491" stroke="#151515" stroke-width="1.45"/>
<path d="M480.7,481.6V491" stroke="#151515" stroke-width="1.45"/>
<path d="M510.7,481.6V491" stroke="#151515" stroke-width="1.45"/>
<path d="M540.7,481.6V491" stroke="#151515" stroke-width="1.45"/>
<text x="375.5" y="197.7" text-anchor="middle" font-size="12.5" fill="#1a1a1a">Cluster 1</text>
<text x="454.8" y="197.7" text-anchor="middle" font-size="12.5" fill="#1a1a1a">Cluster 2</text>
<text x="384.6" y="511.4" font-size="12.5" fill="#1a1a1a">DEGs number</text>
<path d="M63.8,198.7H60V282.3H63.8" fill="none" stroke="#151515" stroke-width="1.3"/>
<text x="45.6" y="247.10" text-anchor="middle" font-size="10.3" fill="#1a1a1a">BP</text>
<path d="M63.8,293.5H60V370.3H63.8" fill="none" stroke="#151515" stroke-width="1.3"/>
<text x="45.6" y="335.70" text-anchor="middle" font-size="10.3" fill="#1a1a1a">CC</text>
<path d="M63.8,378.8H60V474.2H63.8" fill="none" stroke="#151515" stroke-width="1.3"/>
<text x="45.6" y="438.00" text-anchor="middle" font-size="10.3" fill="#1a1a1a">MF</text>
</svg>
</body></html>
